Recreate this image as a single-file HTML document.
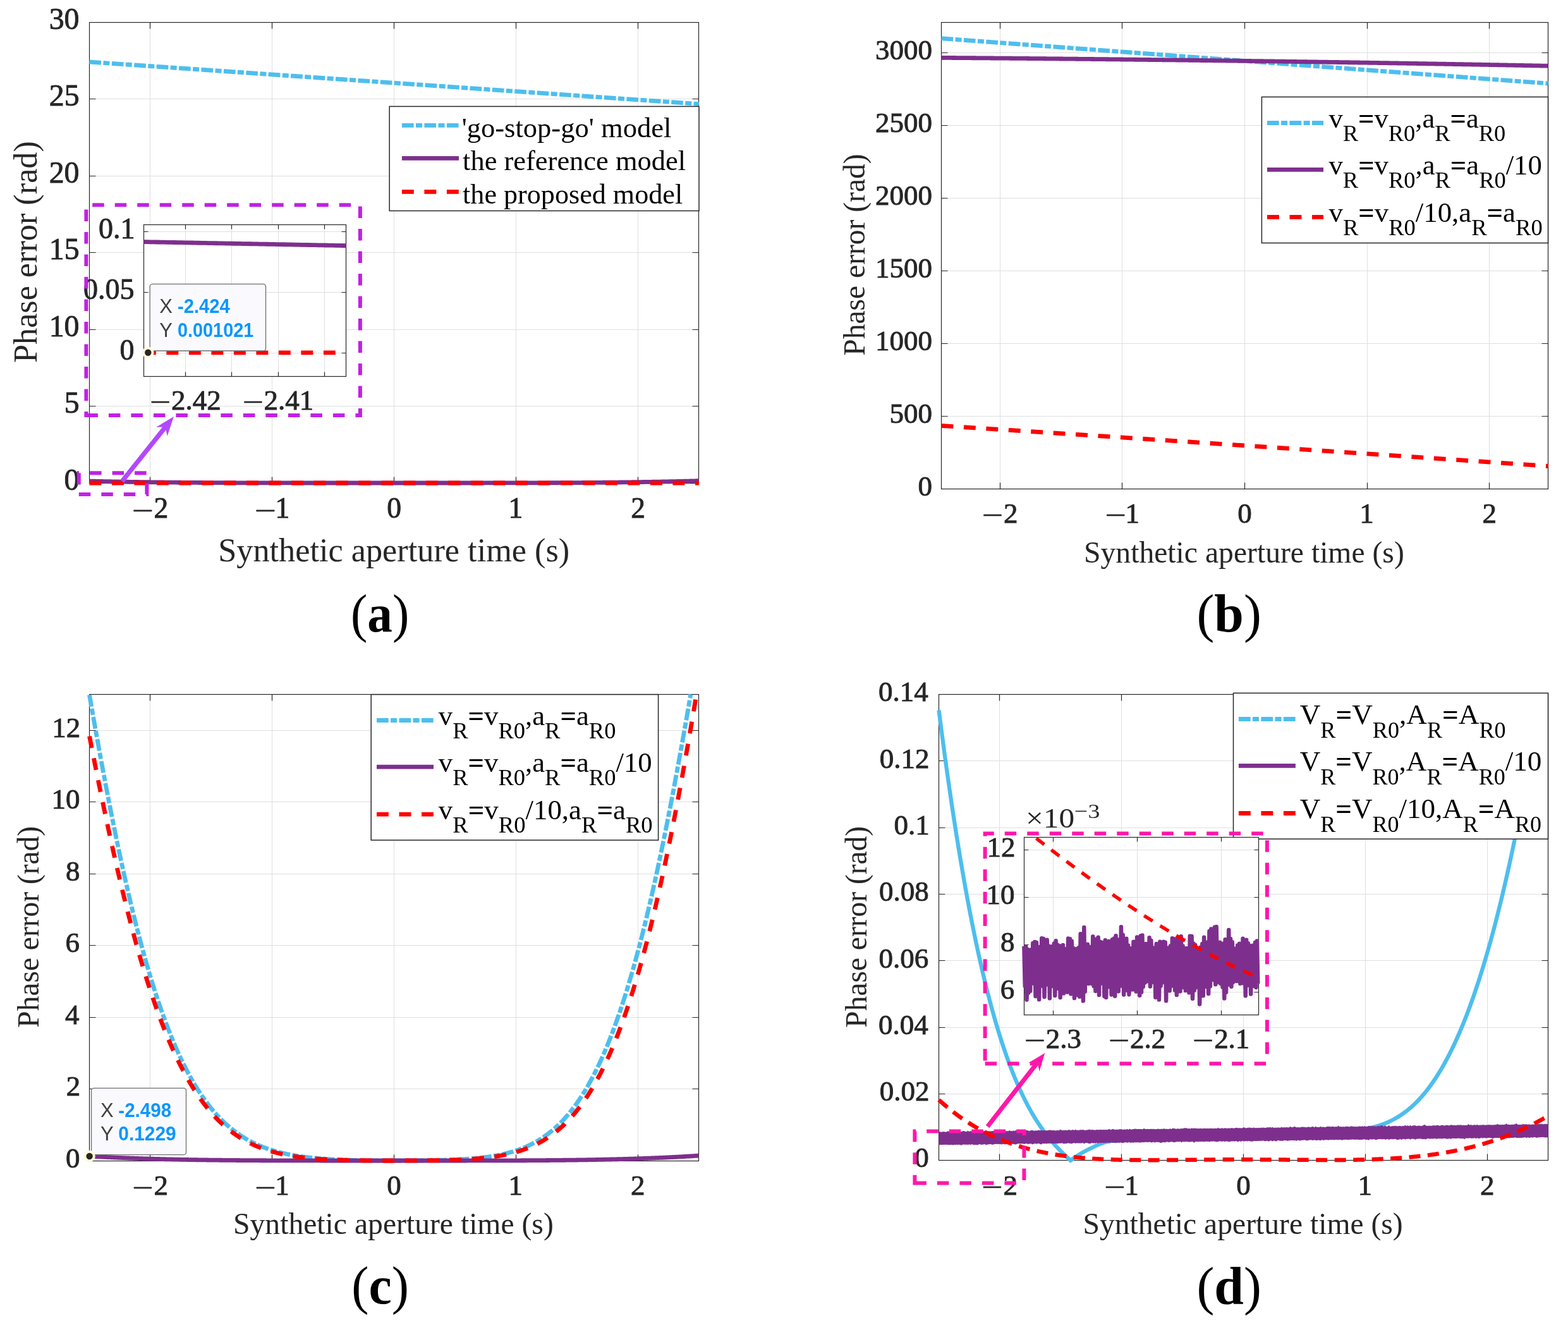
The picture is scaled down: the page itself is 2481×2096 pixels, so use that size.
<!DOCTYPE html>
<html><head><meta charset="utf-8"><style>html,body{margin:0;padding:0;background:#fff;}svg{display:block;}</style></head>
<body><svg xmlns="http://www.w3.org/2000/svg" width="2481" height="2096" viewBox="0 0 2481 2096">
<defs><clipPath id="cA"><rect x="141.4" y="35" width="964.5" height="729"/></clipPath><clipPath id="cIA"><rect x="227.4" y="355.5" width="320.2" height="240"/></clipPath><clipPath id="cB"><rect x="1489.5" y="35.5" width="960" height="738"/></clipPath><clipPath id="cC"><rect x="141.5" y="1098.3" width="964" height="737.7"/></clipPath><clipPath id="cD"><rect x="1485.5" y="1098.7" width="964" height="737"/></clipPath><clipPath id="cID"><rect x="1620.4" y="1324.9" width="371" height="280.5"/></clipPath></defs>
<rect width="2481" height="2096" fill="#fff"/>
<rect x="141.4" y="35" width="964.5" height="729" fill="#fff"/>
<path d="M237.5 35V764 M430.5 35V764 M623.5 35V764 M816.5 35V764 M1009.5 35V764 M141.4 764.5H1105.9 M141.4 642.5H1105.9 M141.4 521.5H1105.9 M141.4 399.5H1105.9 M141.4 278.5H1105.9 M141.4 156.5H1105.9 M141.4 35.5H1105.9" stroke="#dfdfdf" stroke-width="1.0" fill="none"/>
<path d="M237.5 764.5V754.5 M237.5 35.5V45.5 M430.5 764.5V754.5 M430.5 35.5V45.5 M623.5 764.5V754.5 M623.5 35.5V45.5 M816.5 764.5V754.5 M816.5 35.5V45.5 M1009.5 764.5V754.5 M1009.5 35.5V45.5 M141.5 764.5H151.5 M1105.5 764.5H1095.5 M141.5 642.5H151.5 M1105.5 642.5H1095.5 M141.5 521.5H151.5 M1105.5 521.5H1095.5 M141.5 399.5H151.5 M1105.5 399.5H1095.5 M141.5 278.5H151.5 M1105.5 278.5H1095.5 M141.5 156.5H151.5 M1105.5 156.5H1095.5 M141.5 35.5H151.5 M1105.5 35.5H1095.5" stroke="#262626" stroke-width="1.2" fill="none"/>
<rect x="141.5" y="35.5" width="964" height="729" fill="none" stroke="#262626" stroke-width="1.2"/>
<path d="M141.4 97.94 L142.61 98.02 L143.81 98.1 L145.02 98.19 L146.22 98.27 L147.43 98.35 L148.63 98.44 L149.84 98.52 L151.04 98.6 L152.25 98.69 L153.46 98.77 L154.66 98.85 L155.87 98.94 L157.07 99.02 L158.28 99.1 L159.48 99.19 L160.69 99.27 L161.9 99.35 L163.1 99.44 L164.31 99.52 L165.51 99.6 L166.72 99.68 L167.92 99.77 L169.13 99.85 L170.33 99.93 L171.54 100.02 L172.75 100.1 L173.95 100.18 L175.16 100.27 L176.36 100.35 L177.57 100.43 L178.77 100.52 L179.98 100.6 L181.19 100.68 L182.39 100.77 L183.6 100.85 L184.8 100.93 L186.01 101.02 L187.21 101.1 L188.42 101.18 L189.62 101.27 L190.83 101.35 L192.04 101.43 L193.24 101.52 L194.45 101.6 L195.65 101.68 L196.86 101.77 L198.06 101.85 L199.27 101.93 L200.48 102.02 L201.68 102.1 L202.89 102.18 L204.09 102.26 L205.3 102.35 L206.5 102.43 L207.71 102.51 L208.92 102.6 L210.12 102.68 L211.33 102.76 L212.53 102.85 L213.74 102.93 L214.94 103.01 L216.15 103.1 L217.35 103.18 L218.56 103.26 L219.77 103.35 L220.97 103.43 L222.18 103.51 L223.38 103.6 L224.59 103.68 L225.79 103.76 L227 103.85 L228.21 103.93 L229.41 104.01 L230.62 104.1 L231.82 104.18 L233.03 104.26 L234.23 104.35 L235.44 104.43 L236.64 104.51 L237.85 104.6 L239.06 104.68 L240.26 104.76 L241.47 104.84 L242.67 104.93 L243.88 105.01 L245.08 105.09 L246.29 105.18 L247.5 105.26 L248.7 105.34 L249.91 105.43 L251.11 105.51 L252.32 105.59 L253.52 105.68 L254.73 105.76 L255.93 105.84 L257.14 105.93 L258.35 106.01 L259.55 106.09 L260.76 106.18 L261.96 106.26 L263.17 106.34 L264.37 106.43 L265.58 106.51 L266.78 106.59 L267.99 106.68 L269.2 106.76 L270.4 106.84 L271.61 106.93 L272.81 107.01 L274.02 107.09 L275.22 107.18 L276.43 107.26 L277.64 107.34 L278.84 107.42 L280.05 107.51 L281.25 107.59 L282.46 107.67 L283.66 107.76 L284.87 107.84 L286.08 107.92 L287.28 108.01 L288.49 108.09 L289.69 108.17 L290.9 108.26 L292.1 108.34 L293.31 108.42 L294.51 108.51 L295.72 108.59 L296.93 108.67 L298.13 108.76 L299.34 108.84 L300.54 108.92 L301.75 109.01 L302.95 109.09 L304.16 109.17 L305.37 109.26 L306.57 109.34 L307.78 109.42 L308.98 109.51 L310.19 109.59 L311.39 109.67 L312.6 109.76 L313.8 109.84 L315.01 109.92 L316.22 110 L317.42 110.09 L318.63 110.17 L319.83 110.25 L321.04 110.34 L322.24 110.42 L323.45 110.5 L324.66 110.59 L325.86 110.67 L327.07 110.75 L328.27 110.84 L329.48 110.92 L330.68 111 L331.89 111.09 L333.09 111.17 L334.3 111.25 L335.51 111.34 L336.71 111.42 L337.92 111.5 L339.12 111.59 L340.33 111.67 L341.53 111.75 L342.74 111.84 L343.95 111.92 L345.15 112 L346.36 112.09 L347.56 112.17 L348.77 112.25 L349.97 112.34 L351.18 112.42 L352.38 112.5 L353.59 112.59 L354.8 112.67 L356 112.75 L357.21 112.83 L358.41 112.92 L359.62 113 L360.82 113.08 L362.03 113.17 L363.24 113.25 L364.44 113.33 L365.65 113.42 L366.85 113.5 L368.06 113.58 L369.26 113.67 L370.47 113.75 L371.67 113.83 L372.88 113.92 L374.09 114 L375.29 114.08 L376.5 114.17 L377.7 114.25 L378.91 114.33 L380.11 114.42 L381.32 114.5 L382.53 114.58 L383.73 114.67 L384.94 114.75 L386.14 114.83 L387.35 114.92 L388.55 115 L389.76 115.08 L390.96 115.17 L392.17 115.25 L393.38 115.33 L394.58 115.41 L395.79 115.5 L396.99 115.58 L398.2 115.66 L399.4 115.75 L400.61 115.83 L401.82 115.91 L403.02 116 L404.23 116.08 L405.43 116.16 L406.64 116.25 L407.84 116.33 L409.05 116.41 L410.25 116.5 L411.46 116.58 L412.67 116.66 L413.87 116.75 L415.08 116.83 L416.28 116.91 L417.49 117 L418.69 117.08 L419.9 117.16 L421.11 117.25 L422.31 117.33 L423.52 117.41 L424.72 117.5 L425.93 117.58 L427.13 117.66 L428.34 117.75 L429.54 117.83 L430.75 117.91 L431.96 117.99 L433.16 118.08 L434.37 118.16 L435.57 118.24 L436.78 118.33 L437.98 118.41 L439.19 118.49 L440.4 118.58 L441.6 118.66 L442.81 118.74 L444.01 118.83 L445.22 118.91 L446.42 118.99 L447.63 119.08 L448.83 119.16 L450.04 119.24 L451.25 119.33 L452.45 119.41 L453.66 119.49 L454.86 119.58 L456.07 119.66 L457.27 119.74 L458.48 119.83 L459.69 119.91 L460.89 119.99 L462.1 120.08 L463.3 120.16 L464.51 120.24 L465.71 120.33 L466.92 120.41 L468.12 120.49 L469.33 120.57 L470.54 120.66 L471.74 120.74 L472.95 120.82 L474.15 120.91 L475.36 120.99 L476.56 121.07 L477.77 121.16 L478.98 121.24 L480.18 121.32 L481.39 121.41 L482.59 121.49 L483.8 121.57 L485 121.66 L486.21 121.74 L487.41 121.82 L488.62 121.91 L489.83 121.99 L491.03 122.07 L492.24 122.16 L493.44 122.24 L494.65 122.32 L495.85 122.41 L497.06 122.49 L498.27 122.57 L499.47 122.66 L500.68 122.74 L501.88 122.82 L503.09 122.91 L504.29 122.99 L505.5 123.07 L506.7 123.15 L507.91 123.24 L509.12 123.32 L510.32 123.4 L511.53 123.49 L512.73 123.57 L513.94 123.65 L515.14 123.74 L516.35 123.82 L517.56 123.9 L518.76 123.99 L519.97 124.07 L521.17 124.15 L522.38 124.24 L523.58 124.32 L524.79 124.4 L525.99 124.49 L527.2 124.57 L528.41 124.65 L529.61 124.74 L530.82 124.82 L532.02 124.9 L533.23 124.99 L534.43 125.07 L535.64 125.15 L536.85 125.24 L538.05 125.32 L539.26 125.4 L540.46 125.49 L541.67 125.57 L542.87 125.65 L544.08 125.73 L545.28 125.82 L546.49 125.9 L547.7 125.98 L548.9 126.07 L550.11 126.15 L551.31 126.23 L552.52 126.32 L553.72 126.4 L554.93 126.48 L556.14 126.57 L557.34 126.65 L558.55 126.73 L559.75 126.82 L560.96 126.9 L562.16 126.98 L563.37 127.07 L564.57 127.15 L565.78 127.23 L566.99 127.32 L568.19 127.4 L569.4 127.48 L570.6 127.57 L571.81 127.65 L573.01 127.73 L574.22 127.82 L575.43 127.9 L576.63 127.98 L577.84 128.07 L579.04 128.15 L580.25 128.23 L581.45 128.32 L582.66 128.4 L583.86 128.48 L585.07 128.56 L586.28 128.65 L587.48 128.73 L588.69 128.81 L589.89 128.9 L591.1 128.98 L592.3 129.06 L593.51 129.15 L594.72 129.23 L595.92 129.31 L597.13 129.4 L598.33 129.48 L599.54 129.56 L600.74 129.65 L601.95 129.73 L603.15 129.81 L604.36 129.9 L605.57 129.98 L606.77 130.06 L607.98 130.15 L609.18 130.23 L610.39 130.31 L611.59 130.4 L612.8 130.48 L614.01 130.56 L615.21 130.65 L616.42 130.73 L617.62 130.81 L618.83 130.9 L620.03 130.98 L621.24 131.06 L622.44 131.14 L623.65 131.23 L624.86 131.31 L626.06 131.39 L627.27 131.48 L628.47 131.56 L629.68 131.64 L630.88 131.73 L632.09 131.81 L633.3 131.89 L634.5 131.98 L635.71 132.06 L636.91 132.14 L638.12 132.23 L639.32 132.31 L640.53 132.39 L641.73 132.48 L642.94 132.56 L644.15 132.64 L645.35 132.73 L646.56 132.81 L647.76 132.89 L648.97 132.98 L650.17 133.06 L651.38 133.14 L652.59 133.23 L653.79 133.31 L655 133.39 L656.2 133.48 L657.41 133.56 L658.61 133.64 L659.82 133.72 L661.02 133.81 L662.23 133.89 L663.44 133.97 L664.64 134.06 L665.85 134.14 L667.05 134.22 L668.26 134.31 L669.46 134.39 L670.67 134.47 L671.88 134.56 L673.08 134.64 L674.29 134.72 L675.49 134.81 L676.7 134.89 L677.9 134.97 L679.11 135.06 L680.31 135.14 L681.52 135.22 L682.73 135.31 L683.93 135.39 L685.14 135.47 L686.34 135.56 L687.55 135.64 L688.75 135.72 L689.96 135.81 L691.17 135.89 L692.37 135.97 L693.58 136.06 L694.78 136.14 L695.99 136.22 L697.19 136.3 L698.4 136.39 L699.6 136.47 L700.81 136.55 L702.02 136.64 L703.22 136.72 L704.43 136.8 L705.63 136.89 L706.84 136.97 L708.04 137.05 L709.25 137.14 L710.46 137.22 L711.66 137.3 L712.87 137.39 L714.07 137.47 L715.28 137.55 L716.48 137.64 L717.69 137.72 L718.89 137.8 L720.1 137.89 L721.31 137.97 L722.51 138.05 L723.72 138.14 L724.92 138.22 L726.13 138.3 L727.33 138.39 L728.54 138.47 L729.75 138.55 L730.95 138.64 L732.16 138.72 L733.36 138.8 L734.57 138.88 L735.77 138.97 L736.98 139.05 L738.18 139.13 L739.39 139.22 L740.6 139.3 L741.8 139.38 L743.01 139.47 L744.21 139.55 L745.42 139.63 L746.62 139.72 L747.83 139.8 L749.04 139.88 L750.24 139.97 L751.45 140.05 L752.65 140.13 L753.86 140.22 L755.06 140.3 L756.27 140.38 L757.47 140.47 L758.68 140.55 L759.89 140.63 L761.09 140.72 L762.3 140.8 L763.5 140.88 L764.71 140.97 L765.91 141.05 L767.12 141.13 L768.33 141.22 L769.53 141.3 L770.74 141.38 L771.94 141.46 L773.15 141.55 L774.35 141.63 L775.56 141.71 L776.76 141.8 L777.97 141.88 L779.18 141.96 L780.38 142.05 L781.59 142.13 L782.79 142.21 L784 142.3 L785.2 142.38 L786.41 142.46 L787.62 142.55 L788.82 142.63 L790.03 142.71 L791.23 142.8 L792.44 142.88 L793.64 142.96 L794.85 143.05 L796.05 143.13 L797.26 143.21 L798.47 143.3 L799.67 143.38 L800.88 143.46 L802.08 143.55 L803.29 143.63 L804.49 143.71 L805.7 143.8 L806.91 143.88 L808.11 143.96 L809.32 144.05 L810.52 144.13 L811.73 144.21 L812.93 144.29 L814.14 144.38 L815.34 144.46 L816.55 144.54 L817.76 144.63 L818.96 144.71 L820.17 144.79 L821.37 144.88 L822.58 144.96 L823.78 145.04 L824.99 145.13 L826.2 145.21 L827.4 145.29 L828.61 145.38 L829.81 145.46 L831.02 145.54 L832.22 145.63 L833.43 145.71 L834.63 145.79 L835.84 145.88 L837.05 145.96 L838.25 146.04 L839.46 146.13 L840.66 146.21 L841.87 146.29 L843.07 146.38 L844.28 146.46 L845.49 146.54 L846.69 146.63 L847.9 146.71 L849.1 146.79 L850.31 146.87 L851.51 146.96 L852.72 147.04 L853.92 147.12 L855.13 147.21 L856.34 147.29 L857.54 147.37 L858.75 147.46 L859.95 147.54 L861.16 147.62 L862.36 147.71 L863.57 147.79 L864.78 147.87 L865.98 147.96 L867.19 148.04 L868.39 148.12 L869.6 148.21 L870.8 148.29 L872.01 148.37 L873.21 148.46 L874.42 148.54 L875.63 148.62 L876.83 148.71 L878.04 148.79 L879.24 148.87 L880.45 148.96 L881.65 149.04 L882.86 149.12 L884.07 149.21 L885.27 149.29 L886.48 149.37 L887.68 149.45 L888.89 149.54 L890.09 149.62 L891.3 149.7 L892.5 149.79 L893.71 149.87 L894.92 149.95 L896.12 150.04 L897.33 150.12 L898.53 150.2 L899.74 150.29 L900.94 150.37 L902.15 150.45 L903.36 150.54 L904.56 150.62 L905.77 150.7 L906.97 150.79 L908.18 150.87 L909.38 150.95 L910.59 151.04 L911.79 151.12 L913 151.2 L914.21 151.29 L915.41 151.37 L916.62 151.45 L917.82 151.54 L919.03 151.62 L920.23 151.7 L921.44 151.79 L922.64 151.87 L923.85 151.95 L925.06 152.03 L926.26 152.12 L927.47 152.2 L928.67 152.28 L929.88 152.37 L931.08 152.45 L932.29 152.53 L933.5 152.62 L934.7 152.7 L935.91 152.78 L937.11 152.87 L938.32 152.95 L939.52 153.03 L940.73 153.12 L941.94 153.2 L943.14 153.28 L944.35 153.37 L945.55 153.45 L946.76 153.53 L947.96 153.62 L949.17 153.7 L950.37 153.78 L951.58 153.87 L952.79 153.95 L953.99 154.03 L955.2 154.12 L956.4 154.2 L957.61 154.28 L958.81 154.37 L960.02 154.45 L961.23 154.53 L962.43 154.61 L963.64 154.7 L964.84 154.78 L966.05 154.86 L967.25 154.95 L968.46 155.03 L969.66 155.11 L970.87 155.2 L972.08 155.28 L973.28 155.36 L974.49 155.45 L975.69 155.53 L976.9 155.61 L978.1 155.7 L979.31 155.78 L980.52 155.86 L981.72 155.95 L982.93 156.03 L984.13 156.11 L985.34 156.2 L986.54 156.28 L987.75 156.36 L988.95 156.45 L990.16 156.53 L991.37 156.61 L992.57 156.7 L993.78 156.78 L994.98 156.86 L996.19 156.95 L997.39 157.03 L998.6 157.11 L999.81 157.19 L1001.01 157.28 L1002.22 157.36 L1003.42 157.44 L1004.63 157.53 L1005.83 157.61 L1007.04 157.69 L1008.24 157.78 L1009.45 157.86 L1010.66 157.94 L1011.86 158.03 L1013.07 158.11 L1014.27 158.19 L1015.48 158.28 L1016.68 158.36 L1017.89 158.44 L1019.1 158.53 L1020.3 158.61 L1021.51 158.69 L1022.71 158.78 L1023.92 158.86 L1025.12 158.94 L1026.33 159.03 L1027.53 159.11 L1028.74 159.19 L1029.95 159.28 L1031.15 159.36 L1032.36 159.44 L1033.56 159.53 L1034.77 159.61 L1035.97 159.69 L1037.18 159.78 L1038.39 159.86 L1039.59 159.94 L1040.8 160.02 L1042 160.11 L1043.21 160.19 L1044.41 160.27 L1045.62 160.36 L1046.82 160.44 L1048.03 160.52 L1049.24 160.61 L1050.44 160.69 L1051.65 160.77 L1052.85 160.86 L1054.06 160.94 L1055.26 161.02 L1056.47 161.11 L1057.68 161.19 L1058.88 161.27 L1060.09 161.36 L1061.29 161.44 L1062.5 161.52 L1063.7 161.61 L1064.91 161.69 L1066.11 161.77 L1067.32 161.86 L1068.53 161.94 L1069.73 162.02 L1070.94 162.11 L1072.14 162.19 L1073.35 162.27 L1074.55 162.36 L1075.76 162.44 L1076.97 162.52 L1078.17 162.6 L1079.38 162.69 L1080.58 162.77 L1081.79 162.85 L1082.99 162.94 L1084.2 163.02 L1085.4 163.1 L1086.61 163.19 L1087.82 163.27 L1089.02 163.35 L1090.23 163.44 L1091.43 163.52 L1092.64 163.6 L1093.84 163.69 L1095.05 163.77 L1096.26 163.85 L1097.46 163.94 L1098.67 164.02 L1099.87 164.1 L1101.08 164.19 L1102.28 164.27 L1103.49 164.35 L1104.69 164.44 L1105.9 164.52" fill="none" stroke="#4dbeee" stroke-width="6.8" stroke-linecap="butt" stroke-linejoin="round" stroke-dasharray="18.7 3.4 10 3.4"/>
<path d="M141.4 761.02 L142.61 761.05 L143.81 761.08 L145.02 761.11 L146.22 761.14 L147.43 761.17 L148.63 761.19 L149.84 761.22 L151.04 761.25 L152.25 761.28 L153.46 761.31 L154.66 761.33 L155.87 761.36 L157.07 761.39 L158.28 761.41 L159.48 761.44 L160.69 761.46 L161.9 761.49 L163.1 761.52 L164.31 761.54 L165.51 761.57 L166.72 761.59 L167.92 761.62 L169.13 761.64 L170.33 761.67 L171.54 761.69 L172.75 761.71 L173.95 761.74 L175.16 761.76 L176.36 761.79 L177.57 761.81 L178.77 761.83 L179.98 761.86 L181.19 761.88 L182.39 761.9 L183.6 761.92 L184.8 761.95 L186.01 761.97 L187.21 761.99 L188.42 762.01 L189.62 762.03 L190.83 762.05 L192.04 762.08 L193.24 762.1 L194.45 762.12 L195.65 762.14 L196.86 762.16 L198.06 762.18 L199.27 762.2 L200.48 762.22 L201.68 762.24 L202.89 762.26 L204.09 762.28 L205.3 762.3 L206.5 762.32 L207.71 762.34 L208.92 762.36 L210.12 762.37 L211.33 762.39 L212.53 762.41 L213.74 762.43 L214.94 762.45 L216.15 762.47 L217.35 762.48 L218.56 762.5 L219.77 762.52 L220.97 762.54 L222.18 762.55 L223.38 762.57 L224.59 762.59 L225.79 762.6 L227 762.62 L228.21 762.64 L229.41 762.65 L230.62 762.67 L231.82 762.69 L233.03 762.7 L234.23 762.72 L235.44 762.73 L236.64 762.75 L237.85 762.76 L239.06 762.78 L240.26 762.79 L241.47 762.81 L242.67 762.82 L243.88 762.84 L245.08 762.85 L246.29 762.87 L247.5 762.88 L248.7 762.9 L249.91 762.91 L251.11 762.92 L252.32 762.94 L253.52 762.95 L254.73 762.96 L255.93 762.98 L257.14 762.99 L258.35 763 L259.55 763.02 L260.76 763.03 L261.96 763.04 L263.17 763.05 L264.37 763.07 L265.58 763.08 L266.78 763.09 L267.99 763.1 L269.2 763.12 L270.4 763.13 L271.61 763.14 L272.81 763.15 L274.02 763.16 L275.22 763.17 L276.43 763.18 L277.64 763.2 L278.84 763.21 L280.05 763.22 L281.25 763.23 L282.46 763.24 L283.66 763.25 L284.87 763.26 L286.08 763.27 L287.28 763.28 L288.49 763.29 L289.69 763.3 L290.9 763.31 L292.1 763.32 L293.31 763.33 L294.51 763.34 L295.72 763.35 L296.93 763.36 L298.13 763.37 L299.34 763.38 L300.54 763.39 L301.75 763.4 L302.95 763.4 L304.16 763.41 L305.37 763.42 L306.57 763.43 L307.78 763.44 L308.98 763.45 L310.19 763.46 L311.39 763.46 L312.6 763.47 L313.8 763.48 L315.01 763.49 L316.22 763.5 L317.42 763.5 L318.63 763.51 L319.83 763.52 L321.04 763.53 L322.24 763.53 L323.45 763.54 L324.66 763.55 L325.86 763.56 L327.07 763.56 L328.27 763.57 L329.48 763.58 L330.68 763.58 L331.89 763.59 L333.09 763.6 L334.3 763.6 L335.51 763.61 L336.71 763.62 L337.92 763.62 L339.12 763.63 L340.33 763.64 L341.53 763.64 L342.74 763.65 L343.95 763.65 L345.15 763.66 L346.36 763.67 L347.56 763.67 L348.77 763.68 L349.97 763.68 L351.18 763.69 L352.38 763.69 L353.59 763.7 L354.8 763.7 L356 763.71 L357.21 763.71 L358.41 763.72 L359.62 763.72 L360.82 763.73 L362.03 763.73 L363.24 763.74 L364.44 763.74 L365.65 763.75 L366.85 763.75 L368.06 763.76 L369.26 763.76 L370.47 763.77 L371.67 763.77 L372.88 763.78 L374.09 763.78 L375.29 763.78 L376.5 763.79 L377.7 763.79 L378.91 763.8 L380.11 763.8 L381.32 763.8 L382.53 763.81 L383.73 763.81 L384.94 763.82 L386.14 763.82 L387.35 763.82 L388.55 763.83 L389.76 763.83 L390.96 763.83 L392.17 763.84 L393.38 763.84 L394.58 763.84 L395.79 763.85 L396.99 763.85 L398.2 763.85 L399.4 763.86 L400.61 763.86 L401.82 763.86 L403.02 763.86 L404.23 763.87 L405.43 763.87 L406.64 763.87 L407.84 763.88 L409.05 763.88 L410.25 763.88 L411.46 763.88 L412.67 763.89 L413.87 763.89 L415.08 763.89 L416.28 763.89 L417.49 763.9 L418.69 763.9 L419.9 763.9 L421.11 763.9 L422.31 763.91 L423.52 763.91 L424.72 763.91 L425.93 763.91 L427.13 763.91 L428.34 763.92 L429.54 763.92 L430.75 763.92 L431.96 763.92 L433.16 763.92 L434.37 763.93 L435.57 763.93 L436.78 763.93 L437.98 763.93 L439.19 763.93 L440.4 763.94 L441.6 763.94 L442.81 763.94 L444.01 763.94 L445.22 763.94 L446.42 763.94 L447.63 763.94 L448.83 763.95 L450.04 763.95 L451.25 763.95 L452.45 763.95 L453.66 763.95 L454.86 763.95 L456.07 763.95 L457.27 763.96 L458.48 763.96 L459.69 763.96 L460.89 763.96 L462.1 763.96 L463.3 763.96 L464.51 763.96 L465.71 763.96 L466.92 763.97 L468.12 763.97 L469.33 763.97 L470.54 763.97 L471.74 763.97 L472.95 763.97 L474.15 763.97 L475.36 763.97 L476.56 763.97 L477.77 763.97 L478.98 763.97 L480.18 763.98 L481.39 763.98 L482.59 763.98 L483.8 763.98 L485 763.98 L486.21 763.98 L487.41 763.98 L488.62 763.98 L489.83 763.98 L491.03 763.98 L492.24 763.98 L493.44 763.98 L494.65 763.98 L495.85 763.98 L497.06 763.99 L498.27 763.99 L499.47 763.99 L500.68 763.99 L501.88 763.99 L503.09 763.99 L504.29 763.99 L505.5 763.99 L506.7 763.99 L507.91 763.99 L509.12 763.99 L510.32 763.99 L511.53 763.99 L512.73 763.99 L513.94 763.99 L515.14 763.99 L516.35 763.99 L517.56 763.99 L518.76 763.99 L519.97 763.99 L521.17 763.99 L522.38 763.99 L523.58 763.99 L524.79 763.99 L525.99 763.99 L527.2 763.99 L528.41 764 L529.61 764 L530.82 764 L532.02 764 L533.23 764 L534.43 764 L535.64 764 L536.85 764 L538.05 764 L539.26 764 L540.46 764 L541.67 764 L542.87 764 L544.08 764 L545.28 764 L546.49 764 L547.7 764 L548.9 764 L550.11 764 L551.31 764 L552.52 764 L553.72 764 L554.93 764 L556.14 764 L557.34 764 L558.55 764 L559.75 764 L560.96 764 L562.16 764 L563.37 764 L564.57 764 L565.78 764 L566.99 764 L568.19 764 L569.4 764 L570.6 764 L571.81 764 L573.01 764 L574.22 764 L575.43 764 L576.63 764 L577.84 764 L579.04 764 L580.25 764 L581.45 764 L582.66 764 L583.86 764 L585.07 764 L586.28 764 L587.48 764 L588.69 764 L589.89 764 L591.1 764 L592.3 764 L593.51 764 L594.72 764 L595.92 764 L597.13 764 L598.33 764 L599.54 764 L600.74 764 L601.95 764 L603.15 764 L604.36 764 L605.57 764 L606.77 764 L607.98 764 L609.18 764 L610.39 764 L611.59 764 L612.8 764 L614.01 764 L615.21 764 L616.42 764 L617.62 764 L618.83 764 L620.03 764 L621.24 764 L622.44 764 L623.65 764 L624.86 764 L626.06 764 L627.27 764 L628.47 764 L629.68 764 L630.88 764 L632.09 764 L633.3 764 L634.5 764 L635.71 764 L636.91 764 L638.12 764 L639.32 764 L640.53 764 L641.73 764 L642.94 764 L644.15 764 L645.35 764 L646.56 764 L647.76 764 L648.97 764 L650.17 764 L651.38 764 L652.59 764 L653.79 764 L655 764 L656.2 764 L657.41 764 L658.61 764 L659.82 764 L661.02 764 L662.23 764 L663.44 764 L664.64 764 L665.85 764 L667.05 764 L668.26 764 L669.46 764 L670.67 764 L671.88 764 L673.08 764 L674.29 764 L675.49 764 L676.7 764 L677.9 764 L679.11 764 L680.31 764 L681.52 764 L682.73 764 L683.93 764 L685.14 764 L686.34 764 L687.55 764 L688.75 764 L689.96 764 L691.17 764 L692.37 764 L693.58 764 L694.78 764 L695.99 764 L697.19 764 L698.4 764 L699.6 764 L700.81 764 L702.02 764 L703.22 764 L704.43 764 L705.63 764 L706.84 764 L708.04 764 L709.25 764 L710.46 764 L711.66 764 L712.87 764 L714.07 764 L715.28 764 L716.48 764 L717.69 764 L718.89 764 L720.1 763.99 L721.31 763.99 L722.51 763.99 L723.72 763.99 L724.92 763.99 L726.13 763.99 L727.33 763.99 L728.54 763.99 L729.75 763.99 L730.95 763.99 L732.16 763.99 L733.36 763.99 L734.57 763.99 L735.77 763.99 L736.98 763.99 L738.18 763.99 L739.39 763.99 L740.6 763.99 L741.8 763.99 L743.01 763.99 L744.21 763.99 L745.42 763.99 L746.62 763.99 L747.83 763.99 L749.04 763.99 L750.24 763.98 L751.45 763.98 L752.65 763.98 L753.86 763.98 L755.06 763.98 L756.27 763.98 L757.47 763.98 L758.68 763.98 L759.89 763.98 L761.09 763.98 L762.3 763.98 L763.5 763.98 L764.71 763.98 L765.91 763.98 L767.12 763.97 L768.33 763.97 L769.53 763.97 L770.74 763.97 L771.94 763.97 L773.15 763.97 L774.35 763.97 L775.56 763.97 L776.76 763.97 L777.97 763.97 L779.18 763.96 L780.38 763.96 L781.59 763.96 L782.79 763.96 L784 763.96 L785.2 763.96 L786.41 763.96 L787.62 763.96 L788.82 763.96 L790.03 763.95 L791.23 763.95 L792.44 763.95 L793.64 763.95 L794.85 763.95 L796.05 763.95 L797.26 763.95 L798.47 763.94 L799.67 763.94 L800.88 763.94 L802.08 763.94 L803.29 763.94 L804.49 763.94 L805.7 763.93 L806.91 763.93 L808.11 763.93 L809.32 763.93 L810.52 763.93 L811.73 763.92 L812.93 763.92 L814.14 763.92 L815.34 763.92 L816.55 763.92 L817.76 763.91 L818.96 763.91 L820.17 763.91 L821.37 763.91 L822.58 763.91 L823.78 763.9 L824.99 763.9 L826.2 763.9 L827.4 763.9 L828.61 763.89 L829.81 763.89 L831.02 763.89 L832.22 763.89 L833.43 763.88 L834.63 763.88 L835.84 763.88 L837.05 763.87 L838.25 763.87 L839.46 763.87 L840.66 763.87 L841.87 763.86 L843.07 763.86 L844.28 763.86 L845.49 763.85 L846.69 763.85 L847.9 763.85 L849.1 763.84 L850.31 763.84 L851.51 763.84 L852.72 763.83 L853.92 763.83 L855.13 763.83 L856.34 763.82 L857.54 763.82 L858.75 763.81 L859.95 763.81 L861.16 763.81 L862.36 763.8 L863.57 763.8 L864.78 763.79 L865.98 763.79 L867.19 763.79 L868.39 763.78 L869.6 763.78 L870.8 763.77 L872.01 763.77 L873.21 763.76 L874.42 763.76 L875.63 763.75 L876.83 763.75 L878.04 763.75 L879.24 763.74 L880.45 763.74 L881.65 763.73 L882.86 763.73 L884.07 763.72 L885.27 763.71 L886.48 763.71 L887.68 763.7 L888.89 763.7 L890.09 763.69 L891.3 763.69 L892.5 763.68 L893.71 763.68 L894.92 763.67 L896.12 763.66 L897.33 763.66 L898.53 763.65 L899.74 763.65 L900.94 763.64 L902.15 763.63 L903.36 763.63 L904.56 763.62 L905.77 763.61 L906.97 763.61 L908.18 763.6 L909.38 763.59 L910.59 763.59 L911.79 763.58 L913 763.57 L914.21 763.56 L915.41 763.56 L916.62 763.55 L917.82 763.54 L919.03 763.53 L920.23 763.53 L921.44 763.52 L922.64 763.51 L923.85 763.5 L925.06 763.49 L926.26 763.49 L927.47 763.48 L928.67 763.47 L929.88 763.46 L931.08 763.45 L932.29 763.44 L933.5 763.43 L934.7 763.43 L935.91 763.42 L937.11 763.41 L938.32 763.4 L939.52 763.39 L940.73 763.38 L941.94 763.37 L943.14 763.36 L944.35 763.35 L945.55 763.34 L946.76 763.33 L947.96 763.32 L949.17 763.31 L950.37 763.3 L951.58 763.29 L952.79 763.28 L953.99 763.27 L955.2 763.26 L956.4 763.25 L957.61 763.24 L958.81 763.22 L960.02 763.21 L961.23 763.2 L962.43 763.19 L963.64 763.18 L964.84 763.17 L966.05 763.15 L967.25 763.14 L968.46 763.13 L969.66 763.12 L970.87 763.1 L972.08 763.09 L973.28 763.08 L974.49 763.07 L975.69 763.05 L976.9 763.04 L978.1 763.03 L979.31 763.01 L980.52 763 L981.72 762.99 L982.93 762.97 L984.13 762.96 L985.34 762.94 L986.54 762.93 L987.75 762.91 L988.95 762.9 L990.16 762.89 L991.37 762.87 L992.57 762.86 L993.78 762.84 L994.98 762.83 L996.19 762.81 L997.39 762.79 L998.6 762.78 L999.81 762.76 L1001.01 762.75 L1002.22 762.73 L1003.42 762.71 L1004.63 762.7 L1005.83 762.68 L1007.04 762.66 L1008.24 762.65 L1009.45 762.63 L1010.66 762.61 L1011.86 762.59 L1013.07 762.58 L1014.27 762.56 L1015.48 762.54 L1016.68 762.52 L1017.89 762.5 L1019.1 762.48 L1020.3 762.47 L1021.51 762.45 L1022.71 762.43 L1023.92 762.41 L1025.12 762.39 L1026.33 762.37 L1027.53 762.35 L1028.74 762.33 L1029.95 762.31 L1031.15 762.29 L1032.36 762.27 L1033.56 762.25 L1034.77 762.23 L1035.97 762.2 L1037.18 762.18 L1038.39 762.16 L1039.59 762.14 L1040.8 762.12 L1042 762.1 L1043.21 762.07 L1044.41 762.05 L1045.62 762.03 L1046.82 762.01 L1048.03 761.98 L1049.24 761.96 L1050.44 761.94 L1051.65 761.91 L1052.85 761.89 L1054.06 761.86 L1055.26 761.84 L1056.47 761.81 L1057.68 761.79 L1058.88 761.76 L1060.09 761.74 L1061.29 761.71 L1062.5 761.69 L1063.7 761.66 L1064.91 761.64 L1066.11 761.61 L1067.32 761.58 L1068.53 761.56 L1069.73 761.53 L1070.94 761.5 L1072.14 761.48 L1073.35 761.45 L1074.55 761.42 L1075.76 761.39 L1076.97 761.36 L1078.17 761.33 L1079.38 761.31 L1080.58 761.28 L1081.79 761.25 L1082.99 761.22 L1084.2 761.19 L1085.4 761.16 L1086.61 761.13 L1087.82 761.1 L1089.02 761.07 L1090.23 761.04 L1091.43 761 L1092.64 760.97 L1093.84 760.94 L1095.05 760.91 L1096.26 760.88 L1097.46 760.84 L1098.67 760.81 L1099.87 760.78 L1101.08 760.75 L1102.28 760.71 L1103.49 760.68 L1104.69 760.64 L1105.9 760.61" fill="none" stroke="#7e2f8e" stroke-width="6.8" stroke-linecap="butt" stroke-linejoin="round"/>
<path d="M141.4 763.98 L142.61 763.98 L143.81 763.98 L145.02 763.98 L146.22 763.98 L147.43 763.98 L148.63 763.98 L149.84 763.98 L151.04 763.98 L152.25 763.98 L153.46 763.98 L154.66 763.98 L155.87 763.98 L157.07 763.98 L158.28 763.98 L159.48 763.98 L160.69 763.98 L161.9 763.98 L163.1 763.98 L164.31 763.98 L165.51 763.98 L166.72 763.98 L167.92 763.98 L169.13 763.98 L170.33 763.98 L171.54 763.98 L172.75 763.98 L173.95 763.98 L175.16 763.98 L176.36 763.98 L177.57 763.98 L178.77 763.98 L179.98 763.98 L181.19 763.98 L182.39 763.98 L183.6 763.98 L184.8 763.98 L186.01 763.98 L187.21 763.98 L188.42 763.98 L189.62 763.98 L190.83 763.98 L192.04 763.98 L193.24 763.98 L194.45 763.98 L195.65 763.98 L196.86 763.98 L198.06 763.98 L199.27 763.98 L200.48 763.98 L201.68 763.98 L202.89 763.98 L204.09 763.98 L205.3 763.98 L206.5 763.98 L207.71 763.98 L208.92 763.98 L210.12 763.98 L211.33 763.98 L212.53 763.98 L213.74 763.98 L214.94 763.98 L216.15 763.98 L217.35 763.98 L218.56 763.98 L219.77 763.98 L220.97 763.98 L222.18 763.98 L223.38 763.98 L224.59 763.98 L225.79 763.98 L227 763.98 L228.21 763.98 L229.41 763.98 L230.62 763.98 L231.82 763.98 L233.03 763.98 L234.23 763.98 L235.44 763.98 L236.64 763.98 L237.85 763.98 L239.06 763.98 L240.26 763.98 L241.47 763.98 L242.67 763.98 L243.88 763.98 L245.08 763.98 L246.29 763.98 L247.5 763.98 L248.7 763.98 L249.91 763.98 L251.11 763.98 L252.32 763.98 L253.52 763.98 L254.73 763.98 L255.93 763.98 L257.14 763.98 L258.35 763.98 L259.55 763.98 L260.76 763.98 L261.96 763.98 L263.17 763.98 L264.37 763.98 L265.58 763.98 L266.78 763.98 L267.99 763.98 L269.2 763.98 L270.4 763.98 L271.61 763.98 L272.81 763.98 L274.02 763.98 L275.22 763.98 L276.43 763.98 L277.64 763.98 L278.84 763.98 L280.05 763.98 L281.25 763.98 L282.46 763.98 L283.66 763.98 L284.87 763.98 L286.08 763.98 L287.28 763.98 L288.49 763.98 L289.69 763.98 L290.9 763.98 L292.1 763.98 L293.31 763.98 L294.51 763.98 L295.72 763.98 L296.93 763.98 L298.13 763.98 L299.34 763.98 L300.54 763.98 L301.75 763.98 L302.95 763.98 L304.16 763.98 L305.37 763.98 L306.57 763.98 L307.78 763.98 L308.98 763.98 L310.19 763.98 L311.39 763.98 L312.6 763.98 L313.8 763.98 L315.01 763.98 L316.22 763.98 L317.42 763.98 L318.63 763.98 L319.83 763.98 L321.04 763.98 L322.24 763.98 L323.45 763.98 L324.66 763.98 L325.86 763.98 L327.07 763.98 L328.27 763.98 L329.48 763.98 L330.68 763.98 L331.89 763.98 L333.09 763.98 L334.3 763.98 L335.51 763.98 L336.71 763.98 L337.92 763.98 L339.12 763.98 L340.33 763.98 L341.53 763.98 L342.74 763.98 L343.95 763.98 L345.15 763.98 L346.36 763.98 L347.56 763.98 L348.77 763.98 L349.97 763.98 L351.18 763.98 L352.38 763.98 L353.59 763.98 L354.8 763.98 L356 763.98 L357.21 763.98 L358.41 763.98 L359.62 763.98 L360.82 763.98 L362.03 763.98 L363.24 763.98 L364.44 763.98 L365.65 763.98 L366.85 763.98 L368.06 763.98 L369.26 763.98 L370.47 763.98 L371.67 763.98 L372.88 763.98 L374.09 763.98 L375.29 763.98 L376.5 763.98 L377.7 763.98 L378.91 763.98 L380.11 763.98 L381.32 763.98 L382.53 763.98 L383.73 763.98 L384.94 763.98 L386.14 763.98 L387.35 763.98 L388.55 763.98 L389.76 763.98 L390.96 763.98 L392.17 763.98 L393.38 763.98 L394.58 763.98 L395.79 763.98 L396.99 763.98 L398.2 763.98 L399.4 763.98 L400.61 763.98 L401.82 763.98 L403.02 763.98 L404.23 763.98 L405.43 763.98 L406.64 763.98 L407.84 763.98 L409.05 763.98 L410.25 763.98 L411.46 763.98 L412.67 763.98 L413.87 763.98 L415.08 763.98 L416.28 763.98 L417.49 763.98 L418.69 763.98 L419.9 763.98 L421.11 763.98 L422.31 763.98 L423.52 763.98 L424.72 763.98 L425.93 763.98 L427.13 763.98 L428.34 763.98 L429.54 763.98 L430.75 763.98 L431.96 763.98 L433.16 763.98 L434.37 763.98 L435.57 763.98 L436.78 763.98 L437.98 763.98 L439.19 763.98 L440.4 763.98 L441.6 763.98 L442.81 763.98 L444.01 763.98 L445.22 763.98 L446.42 763.98 L447.63 763.98 L448.83 763.98 L450.04 763.98 L451.25 763.98 L452.45 763.98 L453.66 763.98 L454.86 763.98 L456.07 763.98 L457.27 763.98 L458.48 763.98 L459.69 763.98 L460.89 763.98 L462.1 763.98 L463.3 763.98 L464.51 763.98 L465.71 763.98 L466.92 763.98 L468.12 763.98 L469.33 763.98 L470.54 763.98 L471.74 763.98 L472.95 763.98 L474.15 763.98 L475.36 763.98 L476.56 763.98 L477.77 763.98 L478.98 763.98 L480.18 763.98 L481.39 763.98 L482.59 763.98 L483.8 763.98 L485 763.98 L486.21 763.98 L487.41 763.98 L488.62 763.98 L489.83 763.98 L491.03 763.98 L492.24 763.98 L493.44 763.98 L494.65 763.98 L495.85 763.98 L497.06 763.98 L498.27 763.98 L499.47 763.98 L500.68 763.98 L501.88 763.98 L503.09 763.98 L504.29 763.98 L505.5 763.98 L506.7 763.98 L507.91 763.98 L509.12 763.98 L510.32 763.98 L511.53 763.98 L512.73 763.98 L513.94 763.98 L515.14 763.98 L516.35 763.98 L517.56 763.98 L518.76 763.98 L519.97 763.98 L521.17 763.98 L522.38 763.98 L523.58 763.98 L524.79 763.98 L525.99 763.98 L527.2 763.98 L528.41 763.98 L529.61 763.98 L530.82 763.98 L532.02 763.98 L533.23 763.98 L534.43 763.98 L535.64 763.98 L536.85 763.98 L538.05 763.98 L539.26 763.98 L540.46 763.98 L541.67 763.98 L542.87 763.98 L544.08 763.98 L545.28 763.98 L546.49 763.98 L547.7 763.98 L548.9 763.98 L550.11 763.98 L551.31 763.98 L552.52 763.98 L553.72 763.98 L554.93 763.98 L556.14 763.98 L557.34 763.98 L558.55 763.98 L559.75 763.98 L560.96 763.98 L562.16 763.98 L563.37 763.98 L564.57 763.98 L565.78 763.98 L566.99 763.98 L568.19 763.98 L569.4 763.98 L570.6 763.98 L571.81 763.98 L573.01 763.98 L574.22 763.98 L575.43 763.98 L576.63 763.98 L577.84 763.98 L579.04 763.98 L580.25 763.98 L581.45 763.98 L582.66 763.98 L583.86 763.98 L585.07 763.98 L586.28 763.98 L587.48 763.98 L588.69 763.98 L589.89 763.98 L591.1 763.98 L592.3 763.98 L593.51 763.98 L594.72 763.98 L595.92 763.98 L597.13 763.98 L598.33 763.98 L599.54 763.98 L600.74 763.98 L601.95 763.98 L603.15 763.98 L604.36 763.98 L605.57 763.98 L606.77 763.98 L607.98 763.98 L609.18 763.98 L610.39 763.98 L611.59 763.98 L612.8 763.98 L614.01 763.98 L615.21 763.98 L616.42 763.98 L617.62 763.98 L618.83 763.98 L620.03 763.98 L621.24 763.98 L622.44 763.98 L623.65 763.98 L624.86 763.98 L626.06 763.98 L627.27 763.98 L628.47 763.98 L629.68 763.98 L630.88 763.98 L632.09 763.98 L633.3 763.98 L634.5 763.98 L635.71 763.98 L636.91 763.98 L638.12 763.98 L639.32 763.98 L640.53 763.98 L641.73 763.98 L642.94 763.98 L644.15 763.98 L645.35 763.98 L646.56 763.98 L647.76 763.98 L648.97 763.98 L650.17 763.98 L651.38 763.98 L652.59 763.98 L653.79 763.98 L655 763.98 L656.2 763.98 L657.41 763.98 L658.61 763.98 L659.82 763.98 L661.02 763.98 L662.23 763.98 L663.44 763.98 L664.64 763.98 L665.85 763.98 L667.05 763.98 L668.26 763.98 L669.46 763.98 L670.67 763.98 L671.88 763.98 L673.08 763.98 L674.29 763.98 L675.49 763.98 L676.7 763.98 L677.9 763.98 L679.11 763.98 L680.31 763.98 L681.52 763.98 L682.73 763.98 L683.93 763.98 L685.14 763.98 L686.34 763.98 L687.55 763.98 L688.75 763.98 L689.96 763.98 L691.17 763.98 L692.37 763.98 L693.58 763.98 L694.78 763.98 L695.99 763.98 L697.19 763.98 L698.4 763.98 L699.6 763.98 L700.81 763.98 L702.02 763.98 L703.22 763.98 L704.43 763.98 L705.63 763.98 L706.84 763.98 L708.04 763.98 L709.25 763.98 L710.46 763.98 L711.66 763.98 L712.87 763.98 L714.07 763.98 L715.28 763.98 L716.48 763.98 L717.69 763.98 L718.89 763.98 L720.1 763.98 L721.31 763.98 L722.51 763.98 L723.72 763.98 L724.92 763.98 L726.13 763.98 L727.33 763.98 L728.54 763.98 L729.75 763.98 L730.95 763.98 L732.16 763.98 L733.36 763.98 L734.57 763.98 L735.77 763.98 L736.98 763.98 L738.18 763.98 L739.39 763.98 L740.6 763.98 L741.8 763.98 L743.01 763.98 L744.21 763.98 L745.42 763.98 L746.62 763.98 L747.83 763.98 L749.04 763.98 L750.24 763.98 L751.45 763.98 L752.65 763.98 L753.86 763.98 L755.06 763.98 L756.27 763.98 L757.47 763.98 L758.68 763.98 L759.89 763.98 L761.09 763.98 L762.3 763.98 L763.5 763.98 L764.71 763.98 L765.91 763.98 L767.12 763.98 L768.33 763.98 L769.53 763.98 L770.74 763.98 L771.94 763.98 L773.15 763.98 L774.35 763.98 L775.56 763.98 L776.76 763.98 L777.97 763.98 L779.18 763.98 L780.38 763.98 L781.59 763.98 L782.79 763.98 L784 763.98 L785.2 763.98 L786.41 763.98 L787.62 763.98 L788.82 763.98 L790.03 763.98 L791.23 763.98 L792.44 763.98 L793.64 763.98 L794.85 763.98 L796.05 763.98 L797.26 763.98 L798.47 763.98 L799.67 763.98 L800.88 763.98 L802.08 763.98 L803.29 763.98 L804.49 763.98 L805.7 763.98 L806.91 763.98 L808.11 763.98 L809.32 763.98 L810.52 763.98 L811.73 763.98 L812.93 763.98 L814.14 763.98 L815.34 763.98 L816.55 763.98 L817.76 763.98 L818.96 763.98 L820.17 763.98 L821.37 763.98 L822.58 763.98 L823.78 763.98 L824.99 763.98 L826.2 763.98 L827.4 763.98 L828.61 763.98 L829.81 763.98 L831.02 763.98 L832.22 763.98 L833.43 763.98 L834.63 763.98 L835.84 763.98 L837.05 763.98 L838.25 763.98 L839.46 763.98 L840.66 763.98 L841.87 763.98 L843.07 763.98 L844.28 763.98 L845.49 763.98 L846.69 763.98 L847.9 763.98 L849.1 763.98 L850.31 763.98 L851.51 763.98 L852.72 763.98 L853.92 763.98 L855.13 763.98 L856.34 763.98 L857.54 763.98 L858.75 763.98 L859.95 763.98 L861.16 763.98 L862.36 763.98 L863.57 763.98 L864.78 763.98 L865.98 763.98 L867.19 763.98 L868.39 763.98 L869.6 763.98 L870.8 763.98 L872.01 763.98 L873.21 763.98 L874.42 763.98 L875.63 763.98 L876.83 763.98 L878.04 763.98 L879.24 763.98 L880.45 763.98 L881.65 763.98 L882.86 763.98 L884.07 763.98 L885.27 763.98 L886.48 763.98 L887.68 763.98 L888.89 763.98 L890.09 763.98 L891.3 763.98 L892.5 763.98 L893.71 763.98 L894.92 763.98 L896.12 763.98 L897.33 763.98 L898.53 763.98 L899.74 763.98 L900.94 763.98 L902.15 763.98 L903.36 763.98 L904.56 763.98 L905.77 763.98 L906.97 763.98 L908.18 763.98 L909.38 763.98 L910.59 763.98 L911.79 763.98 L913 763.98 L914.21 763.98 L915.41 763.98 L916.62 763.98 L917.82 763.98 L919.03 763.98 L920.23 763.98 L921.44 763.98 L922.64 763.98 L923.85 763.98 L925.06 763.98 L926.26 763.98 L927.47 763.98 L928.67 763.98 L929.88 763.98 L931.08 763.98 L932.29 763.98 L933.5 763.98 L934.7 763.98 L935.91 763.98 L937.11 763.98 L938.32 763.98 L939.52 763.98 L940.73 763.98 L941.94 763.98 L943.14 763.98 L944.35 763.98 L945.55 763.98 L946.76 763.98 L947.96 763.98 L949.17 763.98 L950.37 763.98 L951.58 763.98 L952.79 763.98 L953.99 763.98 L955.2 763.98 L956.4 763.98 L957.61 763.98 L958.81 763.98 L960.02 763.98 L961.23 763.98 L962.43 763.98 L963.64 763.98 L964.84 763.98 L966.05 763.98 L967.25 763.98 L968.46 763.98 L969.66 763.98 L970.87 763.98 L972.08 763.98 L973.28 763.98 L974.49 763.98 L975.69 763.98 L976.9 763.98 L978.1 763.98 L979.31 763.98 L980.52 763.98 L981.72 763.98 L982.93 763.98 L984.13 763.98 L985.34 763.98 L986.54 763.98 L987.75 763.98 L988.95 763.98 L990.16 763.98 L991.37 763.98 L992.57 763.98 L993.78 763.98 L994.98 763.98 L996.19 763.98 L997.39 763.98 L998.6 763.98 L999.81 763.98 L1001.01 763.98 L1002.22 763.98 L1003.42 763.98 L1004.63 763.98 L1005.83 763.98 L1007.04 763.98 L1008.24 763.98 L1009.45 763.98 L1010.66 763.98 L1011.86 763.98 L1013.07 763.98 L1014.27 763.98 L1015.48 763.98 L1016.68 763.98 L1017.89 763.98 L1019.1 763.98 L1020.3 763.98 L1021.51 763.98 L1022.71 763.98 L1023.92 763.98 L1025.12 763.98 L1026.33 763.98 L1027.53 763.98 L1028.74 763.98 L1029.95 763.98 L1031.15 763.98 L1032.36 763.98 L1033.56 763.98 L1034.77 763.98 L1035.97 763.98 L1037.18 763.98 L1038.39 763.98 L1039.59 763.98 L1040.8 763.98 L1042 763.98 L1043.21 763.98 L1044.41 763.98 L1045.62 763.98 L1046.82 763.98 L1048.03 763.98 L1049.24 763.98 L1050.44 763.98 L1051.65 763.98 L1052.85 763.98 L1054.06 763.98 L1055.26 763.98 L1056.47 763.98 L1057.68 763.98 L1058.88 763.98 L1060.09 763.98 L1061.29 763.98 L1062.5 763.98 L1063.7 763.98 L1064.91 763.98 L1066.11 763.98 L1067.32 763.98 L1068.53 763.98 L1069.73 763.98 L1070.94 763.98 L1072.14 763.98 L1073.35 763.98 L1074.55 763.98 L1075.76 763.98 L1076.97 763.98 L1078.17 763.98 L1079.38 763.98 L1080.58 763.98 L1081.79 763.98 L1082.99 763.98 L1084.2 763.98 L1085.4 763.98 L1086.61 763.98 L1087.82 763.98 L1089.02 763.98 L1090.23 763.98 L1091.43 763.98 L1092.64 763.98 L1093.84 763.98 L1095.05 763.98 L1096.26 763.98 L1097.46 763.98 L1098.67 763.98 L1099.87 763.98 L1101.08 763.98 L1102.28 763.98 L1103.49 763.98 L1104.69 763.98 L1105.9 763.98" fill="none" stroke="#ff0000" stroke-width="6.8" stroke-linecap="butt" stroke-linejoin="round" stroke-dasharray="18.9 16.6"/>
<text x="101.62" y="774.7" font-family="&quot;Liberation Serif&quot;, serif" font-size="48.4" fill="#262626" stroke="#262626" stroke-width="0.9" textLength="23.9" lengthAdjust="spacingAndGlyphs">0</text>
<text x="101.67" y="653.2" font-family="&quot;Liberation Serif&quot;, serif" font-size="48.4" fill="#262626" stroke="#262626" stroke-width="0.9" textLength="23.9" lengthAdjust="spacingAndGlyphs">5</text>
<text x="77.72" y="531.7" font-family="&quot;Liberation Serif&quot;, serif" font-size="48.4" fill="#262626" stroke="#262626" stroke-width="0.9" textLength="47.8" lengthAdjust="spacingAndGlyphs">10</text>
<text x="77.77" y="410.2" font-family="&quot;Liberation Serif&quot;, serif" font-size="48.4" fill="#262626" stroke="#262626" stroke-width="0.9" textLength="47.8" lengthAdjust="spacingAndGlyphs">15</text>
<text x="77.72" y="288.7" font-family="&quot;Liberation Serif&quot;, serif" font-size="48.4" fill="#262626" stroke="#262626" stroke-width="0.9" textLength="47.8" lengthAdjust="spacingAndGlyphs">20</text>
<text x="77.77" y="167.2" font-family="&quot;Liberation Serif&quot;, serif" font-size="48.4" fill="#262626" stroke="#262626" stroke-width="0.9" textLength="47.8" lengthAdjust="spacingAndGlyphs">25</text>
<text x="77.72" y="45.7" font-family="&quot;Liberation Serif&quot;, serif" font-size="48.4" fill="#262626" stroke="#262626" stroke-width="0.9" textLength="47.8" lengthAdjust="spacingAndGlyphs">30</text>
<text x="208.91" y="822.68" font-family="&quot;Liberation Serif&quot;, serif" font-size="46" fill="#262626" stroke="#262626" stroke-width="0.4" textLength="34.34" lengthAdjust="spacingAndGlyphs">−</text>
<text x="243.47" y="819" font-family="&quot;Liberation Serif&quot;, serif" font-size="46" fill="#262626" stroke="#262626" stroke-width="0.9" textLength="22.8" lengthAdjust="spacingAndGlyphs">2</text>
<text x="402.92" y="822.68" font-family="&quot;Liberation Serif&quot;, serif" font-size="46" fill="#262626" stroke="#262626" stroke-width="0.4" textLength="34.34" lengthAdjust="spacingAndGlyphs">−</text>
<text x="435.48" y="819" font-family="&quot;Liberation Serif&quot;, serif" font-size="46" fill="#262626" stroke="#262626" stroke-width="0.9" textLength="22.8" lengthAdjust="spacingAndGlyphs">1</text>
<text x="612.25" y="819" font-family="&quot;Liberation Serif&quot;, serif" font-size="46" fill="#262626" stroke="#262626" stroke-width="0.9" textLength="22.8" lengthAdjust="spacingAndGlyphs">0</text>
<text x="804.52" y="819" font-family="&quot;Liberation Serif&quot;, serif" font-size="46" fill="#262626" stroke="#262626" stroke-width="0.9" textLength="22.8" lengthAdjust="spacingAndGlyphs">1</text>
<text x="998.31" y="819" font-family="&quot;Liberation Serif&quot;, serif" font-size="46" fill="#262626" stroke="#262626" stroke-width="0.9" textLength="22.8" lengthAdjust="spacingAndGlyphs">2</text>
<rect x="616.2" y="168.4" width="489.8" height="165.1" fill="#fff" stroke="#262626" stroke-width="1.5"/>
<path d="M635.9 198.4 L726 198.4" fill="none" stroke="#4dbeee" stroke-width="6.8" stroke-linecap="butt" stroke-linejoin="round" stroke-dasharray="18.7 3.4 10 3.4"/>
<text font-family="&quot;Liberation Serif&quot;, serif" fill="#000"><tspan x="730.63" y="216.6" font-size="44.5" textLength="331.76" lengthAdjust="spacingAndGlyphs">'go-stop-go' model</tspan></text>
<path d="M635.9 250.3 L726 250.3" fill="none" stroke="#7e2f8e" stroke-width="6.8" stroke-linecap="butt" stroke-linejoin="round"/>
<text font-family="&quot;Liberation Serif&quot;, serif" fill="#000"><tspan x="732.07" y="268.5" font-size="44.5" textLength="353.02" lengthAdjust="spacingAndGlyphs">the reference model</tspan></text>
<path d="M635.9 303.3 L726 303.3" fill="none" stroke="#ff0000" stroke-width="6.8" stroke-linecap="butt" stroke-linejoin="round" stroke-dasharray="18.9 16.6"/>
<text font-family="&quot;Liberation Serif&quot;, serif" fill="#000"><tspan x="732.07" y="321.5" font-size="44.5" textLength="348.11" lengthAdjust="spacingAndGlyphs">the proposed model</tspan></text>
<rect x="227.4" y="355.5" width="320.2" height="240" fill="#fff"/>
<path d="M293.5 355.5V595.5 M366.5 355.5V595.5 M440.5 355.5V595.5 M513.5 355.5V595.5 M227.4 558.5H547.6 M227.4 462.5H547.6 M227.4 366.5H547.6" stroke="#dfdfdf" stroke-width="1.0" fill="none"/>
<path d="M293.5 595.5V588.5 M293.5 355.5V362.5 M366.5 595.5V588.5 M366.5 355.5V362.5 M440.5 595.5V588.5 M440.5 355.5V362.5 M513.5 595.5V588.5 M513.5 355.5V362.5 M227.5 558.5H234.5 M547.5 558.5H540.5 M227.5 462.5H234.5 M547.5 462.5H540.5 M227.5 366.5H234.5 M547.5 366.5H540.5" stroke="#262626" stroke-width="1.2" fill="none"/>
<rect x="227.5" y="355.5" width="320" height="240" fill="none" stroke="#262626" stroke-width="1.2"/>
<path d="M227.4 382.6 L232.83 382.7 L238.25 382.8 L243.68 382.91 L249.11 383.01 L254.54 383.11 L259.96 383.21 L265.39 383.31 L270.82 383.41 L276.24 383.52 L281.67 383.62 L287.1 383.72 L292.53 383.82 L297.95 383.92 L303.38 384.02 L308.81 384.13 L314.23 384.23 L319.66 384.33 L325.09 384.43 L330.52 384.53 L335.94 384.63 L341.37 384.74 L346.8 384.84 L352.22 384.94 L357.65 385.04 L363.08 385.14 L368.51 385.24 L373.93 385.35 L379.36 385.45 L384.79 385.55 L390.21 385.65 L395.64 385.75 L401.07 385.85 L406.49 385.96 L411.92 386.06 L417.35 386.16 L422.78 386.26 L428.2 386.36 L433.63 386.46 L439.06 386.57 L444.48 386.67 L449.91 386.77 L455.34 386.87 L460.77 386.97 L466.19 387.07 L471.62 387.18 L477.05 387.28 L482.47 387.38 L487.9 387.48 L493.33 387.58 L498.76 387.68 L504.18 387.79 L509.61 387.89 L515.04 387.99 L520.46 388.09 L525.89 388.19 L531.32 388.29 L536.75 388.4 L542.17 388.5 L547.6 388.6" fill="none" stroke="#7e2f8e" stroke-width="6.8" stroke-linecap="butt" stroke-linejoin="round"/>
<path d="M227.4 557.8 L547.6 557.8" fill="none" stroke="#ff0000" stroke-width="6.8" stroke-linecap="butt" stroke-linejoin="round" stroke-dasharray="18.9 16.6" stroke-dashoffset="-0.5"/>
<text x="189.55" y="569.11" font-family="&quot;Liberation Serif&quot;, serif" font-size="47" fill="#262626" stroke="#262626" stroke-width="0.9" textLength="23" lengthAdjust="spacingAndGlyphs">0</text>
<text x="132.1" y="473.04" font-family="&quot;Liberation Serif&quot;, serif" font-size="47" fill="#262626" stroke="#262626" stroke-width="0.9" textLength="80.5" lengthAdjust="spacingAndGlyphs">0.05</text>
<text x="156.06" y="376.96" font-family="&quot;Liberation Serif&quot;, serif" font-size="47" fill="#262626" stroke="#262626" stroke-width="0.9" textLength="57.5" lengthAdjust="spacingAndGlyphs">0.1</text>
<text x="237.12" y="651.2" font-family="&quot;Liberation Serif&quot;, serif" font-size="45" fill="#262626" stroke="#262626" stroke-width="0.4" textLength="33.6" lengthAdjust="spacingAndGlyphs">−</text>
<text x="270.92" y="647.6" font-family="&quot;Liberation Serif&quot;, serif" font-size="45" fill="#262626" stroke="#262626" stroke-width="0.9" textLength="78.75" lengthAdjust="spacingAndGlyphs">2.42</text>
<text x="383.78" y="651.2" font-family="&quot;Liberation Serif&quot;, serif" font-size="45" fill="#262626" stroke="#262626" stroke-width="0.4" textLength="33.6" lengthAdjust="spacingAndGlyphs">−</text>
<text x="417.57" y="647.6" font-family="&quot;Liberation Serif&quot;, serif" font-size="45" fill="#262626" stroke="#262626" stroke-width="0.9" textLength="78.75" lengthAdjust="spacingAndGlyphs">2.41</text>
<rect x="237.2" y="449.3" width="183.3" height="105.7" rx="4" ry="4" fill="#fafafe" stroke="#6e6e6e" stroke-width="1.3"/>
<text x="252.2" y="494.6" font-family="&quot;Liberation Sans&quot;, sans-serif" font-size="31" fill="#404040">X</text>
<text x="280.96" y="494.6" font-family="&quot;Liberation Sans&quot;, sans-serif" font-size="31" font-weight="bold" fill="#0a96fc" textLength="82.9" lengthAdjust="spacingAndGlyphs">-2.424</text>
<text x="252.22" y="532.5" font-family="&quot;Liberation Sans&quot;, sans-serif" font-size="31" fill="#404040">Y</text>
<text x="280.96" y="532.5" font-family="&quot;Liberation Sans&quot;, sans-serif" font-size="31" font-weight="bold" fill="#0a96fc" textLength="120.34" lengthAdjust="spacingAndGlyphs">0.001021</text>
<circle cx="234.3" cy="557.8" r="7.2" fill="#262626" stroke="#fffbd8" stroke-width="4"/>
<path d="M136.4 657.1 H569.9 V324.3 H136.4 Z" fill="none" stroke="#c21fe6" stroke-width="6" stroke-dasharray="18.5 17" stroke-linejoin="miter"/>
<path d="M124.8 781.9 H232.4 V748.3 H124.8 Z" fill="none" stroke="#c21fe6" stroke-width="6" stroke-dasharray="18.5 17" stroke-linejoin="miter"/>
<path d="M193.2 761.2 L262.41 674.62" fill="none" stroke="#b348fc" stroke-width="7.3" stroke-linecap="butt" stroke-linejoin="round"/>
<path d="M274.9 659 L264.62 689.96 L261.79 675.4 L246.97 675.85 Z" fill="#b348fc"/>
<text x="345.2" y="887.8" font-family="&quot;Liberation Serif&quot;, serif" font-size="52.5" fill="#262626" textLength="556.1" lengthAdjust="spacingAndGlyphs">Synthetic aperture time (s)</text>
<text transform="translate(58.2,574) rotate(-90)" font-family="&quot;Liberation Serif&quot;, serif" font-size="53" fill="#262626" textLength="350.8" lengthAdjust="spacingAndGlyphs">Phase error (rad)</text>
<text x="554.92" y="998.6" font-family="&quot;Liberation Serif&quot;, serif" font-size="84" fill="#000" textLength="92.33" lengthAdjust="spacingAndGlyphs">(<tspan font-weight="bold">a</tspan>)</text>
<rect x="1489.5" y="35.5" width="960" height="738" fill="#fff"/>
<path d="M1582.5 35.5V773.5 M1775.5 35.5V773.5 M1969.5 35.5V773.5 M2163.5 35.5V773.5 M2356.5 35.5V773.5 M1489.5 773.5H2449.5 M1489.5 658.5H2449.5 M1489.5 543.5H2449.5 M1489.5 428.5H2449.5 M1489.5 313.5H2449.5 M1489.5 198.5H2449.5 M1489.5 83.5H2449.5" stroke="#dfdfdf" stroke-width="1.0" fill="none"/>
<path d="M1582.5 773.5V763.5 M1582.5 35.5V45.5 M1775.5 773.5V763.5 M1775.5 35.5V45.5 M1969.5 773.5V763.5 M1969.5 35.5V45.5 M2163.5 773.5V763.5 M2163.5 35.5V45.5 M2356.5 773.5V763.5 M2356.5 35.5V45.5 M1489.5 773.5H1499.5 M2449.5 773.5H2439.5 M1489.5 658.5H1499.5 M2449.5 658.5H2439.5 M1489.5 543.5H1499.5 M2449.5 543.5H2439.5 M1489.5 428.5H1499.5 M2449.5 428.5H2439.5 M1489.5 313.5H1499.5 M2449.5 313.5H2439.5 M1489.5 198.5H1499.5 M2449.5 198.5H2439.5 M1489.5 83.5H1499.5 M2449.5 83.5H2439.5" stroke="#262626" stroke-width="1.2" fill="none"/>
<rect x="1489.5" y="35.5" width="960" height="738" fill="none" stroke="#262626" stroke-width="1.2"/>
<path d="M1489.5 60.73 L1490.7 60.82 L1491.9 60.91 L1493.1 61 L1494.3 61.09 L1495.5 61.18 L1496.7 61.27 L1497.9 61.35 L1499.1 61.44 L1500.3 61.53 L1501.5 61.62 L1502.7 61.71 L1503.9 61.8 L1505.1 61.89 L1506.3 61.98 L1507.5 62.07 L1508.7 62.16 L1509.9 62.25 L1511.1 62.34 L1512.3 62.42 L1513.5 62.51 L1514.7 62.6 L1515.9 62.69 L1517.1 62.78 L1518.3 62.87 L1519.5 62.96 L1520.7 63.05 L1521.9 63.14 L1523.1 63.23 L1524.3 63.32 L1525.5 63.4 L1526.7 63.49 L1527.9 63.58 L1529.1 63.67 L1530.3 63.76 L1531.5 63.85 L1532.7 63.94 L1533.9 64.03 L1535.1 64.12 L1536.3 64.21 L1537.5 64.3 L1538.7 64.39 L1539.9 64.47 L1541.1 64.56 L1542.3 64.65 L1543.5 64.74 L1544.7 64.83 L1545.9 64.92 L1547.1 65.01 L1548.3 65.1 L1549.5 65.19 L1550.7 65.28 L1551.9 65.37 L1553.1 65.45 L1554.3 65.54 L1555.5 65.63 L1556.7 65.72 L1557.9 65.81 L1559.1 65.9 L1560.3 65.99 L1561.5 66.08 L1562.7 66.17 L1563.9 66.26 L1565.1 66.35 L1566.3 66.43 L1567.5 66.52 L1568.7 66.61 L1569.9 66.7 L1571.1 66.79 L1572.3 66.88 L1573.5 66.97 L1574.7 67.06 L1575.9 67.15 L1577.1 67.24 L1578.3 67.33 L1579.5 67.42 L1580.7 67.5 L1581.9 67.59 L1583.1 67.68 L1584.3 67.77 L1585.5 67.86 L1586.7 67.95 L1587.9 68.04 L1589.1 68.13 L1590.3 68.22 L1591.5 68.31 L1592.7 68.4 L1593.9 68.48 L1595.1 68.57 L1596.3 68.66 L1597.5 68.75 L1598.7 68.84 L1599.9 68.93 L1601.1 69.02 L1602.3 69.11 L1603.5 69.2 L1604.7 69.29 L1605.9 69.38 L1607.1 69.47 L1608.3 69.55 L1609.5 69.64 L1610.7 69.73 L1611.9 69.82 L1613.1 69.91 L1614.3 70 L1615.5 70.09 L1616.7 70.18 L1617.9 70.27 L1619.1 70.36 L1620.3 70.45 L1621.5 70.53 L1622.7 70.62 L1623.9 70.71 L1625.1 70.8 L1626.3 70.89 L1627.5 70.98 L1628.7 71.07 L1629.9 71.16 L1631.1 71.25 L1632.3 71.34 L1633.5 71.43 L1634.7 71.52 L1635.9 71.6 L1637.1 71.69 L1638.3 71.78 L1639.5 71.87 L1640.7 71.96 L1641.9 72.05 L1643.1 72.14 L1644.3 72.23 L1645.5 72.32 L1646.7 72.41 L1647.9 72.5 L1649.1 72.58 L1650.3 72.67 L1651.5 72.76 L1652.7 72.85 L1653.9 72.94 L1655.1 73.03 L1656.3 73.12 L1657.5 73.21 L1658.7 73.3 L1659.9 73.39 L1661.1 73.48 L1662.3 73.56 L1663.5 73.65 L1664.7 73.74 L1665.9 73.83 L1667.1 73.92 L1668.3 74.01 L1669.5 74.1 L1670.7 74.19 L1671.9 74.28 L1673.1 74.37 L1674.3 74.46 L1675.5 74.55 L1676.7 74.63 L1677.9 74.72 L1679.1 74.81 L1680.3 74.9 L1681.5 74.99 L1682.7 75.08 L1683.9 75.17 L1685.1 75.26 L1686.3 75.35 L1687.5 75.44 L1688.7 75.53 L1689.9 75.61 L1691.1 75.7 L1692.3 75.79 L1693.5 75.88 L1694.7 75.97 L1695.9 76.06 L1697.1 76.15 L1698.3 76.24 L1699.5 76.33 L1700.7 76.42 L1701.9 76.51 L1703.1 76.6 L1704.3 76.68 L1705.5 76.77 L1706.7 76.86 L1707.9 76.95 L1709.1 77.04 L1710.3 77.13 L1711.5 77.22 L1712.7 77.31 L1713.9 77.4 L1715.1 77.49 L1716.3 77.58 L1717.5 77.66 L1718.7 77.75 L1719.9 77.84 L1721.1 77.93 L1722.3 78.02 L1723.5 78.11 L1724.7 78.2 L1725.9 78.29 L1727.1 78.38 L1728.3 78.47 L1729.5 78.56 L1730.7 78.65 L1731.9 78.73 L1733.1 78.82 L1734.3 78.91 L1735.5 79 L1736.7 79.09 L1737.9 79.18 L1739.1 79.27 L1740.3 79.36 L1741.5 79.45 L1742.7 79.54 L1743.9 79.63 L1745.1 79.71 L1746.3 79.8 L1747.5 79.89 L1748.7 79.98 L1749.9 80.07 L1751.1 80.16 L1752.3 80.25 L1753.5 80.34 L1754.7 80.43 L1755.9 80.52 L1757.1 80.61 L1758.3 80.69 L1759.5 80.78 L1760.7 80.87 L1761.9 80.96 L1763.1 81.05 L1764.3 81.14 L1765.5 81.23 L1766.7 81.32 L1767.9 81.41 L1769.1 81.5 L1770.3 81.59 L1771.5 81.68 L1772.7 81.76 L1773.9 81.85 L1775.1 81.94 L1776.3 82.03 L1777.5 82.12 L1778.7 82.21 L1779.9 82.3 L1781.1 82.39 L1782.3 82.48 L1783.5 82.57 L1784.7 82.66 L1785.9 82.74 L1787.1 82.83 L1788.3 82.92 L1789.5 83.01 L1790.7 83.1 L1791.9 83.19 L1793.1 83.28 L1794.3 83.37 L1795.5 83.46 L1796.7 83.55 L1797.9 83.64 L1799.1 83.73 L1800.3 83.81 L1801.5 83.9 L1802.7 83.99 L1803.9 84.08 L1805.1 84.17 L1806.3 84.26 L1807.5 84.35 L1808.7 84.44 L1809.9 84.53 L1811.1 84.62 L1812.3 84.71 L1813.5 84.79 L1814.7 84.88 L1815.9 84.97 L1817.1 85.06 L1818.3 85.15 L1819.5 85.24 L1820.7 85.33 L1821.9 85.42 L1823.1 85.51 L1824.3 85.6 L1825.5 85.69 L1826.7 85.78 L1827.9 85.86 L1829.1 85.95 L1830.3 86.04 L1831.5 86.13 L1832.7 86.22 L1833.9 86.31 L1835.1 86.4 L1836.3 86.49 L1837.5 86.58 L1838.7 86.67 L1839.9 86.76 L1841.1 86.84 L1842.3 86.93 L1843.5 87.02 L1844.7 87.11 L1845.9 87.2 L1847.1 87.29 L1848.3 87.38 L1849.5 87.47 L1850.7 87.56 L1851.9 87.65 L1853.1 87.74 L1854.3 87.82 L1855.5 87.91 L1856.7 88 L1857.9 88.09 L1859.1 88.18 L1860.3 88.27 L1861.5 88.36 L1862.7 88.45 L1863.9 88.54 L1865.1 88.63 L1866.3 88.72 L1867.5 88.81 L1868.7 88.89 L1869.9 88.98 L1871.1 89.07 L1872.3 89.16 L1873.5 89.25 L1874.7 89.34 L1875.9 89.43 L1877.1 89.52 L1878.3 89.61 L1879.5 89.7 L1880.7 89.79 L1881.9 89.87 L1883.1 89.96 L1884.3 90.05 L1885.5 90.14 L1886.7 90.23 L1887.9 90.32 L1889.1 90.41 L1890.3 90.5 L1891.5 90.59 L1892.7 90.68 L1893.9 90.77 L1895.1 90.86 L1896.3 90.94 L1897.5 91.03 L1898.7 91.12 L1899.9 91.21 L1901.1 91.3 L1902.3 91.39 L1903.5 91.48 L1904.7 91.57 L1905.9 91.66 L1907.1 91.75 L1908.3 91.84 L1909.5 91.92 L1910.7 92.01 L1911.9 92.1 L1913.1 92.19 L1914.3 92.28 L1915.5 92.37 L1916.7 92.46 L1917.9 92.55 L1919.1 92.64 L1920.3 92.73 L1921.5 92.82 L1922.7 92.91 L1923.9 92.99 L1925.1 93.08 L1926.3 93.17 L1927.5 93.26 L1928.7 93.35 L1929.9 93.44 L1931.1 93.53 L1932.3 93.62 L1933.5 93.71 L1934.7 93.8 L1935.9 93.89 L1937.1 93.97 L1938.3 94.06 L1939.5 94.15 L1940.7 94.24 L1941.9 94.33 L1943.1 94.42 L1944.3 94.51 L1945.5 94.6 L1946.7 94.69 L1947.9 94.78 L1949.1 94.87 L1950.3 94.95 L1951.5 95.04 L1952.7 95.13 L1953.9 95.22 L1955.1 95.31 L1956.3 95.4 L1957.5 95.49 L1958.7 95.58 L1959.9 95.67 L1961.1 95.76 L1962.3 95.85 L1963.5 95.94 L1964.7 96.02 L1965.9 96.11 L1967.1 96.2 L1968.3 96.29 L1969.5 96.38 L1970.7 96.47 L1971.9 96.56 L1973.1 96.65 L1974.3 96.74 L1975.5 96.83 L1976.7 96.92 L1977.9 97 L1979.1 97.09 L1980.3 97.18 L1981.5 97.27 L1982.7 97.36 L1983.9 97.45 L1985.1 97.54 L1986.3 97.63 L1987.5 97.72 L1988.7 97.81 L1989.9 97.9 L1991.1 97.99 L1992.3 98.07 L1993.5 98.16 L1994.7 98.25 L1995.9 98.34 L1997.1 98.43 L1998.3 98.52 L1999.5 98.61 L2000.7 98.7 L2001.9 98.79 L2003.1 98.88 L2004.3 98.97 L2005.5 99.05 L2006.7 99.14 L2007.9 99.23 L2009.1 99.32 L2010.3 99.41 L2011.5 99.5 L2012.7 99.59 L2013.9 99.68 L2015.1 99.77 L2016.3 99.86 L2017.5 99.95 L2018.7 100.04 L2019.9 100.12 L2021.1 100.21 L2022.3 100.3 L2023.5 100.39 L2024.7 100.48 L2025.9 100.57 L2027.1 100.66 L2028.3 100.75 L2029.5 100.84 L2030.7 100.93 L2031.9 101.02 L2033.1 101.1 L2034.3 101.19 L2035.5 101.28 L2036.7 101.37 L2037.9 101.46 L2039.1 101.55 L2040.3 101.64 L2041.5 101.73 L2042.7 101.82 L2043.9 101.91 L2045.1 102 L2046.3 102.08 L2047.5 102.17 L2048.7 102.26 L2049.9 102.35 L2051.1 102.44 L2052.3 102.53 L2053.5 102.62 L2054.7 102.71 L2055.9 102.8 L2057.1 102.89 L2058.3 102.98 L2059.5 103.07 L2060.7 103.15 L2061.9 103.24 L2063.1 103.33 L2064.3 103.42 L2065.5 103.51 L2066.7 103.6 L2067.9 103.69 L2069.1 103.78 L2070.3 103.87 L2071.5 103.96 L2072.7 104.05 L2073.9 104.13 L2075.1 104.22 L2076.3 104.31 L2077.5 104.4 L2078.7 104.49 L2079.9 104.58 L2081.1 104.67 L2082.3 104.76 L2083.5 104.85 L2084.7 104.94 L2085.9 105.03 L2087.1 105.12 L2088.3 105.2 L2089.5 105.29 L2090.7 105.38 L2091.9 105.47 L2093.1 105.56 L2094.3 105.65 L2095.5 105.74 L2096.7 105.83 L2097.9 105.92 L2099.1 106.01 L2100.3 106.1 L2101.5 106.18 L2102.7 106.27 L2103.9 106.36 L2105.1 106.45 L2106.3 106.54 L2107.5 106.63 L2108.7 106.72 L2109.9 106.81 L2111.1 106.9 L2112.3 106.99 L2113.5 107.08 L2114.7 107.17 L2115.9 107.25 L2117.1 107.34 L2118.3 107.43 L2119.5 107.52 L2120.7 107.61 L2121.9 107.7 L2123.1 107.79 L2124.3 107.88 L2125.5 107.97 L2126.7 108.06 L2127.9 108.15 L2129.1 108.23 L2130.3 108.32 L2131.5 108.41 L2132.7 108.5 L2133.9 108.59 L2135.1 108.68 L2136.3 108.77 L2137.5 108.86 L2138.7 108.95 L2139.9 109.04 L2141.1 109.13 L2142.3 109.21 L2143.5 109.3 L2144.7 109.39 L2145.9 109.48 L2147.1 109.57 L2148.3 109.66 L2149.5 109.75 L2150.7 109.84 L2151.9 109.93 L2153.1 110.02 L2154.3 110.11 L2155.5 110.2 L2156.7 110.28 L2157.9 110.37 L2159.1 110.46 L2160.3 110.55 L2161.5 110.64 L2162.7 110.73 L2163.9 110.82 L2165.1 110.91 L2166.3 111 L2167.5 111.09 L2168.7 111.18 L2169.9 111.26 L2171.1 111.35 L2172.3 111.44 L2173.5 111.53 L2174.7 111.62 L2175.9 111.71 L2177.1 111.8 L2178.3 111.89 L2179.5 111.98 L2180.7 112.07 L2181.9 112.16 L2183.1 112.25 L2184.3 112.33 L2185.5 112.42 L2186.7 112.51 L2187.9 112.6 L2189.1 112.69 L2190.3 112.78 L2191.5 112.87 L2192.7 112.96 L2193.9 113.05 L2195.1 113.14 L2196.3 113.23 L2197.5 113.31 L2198.7 113.4 L2199.9 113.49 L2201.1 113.58 L2202.3 113.67 L2203.5 113.76 L2204.7 113.85 L2205.9 113.94 L2207.1 114.03 L2208.3 114.12 L2209.5 114.21 L2210.7 114.3 L2211.9 114.38 L2213.1 114.47 L2214.3 114.56 L2215.5 114.65 L2216.7 114.74 L2217.9 114.83 L2219.1 114.92 L2220.3 115.01 L2221.5 115.1 L2222.7 115.19 L2223.9 115.28 L2225.1 115.36 L2226.3 115.45 L2227.5 115.54 L2228.7 115.63 L2229.9 115.72 L2231.1 115.81 L2232.3 115.9 L2233.5 115.99 L2234.7 116.08 L2235.9 116.17 L2237.1 116.26 L2238.3 116.34 L2239.5 116.43 L2240.7 116.52 L2241.9 116.61 L2243.1 116.7 L2244.3 116.79 L2245.5 116.88 L2246.7 116.97 L2247.9 117.06 L2249.1 117.15 L2250.3 117.24 L2251.5 117.33 L2252.7 117.41 L2253.9 117.5 L2255.1 117.59 L2256.3 117.68 L2257.5 117.77 L2258.7 117.86 L2259.9 117.95 L2261.1 118.04 L2262.3 118.13 L2263.5 118.22 L2264.7 118.31 L2265.9 118.39 L2267.1 118.48 L2268.3 118.57 L2269.5 118.66 L2270.7 118.75 L2271.9 118.84 L2273.1 118.93 L2274.3 119.02 L2275.5 119.11 L2276.7 119.2 L2277.9 119.29 L2279.1 119.38 L2280.3 119.46 L2281.5 119.55 L2282.7 119.64 L2283.9 119.73 L2285.1 119.82 L2286.3 119.91 L2287.5 120 L2288.7 120.09 L2289.9 120.18 L2291.1 120.27 L2292.3 120.36 L2293.5 120.44 L2294.7 120.53 L2295.9 120.62 L2297.1 120.71 L2298.3 120.8 L2299.5 120.89 L2300.7 120.98 L2301.9 121.07 L2303.1 121.16 L2304.3 121.25 L2305.5 121.34 L2306.7 121.43 L2307.9 121.51 L2309.1 121.6 L2310.3 121.69 L2311.5 121.78 L2312.7 121.87 L2313.9 121.96 L2315.1 122.05 L2316.3 122.14 L2317.5 122.23 L2318.7 122.32 L2319.9 122.41 L2321.1 122.49 L2322.3 122.58 L2323.5 122.67 L2324.7 122.76 L2325.9 122.85 L2327.1 122.94 L2328.3 123.03 L2329.5 123.12 L2330.7 123.21 L2331.9 123.3 L2333.1 123.39 L2334.3 123.47 L2335.5 123.56 L2336.7 123.65 L2337.9 123.74 L2339.1 123.83 L2340.3 123.92 L2341.5 124.01 L2342.7 124.1 L2343.9 124.19 L2345.1 124.28 L2346.3 124.37 L2347.5 124.46 L2348.7 124.54 L2349.9 124.63 L2351.1 124.72 L2352.3 124.81 L2353.5 124.9 L2354.7 124.99 L2355.9 125.08 L2357.1 125.17 L2358.3 125.26 L2359.5 125.35 L2360.7 125.44 L2361.9 125.52 L2363.1 125.61 L2364.3 125.7 L2365.5 125.79 L2366.7 125.88 L2367.9 125.97 L2369.1 126.06 L2370.3 126.15 L2371.5 126.24 L2372.7 126.33 L2373.9 126.42 L2375.1 126.51 L2376.3 126.59 L2377.5 126.68 L2378.7 126.77 L2379.9 126.86 L2381.1 126.95 L2382.3 127.04 L2383.5 127.13 L2384.7 127.22 L2385.9 127.31 L2387.1 127.4 L2388.3 127.49 L2389.5 127.57 L2390.7 127.66 L2391.9 127.75 L2393.1 127.84 L2394.3 127.93 L2395.5 128.02 L2396.7 128.11 L2397.9 128.2 L2399.1 128.29 L2400.3 128.38 L2401.5 128.47 L2402.7 128.55 L2403.9 128.64 L2405.1 128.73 L2406.3 128.82 L2407.5 128.91 L2408.7 129 L2409.9 129.09 L2411.1 129.18 L2412.3 129.27 L2413.5 129.36 L2414.7 129.45 L2415.9 129.54 L2417.1 129.62 L2418.3 129.71 L2419.5 129.8 L2420.7 129.89 L2421.9 129.98 L2423.1 130.07 L2424.3 130.16 L2425.5 130.25 L2426.7 130.34 L2427.9 130.43 L2429.1 130.52 L2430.3 130.6 L2431.5 130.69 L2432.7 130.78 L2433.9 130.87 L2435.1 130.96 L2436.3 131.05 L2437.5 131.14 L2438.7 131.23 L2439.9 131.32 L2441.1 131.41 L2442.3 131.5 L2443.5 131.59 L2444.7 131.67 L2445.9 131.76 L2447.1 131.85 L2448.3 131.94 L2449.5 132.03" fill="none" stroke="#4dbeee" stroke-width="6.8" stroke-linecap="butt" stroke-linejoin="round" stroke-dasharray="18.7 3.4 10 3.4"/>
<path d="M1489.5 91.35 L1490.7 91.36 L1491.9 91.37 L1493.1 91.38 L1494.3 91.39 L1495.5 91.4 L1496.7 91.4 L1497.9 91.41 L1499.1 91.42 L1500.3 91.43 L1501.5 91.44 L1502.7 91.45 L1503.9 91.46 L1505.1 91.47 L1506.3 91.48 L1507.5 91.49 L1508.7 91.5 L1509.9 91.51 L1511.1 91.52 L1512.3 91.52 L1513.5 91.53 L1514.7 91.54 L1515.9 91.55 L1517.1 91.56 L1518.3 91.57 L1519.5 91.58 L1520.7 91.59 L1521.9 91.6 L1523.1 91.61 L1524.3 91.62 L1525.5 91.63 L1526.7 91.64 L1527.9 91.65 L1529.1 91.66 L1530.3 91.67 L1531.5 91.68 L1532.7 91.69 L1533.9 91.7 L1535.1 91.71 L1536.3 91.72 L1537.5 91.73 L1538.7 91.74 L1539.9 91.75 L1541.1 91.76 L1542.3 91.76 L1543.5 91.77 L1544.7 91.78 L1545.9 91.79 L1547.1 91.8 L1548.3 91.81 L1549.5 91.82 L1550.7 91.83 L1551.9 91.84 L1553.1 91.85 L1554.3 91.86 L1555.5 91.87 L1556.7 91.88 L1557.9 91.89 L1559.1 91.9 L1560.3 91.91 L1561.5 91.92 L1562.7 91.93 L1563.9 91.94 L1565.1 91.95 L1566.3 91.96 L1567.5 91.98 L1568.7 91.99 L1569.9 92 L1571.1 92.01 L1572.3 92.02 L1573.5 92.03 L1574.7 92.04 L1575.9 92.05 L1577.1 92.06 L1578.3 92.07 L1579.5 92.08 L1580.7 92.09 L1581.9 92.1 L1583.1 92.11 L1584.3 92.12 L1585.5 92.13 L1586.7 92.14 L1587.9 92.15 L1589.1 92.16 L1590.3 92.17 L1591.5 92.18 L1592.7 92.19 L1593.9 92.2 L1595.1 92.21 L1596.3 92.22 L1597.5 92.24 L1598.7 92.25 L1599.9 92.26 L1601.1 92.27 L1602.3 92.28 L1603.5 92.29 L1604.7 92.3 L1605.9 92.31 L1607.1 92.32 L1608.3 92.33 L1609.5 92.34 L1610.7 92.35 L1611.9 92.36 L1613.1 92.37 L1614.3 92.39 L1615.5 92.4 L1616.7 92.41 L1617.9 92.42 L1619.1 92.43 L1620.3 92.44 L1621.5 92.45 L1622.7 92.46 L1623.9 92.47 L1625.1 92.48 L1626.3 92.5 L1627.5 92.51 L1628.7 92.52 L1629.9 92.53 L1631.1 92.54 L1632.3 92.55 L1633.5 92.56 L1634.7 92.57 L1635.9 92.58 L1637.1 92.6 L1638.3 92.61 L1639.5 92.62 L1640.7 92.63 L1641.9 92.64 L1643.1 92.65 L1644.3 92.66 L1645.5 92.67 L1646.7 92.69 L1647.9 92.7 L1649.1 92.71 L1650.3 92.72 L1651.5 92.73 L1652.7 92.74 L1653.9 92.75 L1655.1 92.77 L1656.3 92.78 L1657.5 92.79 L1658.7 92.8 L1659.9 92.81 L1661.1 92.82 L1662.3 92.84 L1663.5 92.85 L1664.7 92.86 L1665.9 92.87 L1667.1 92.88 L1668.3 92.89 L1669.5 92.91 L1670.7 92.92 L1671.9 92.93 L1673.1 92.94 L1674.3 92.95 L1675.5 92.96 L1676.7 92.98 L1677.9 92.99 L1679.1 93 L1680.3 93.01 L1681.5 93.02 L1682.7 93.03 L1683.9 93.05 L1685.1 93.06 L1686.3 93.07 L1687.5 93.08 L1688.7 93.09 L1689.9 93.11 L1691.1 93.12 L1692.3 93.13 L1693.5 93.14 L1694.7 93.15 L1695.9 93.17 L1697.1 93.18 L1698.3 93.19 L1699.5 93.2 L1700.7 93.22 L1701.9 93.23 L1703.1 93.24 L1704.3 93.25 L1705.5 93.26 L1706.7 93.28 L1707.9 93.29 L1709.1 93.3 L1710.3 93.31 L1711.5 93.33 L1712.7 93.34 L1713.9 93.35 L1715.1 93.36 L1716.3 93.37 L1717.5 93.39 L1718.7 93.4 L1719.9 93.41 L1721.1 93.42 L1722.3 93.44 L1723.5 93.45 L1724.7 93.46 L1725.9 93.47 L1727.1 93.49 L1728.3 93.5 L1729.5 93.51 L1730.7 93.52 L1731.9 93.54 L1733.1 93.55 L1734.3 93.56 L1735.5 93.57 L1736.7 93.59 L1737.9 93.6 L1739.1 93.61 L1740.3 93.63 L1741.5 93.64 L1742.7 93.65 L1743.9 93.66 L1745.1 93.68 L1746.3 93.69 L1747.5 93.7 L1748.7 93.72 L1749.9 93.73 L1751.1 93.74 L1752.3 93.75 L1753.5 93.77 L1754.7 93.78 L1755.9 93.79 L1757.1 93.81 L1758.3 93.82 L1759.5 93.83 L1760.7 93.84 L1761.9 93.86 L1763.1 93.87 L1764.3 93.88 L1765.5 93.9 L1766.7 93.91 L1767.9 93.92 L1769.1 93.94 L1770.3 93.95 L1771.5 93.96 L1772.7 93.98 L1773.9 93.99 L1775.1 94 L1776.3 94.02 L1777.5 94.03 L1778.7 94.04 L1779.9 94.06 L1781.1 94.07 L1782.3 94.08 L1783.5 94.1 L1784.7 94.11 L1785.9 94.12 L1787.1 94.14 L1788.3 94.15 L1789.5 94.16 L1790.7 94.18 L1791.9 94.19 L1793.1 94.2 L1794.3 94.22 L1795.5 94.23 L1796.7 94.24 L1797.9 94.26 L1799.1 94.27 L1800.3 94.28 L1801.5 94.3 L1802.7 94.31 L1803.9 94.33 L1805.1 94.34 L1806.3 94.35 L1807.5 94.37 L1808.7 94.38 L1809.9 94.39 L1811.1 94.41 L1812.3 94.42 L1813.5 94.44 L1814.7 94.45 L1815.9 94.46 L1817.1 94.48 L1818.3 94.49 L1819.5 94.5 L1820.7 94.52 L1821.9 94.53 L1823.1 94.55 L1824.3 94.56 L1825.5 94.57 L1826.7 94.59 L1827.9 94.6 L1829.1 94.62 L1830.3 94.63 L1831.5 94.64 L1832.7 94.66 L1833.9 94.67 L1835.1 94.69 L1836.3 94.7 L1837.5 94.72 L1838.7 94.73 L1839.9 94.74 L1841.1 94.76 L1842.3 94.77 L1843.5 94.79 L1844.7 94.8 L1845.9 94.81 L1847.1 94.83 L1848.3 94.84 L1849.5 94.86 L1850.7 94.87 L1851.9 94.89 L1853.1 94.9 L1854.3 94.92 L1855.5 94.93 L1856.7 94.94 L1857.9 94.96 L1859.1 94.97 L1860.3 94.99 L1861.5 95 L1862.7 95.02 L1863.9 95.03 L1865.1 95.05 L1866.3 95.06 L1867.5 95.08 L1868.7 95.09 L1869.9 95.1 L1871.1 95.12 L1872.3 95.13 L1873.5 95.15 L1874.7 95.16 L1875.9 95.18 L1877.1 95.19 L1878.3 95.21 L1879.5 95.22 L1880.7 95.24 L1881.9 95.25 L1883.1 95.27 L1884.3 95.28 L1885.5 95.3 L1886.7 95.31 L1887.9 95.33 L1889.1 95.34 L1890.3 95.36 L1891.5 95.37 L1892.7 95.39 L1893.9 95.4 L1895.1 95.42 L1896.3 95.43 L1897.5 95.45 L1898.7 95.46 L1899.9 95.48 L1901.1 95.49 L1902.3 95.51 L1903.5 95.52 L1904.7 95.54 L1905.9 95.55 L1907.1 95.57 L1908.3 95.58 L1909.5 95.6 L1910.7 95.61 L1911.9 95.63 L1913.1 95.64 L1914.3 95.66 L1915.5 95.67 L1916.7 95.69 L1917.9 95.7 L1919.1 95.72 L1920.3 95.74 L1921.5 95.75 L1922.7 95.77 L1923.9 95.78 L1925.1 95.8 L1926.3 95.81 L1927.5 95.83 L1928.7 95.84 L1929.9 95.86 L1931.1 95.87 L1932.3 95.89 L1933.5 95.91 L1934.7 95.92 L1935.9 95.94 L1937.1 95.95 L1938.3 95.97 L1939.5 95.98 L1940.7 96 L1941.9 96.01 L1943.1 96.03 L1944.3 96.05 L1945.5 96.06 L1946.7 96.08 L1947.9 96.09 L1949.1 96.11 L1950.3 96.13 L1951.5 96.14 L1952.7 96.16 L1953.9 96.17 L1955.1 96.19 L1956.3 96.2 L1957.5 96.22 L1958.7 96.24 L1959.9 96.25 L1961.1 96.27 L1962.3 96.28 L1963.5 96.3 L1964.7 96.32 L1965.9 96.33 L1967.1 96.35 L1968.3 96.36 L1969.5 96.38 L1970.7 96.4 L1971.9 96.41 L1973.1 96.43 L1974.3 96.45 L1975.5 96.46 L1976.7 96.48 L1977.9 96.49 L1979.1 96.51 L1980.3 96.53 L1981.5 96.54 L1982.7 96.56 L1983.9 96.58 L1985.1 96.59 L1986.3 96.61 L1987.5 96.62 L1988.7 96.64 L1989.9 96.66 L1991.1 96.67 L1992.3 96.69 L1993.5 96.71 L1994.7 96.72 L1995.9 96.74 L1997.1 96.76 L1998.3 96.77 L1999.5 96.79 L2000.7 96.81 L2001.9 96.82 L2003.1 96.84 L2004.3 96.86 L2005.5 96.87 L2006.7 96.89 L2007.9 96.91 L2009.1 96.92 L2010.3 96.94 L2011.5 96.96 L2012.7 96.97 L2013.9 96.99 L2015.1 97.01 L2016.3 97.02 L2017.5 97.04 L2018.7 97.06 L2019.9 97.07 L2021.1 97.09 L2022.3 97.11 L2023.5 97.12 L2024.7 97.14 L2025.9 97.16 L2027.1 97.17 L2028.3 97.19 L2029.5 97.21 L2030.7 97.23 L2031.9 97.24 L2033.1 97.26 L2034.3 97.28 L2035.5 97.29 L2036.7 97.31 L2037.9 97.33 L2039.1 97.35 L2040.3 97.36 L2041.5 97.38 L2042.7 97.4 L2043.9 97.41 L2045.1 97.43 L2046.3 97.45 L2047.5 97.47 L2048.7 97.48 L2049.9 97.5 L2051.1 97.52 L2052.3 97.53 L2053.5 97.55 L2054.7 97.57 L2055.9 97.59 L2057.1 97.6 L2058.3 97.62 L2059.5 97.64 L2060.7 97.66 L2061.9 97.67 L2063.1 97.69 L2064.3 97.71 L2065.5 97.73 L2066.7 97.74 L2067.9 97.76 L2069.1 97.78 L2070.3 97.8 L2071.5 97.81 L2072.7 97.83 L2073.9 97.85 L2075.1 97.87 L2076.3 97.89 L2077.5 97.9 L2078.7 97.92 L2079.9 97.94 L2081.1 97.96 L2082.3 97.97 L2083.5 97.99 L2084.7 98.01 L2085.9 98.03 L2087.1 98.04 L2088.3 98.06 L2089.5 98.08 L2090.7 98.1 L2091.9 98.12 L2093.1 98.13 L2094.3 98.15 L2095.5 98.17 L2096.7 98.19 L2097.9 98.21 L2099.1 98.22 L2100.3 98.24 L2101.5 98.26 L2102.7 98.28 L2103.9 98.3 L2105.1 98.31 L2106.3 98.33 L2107.5 98.35 L2108.7 98.37 L2109.9 98.39 L2111.1 98.41 L2112.3 98.42 L2113.5 98.44 L2114.7 98.46 L2115.9 98.48 L2117.1 98.5 L2118.3 98.51 L2119.5 98.53 L2120.7 98.55 L2121.9 98.57 L2123.1 98.59 L2124.3 98.61 L2125.5 98.63 L2126.7 98.64 L2127.9 98.66 L2129.1 98.68 L2130.3 98.7 L2131.5 98.72 L2132.7 98.74 L2133.9 98.75 L2135.1 98.77 L2136.3 98.79 L2137.5 98.81 L2138.7 98.83 L2139.9 98.85 L2141.1 98.87 L2142.3 98.88 L2143.5 98.9 L2144.7 98.92 L2145.9 98.94 L2147.1 98.96 L2148.3 98.98 L2149.5 99 L2150.7 99.02 L2151.9 99.03 L2153.1 99.05 L2154.3 99.07 L2155.5 99.09 L2156.7 99.11 L2157.9 99.13 L2159.1 99.15 L2160.3 99.17 L2161.5 99.19 L2162.7 99.2 L2163.9 99.22 L2165.1 99.24 L2166.3 99.26 L2167.5 99.28 L2168.7 99.3 L2169.9 99.32 L2171.1 99.34 L2172.3 99.36 L2173.5 99.38 L2174.7 99.39 L2175.9 99.41 L2177.1 99.43 L2178.3 99.45 L2179.5 99.47 L2180.7 99.49 L2181.9 99.51 L2183.1 99.53 L2184.3 99.55 L2185.5 99.57 L2186.7 99.59 L2187.9 99.61 L2189.1 99.63 L2190.3 99.65 L2191.5 99.66 L2192.7 99.68 L2193.9 99.7 L2195.1 99.72 L2196.3 99.74 L2197.5 99.76 L2198.7 99.78 L2199.9 99.8 L2201.1 99.82 L2202.3 99.84 L2203.5 99.86 L2204.7 99.88 L2205.9 99.9 L2207.1 99.92 L2208.3 99.94 L2209.5 99.96 L2210.7 99.98 L2211.9 100 L2213.1 100.02 L2214.3 100.04 L2215.5 100.06 L2216.7 100.08 L2217.9 100.1 L2219.1 100.12 L2220.3 100.13 L2221.5 100.15 L2222.7 100.17 L2223.9 100.19 L2225.1 100.21 L2226.3 100.23 L2227.5 100.25 L2228.7 100.27 L2229.9 100.29 L2231.1 100.31 L2232.3 100.33 L2233.5 100.35 L2234.7 100.37 L2235.9 100.39 L2237.1 100.41 L2238.3 100.43 L2239.5 100.45 L2240.7 100.47 L2241.9 100.49 L2243.1 100.51 L2244.3 100.53 L2245.5 100.55 L2246.7 100.57 L2247.9 100.6 L2249.1 100.62 L2250.3 100.64 L2251.5 100.66 L2252.7 100.68 L2253.9 100.7 L2255.1 100.72 L2256.3 100.74 L2257.5 100.76 L2258.7 100.78 L2259.9 100.8 L2261.1 100.82 L2262.3 100.84 L2263.5 100.86 L2264.7 100.88 L2265.9 100.9 L2267.1 100.92 L2268.3 100.94 L2269.5 100.96 L2270.7 100.98 L2271.9 101 L2273.1 101.02 L2274.3 101.04 L2275.5 101.06 L2276.7 101.09 L2277.9 101.11 L2279.1 101.13 L2280.3 101.15 L2281.5 101.17 L2282.7 101.19 L2283.9 101.21 L2285.1 101.23 L2286.3 101.25 L2287.5 101.27 L2288.7 101.29 L2289.9 101.31 L2291.1 101.33 L2292.3 101.36 L2293.5 101.38 L2294.7 101.4 L2295.9 101.42 L2297.1 101.44 L2298.3 101.46 L2299.5 101.48 L2300.7 101.5 L2301.9 101.52 L2303.1 101.54 L2304.3 101.56 L2305.5 101.59 L2306.7 101.61 L2307.9 101.63 L2309.1 101.65 L2310.3 101.67 L2311.5 101.69 L2312.7 101.71 L2313.9 101.73 L2315.1 101.76 L2316.3 101.78 L2317.5 101.8 L2318.7 101.82 L2319.9 101.84 L2321.1 101.86 L2322.3 101.88 L2323.5 101.9 L2324.7 101.93 L2325.9 101.95 L2327.1 101.97 L2328.3 101.99 L2329.5 102.01 L2330.7 102.03 L2331.9 102.05 L2333.1 102.08 L2334.3 102.1 L2335.5 102.12 L2336.7 102.14 L2337.9 102.16 L2339.1 102.18 L2340.3 102.2 L2341.5 102.23 L2342.7 102.25 L2343.9 102.27 L2345.1 102.29 L2346.3 102.31 L2347.5 102.33 L2348.7 102.36 L2349.9 102.38 L2351.1 102.4 L2352.3 102.42 L2353.5 102.44 L2354.7 102.46 L2355.9 102.49 L2357.1 102.51 L2358.3 102.53 L2359.5 102.55 L2360.7 102.57 L2361.9 102.6 L2363.1 102.62 L2364.3 102.64 L2365.5 102.66 L2366.7 102.68 L2367.9 102.71 L2369.1 102.73 L2370.3 102.75 L2371.5 102.77 L2372.7 102.79 L2373.9 102.82 L2375.1 102.84 L2376.3 102.86 L2377.5 102.88 L2378.7 102.9 L2379.9 102.93 L2381.1 102.95 L2382.3 102.97 L2383.5 102.99 L2384.7 103.01 L2385.9 103.04 L2387.1 103.06 L2388.3 103.08 L2389.5 103.1 L2390.7 103.13 L2391.9 103.15 L2393.1 103.17 L2394.3 103.19 L2395.5 103.22 L2396.7 103.24 L2397.9 103.26 L2399.1 103.28 L2400.3 103.31 L2401.5 103.33 L2402.7 103.35 L2403.9 103.37 L2405.1 103.4 L2406.3 103.42 L2407.5 103.44 L2408.7 103.46 L2409.9 103.49 L2411.1 103.51 L2412.3 103.53 L2413.5 103.55 L2414.7 103.58 L2415.9 103.6 L2417.1 103.62 L2418.3 103.64 L2419.5 103.67 L2420.7 103.69 L2421.9 103.71 L2423.1 103.74 L2424.3 103.76 L2425.5 103.78 L2426.7 103.8 L2427.9 103.83 L2429.1 103.85 L2430.3 103.87 L2431.5 103.9 L2432.7 103.92 L2433.9 103.94 L2435.1 103.96 L2436.3 103.99 L2437.5 104.01 L2438.7 104.03 L2439.9 104.06 L2441.1 104.08 L2442.3 104.1 L2443.5 104.13 L2444.7 104.15 L2445.9 104.17 L2447.1 104.19 L2448.3 104.22 L2449.5 104.24" fill="none" stroke="#7e2f8e" stroke-width="6.8" stroke-linecap="butt" stroke-linejoin="round"/>
<path d="M1489.5 673.45 L1490.7 673.52 L1491.9 673.6 L1493.1 673.68 L1494.3 673.75 L1495.5 673.83 L1496.7 673.91 L1497.9 673.98 L1499.1 674.06 L1500.3 674.14 L1501.5 674.22 L1502.7 674.29 L1503.9 674.37 L1505.1 674.45 L1506.3 674.52 L1507.5 674.6 L1508.7 674.68 L1509.9 674.76 L1511.1 674.83 L1512.3 674.91 L1513.5 674.99 L1514.7 675.06 L1515.9 675.14 L1517.1 675.22 L1518.3 675.3 L1519.5 675.37 L1520.7 675.45 L1521.9 675.53 L1523.1 675.61 L1524.3 675.68 L1525.5 675.76 L1526.7 675.84 L1527.9 675.91 L1529.1 675.99 L1530.3 676.07 L1531.5 676.15 L1532.7 676.22 L1533.9 676.3 L1535.1 676.38 L1536.3 676.45 L1537.5 676.53 L1538.7 676.61 L1539.9 676.69 L1541.1 676.76 L1542.3 676.84 L1543.5 676.92 L1544.7 677 L1545.9 677.07 L1547.1 677.15 L1548.3 677.23 L1549.5 677.31 L1550.7 677.38 L1551.9 677.46 L1553.1 677.54 L1554.3 677.62 L1555.5 677.69 L1556.7 677.77 L1557.9 677.85 L1559.1 677.93 L1560.3 678 L1561.5 678.08 L1562.7 678.16 L1563.9 678.23 L1565.1 678.31 L1566.3 678.39 L1567.5 678.47 L1568.7 678.54 L1569.9 678.62 L1571.1 678.7 L1572.3 678.78 L1573.5 678.85 L1574.7 678.93 L1575.9 679.01 L1577.1 679.09 L1578.3 679.16 L1579.5 679.24 L1580.7 679.32 L1581.9 679.4 L1583.1 679.48 L1584.3 679.55 L1585.5 679.63 L1586.7 679.71 L1587.9 679.79 L1589.1 679.86 L1590.3 679.94 L1591.5 680.02 L1592.7 680.1 L1593.9 680.17 L1595.1 680.25 L1596.3 680.33 L1597.5 680.41 L1598.7 680.48 L1599.9 680.56 L1601.1 680.64 L1602.3 680.72 L1603.5 680.8 L1604.7 680.87 L1605.9 680.95 L1607.1 681.03 L1608.3 681.11 L1609.5 681.18 L1610.7 681.26 L1611.9 681.34 L1613.1 681.42 L1614.3 681.49 L1615.5 681.57 L1616.7 681.65 L1617.9 681.73 L1619.1 681.81 L1620.3 681.88 L1621.5 681.96 L1622.7 682.04 L1623.9 682.12 L1625.1 682.19 L1626.3 682.27 L1627.5 682.35 L1628.7 682.43 L1629.9 682.51 L1631.1 682.58 L1632.3 682.66 L1633.5 682.74 L1634.7 682.82 L1635.9 682.9 L1637.1 682.97 L1638.3 683.05 L1639.5 683.13 L1640.7 683.21 L1641.9 683.29 L1643.1 683.36 L1644.3 683.44 L1645.5 683.52 L1646.7 683.6 L1647.9 683.67 L1649.1 683.75 L1650.3 683.83 L1651.5 683.91 L1652.7 683.99 L1653.9 684.06 L1655.1 684.14 L1656.3 684.22 L1657.5 684.3 L1658.7 684.38 L1659.9 684.45 L1661.1 684.53 L1662.3 684.61 L1663.5 684.69 L1664.7 684.77 L1665.9 684.84 L1667.1 684.92 L1668.3 685 L1669.5 685.08 L1670.7 685.16 L1671.9 685.24 L1673.1 685.31 L1674.3 685.39 L1675.5 685.47 L1676.7 685.55 L1677.9 685.63 L1679.1 685.7 L1680.3 685.78 L1681.5 685.86 L1682.7 685.94 L1683.9 686.02 L1685.1 686.09 L1686.3 686.17 L1687.5 686.25 L1688.7 686.33 L1689.9 686.41 L1691.1 686.49 L1692.3 686.56 L1693.5 686.64 L1694.7 686.72 L1695.9 686.8 L1697.1 686.88 L1698.3 686.96 L1699.5 687.03 L1700.7 687.11 L1701.9 687.19 L1703.1 687.27 L1704.3 687.35 L1705.5 687.42 L1706.7 687.5 L1707.9 687.58 L1709.1 687.66 L1710.3 687.74 L1711.5 687.82 L1712.7 687.89 L1713.9 687.97 L1715.1 688.05 L1716.3 688.13 L1717.5 688.21 L1718.7 688.29 L1719.9 688.37 L1721.1 688.44 L1722.3 688.52 L1723.5 688.6 L1724.7 688.68 L1725.9 688.76 L1727.1 688.84 L1728.3 688.91 L1729.5 688.99 L1730.7 689.07 L1731.9 689.15 L1733.1 689.23 L1734.3 689.31 L1735.5 689.38 L1736.7 689.46 L1737.9 689.54 L1739.1 689.62 L1740.3 689.7 L1741.5 689.78 L1742.7 689.86 L1743.9 689.93 L1745.1 690.01 L1746.3 690.09 L1747.5 690.17 L1748.7 690.25 L1749.9 690.33 L1751.1 690.41 L1752.3 690.48 L1753.5 690.56 L1754.7 690.64 L1755.9 690.72 L1757.1 690.8 L1758.3 690.88 L1759.5 690.96 L1760.7 691.03 L1761.9 691.11 L1763.1 691.19 L1764.3 691.27 L1765.5 691.35 L1766.7 691.43 L1767.9 691.51 L1769.1 691.58 L1770.3 691.66 L1771.5 691.74 L1772.7 691.82 L1773.9 691.9 L1775.1 691.98 L1776.3 692.06 L1777.5 692.14 L1778.7 692.21 L1779.9 692.29 L1781.1 692.37 L1782.3 692.45 L1783.5 692.53 L1784.7 692.61 L1785.9 692.69 L1787.1 692.77 L1788.3 692.84 L1789.5 692.92 L1790.7 693 L1791.9 693.08 L1793.1 693.16 L1794.3 693.24 L1795.5 693.32 L1796.7 693.4 L1797.9 693.48 L1799.1 693.55 L1800.3 693.63 L1801.5 693.71 L1802.7 693.79 L1803.9 693.87 L1805.1 693.95 L1806.3 694.03 L1807.5 694.11 L1808.7 694.18 L1809.9 694.26 L1811.1 694.34 L1812.3 694.42 L1813.5 694.5 L1814.7 694.58 L1815.9 694.66 L1817.1 694.74 L1818.3 694.82 L1819.5 694.9 L1820.7 694.97 L1821.9 695.05 L1823.1 695.13 L1824.3 695.21 L1825.5 695.29 L1826.7 695.37 L1827.9 695.45 L1829.1 695.53 L1830.3 695.61 L1831.5 695.69 L1832.7 695.76 L1833.9 695.84 L1835.1 695.92 L1836.3 696 L1837.5 696.08 L1838.7 696.16 L1839.9 696.24 L1841.1 696.32 L1842.3 696.4 L1843.5 696.48 L1844.7 696.56 L1845.9 696.63 L1847.1 696.71 L1848.3 696.79 L1849.5 696.87 L1850.7 696.95 L1851.9 697.03 L1853.1 697.11 L1854.3 697.19 L1855.5 697.27 L1856.7 697.35 L1857.9 697.43 L1859.1 697.51 L1860.3 697.58 L1861.5 697.66 L1862.7 697.74 L1863.9 697.82 L1865.1 697.9 L1866.3 697.98 L1867.5 698.06 L1868.7 698.14 L1869.9 698.22 L1871.1 698.3 L1872.3 698.38 L1873.5 698.46 L1874.7 698.54 L1875.9 698.61 L1877.1 698.69 L1878.3 698.77 L1879.5 698.85 L1880.7 698.93 L1881.9 699.01 L1883.1 699.09 L1884.3 699.17 L1885.5 699.25 L1886.7 699.33 L1887.9 699.41 L1889.1 699.49 L1890.3 699.57 L1891.5 699.65 L1892.7 699.73 L1893.9 699.81 L1895.1 699.88 L1896.3 699.96 L1897.5 700.04 L1898.7 700.12 L1899.9 700.2 L1901.1 700.28 L1902.3 700.36 L1903.5 700.44 L1904.7 700.52 L1905.9 700.6 L1907.1 700.68 L1908.3 700.76 L1909.5 700.84 L1910.7 700.92 L1911.9 701 L1913.1 701.08 L1914.3 701.16 L1915.5 701.24 L1916.7 701.32 L1917.9 701.39 L1919.1 701.47 L1920.3 701.55 L1921.5 701.63 L1922.7 701.71 L1923.9 701.79 L1925.1 701.87 L1926.3 701.95 L1927.5 702.03 L1928.7 702.11 L1929.9 702.19 L1931.1 702.27 L1932.3 702.35 L1933.5 702.43 L1934.7 702.51 L1935.9 702.59 L1937.1 702.67 L1938.3 702.75 L1939.5 702.83 L1940.7 702.91 L1941.9 702.99 L1943.1 703.07 L1944.3 703.15 L1945.5 703.23 L1946.7 703.31 L1947.9 703.39 L1949.1 703.47 L1950.3 703.55 L1951.5 703.63 L1952.7 703.7 L1953.9 703.78 L1955.1 703.86 L1956.3 703.94 L1957.5 704.02 L1958.7 704.1 L1959.9 704.18 L1961.1 704.26 L1962.3 704.34 L1963.5 704.42 L1964.7 704.5 L1965.9 704.58 L1967.1 704.66 L1968.3 704.74 L1969.5 704.82 L1970.7 704.9 L1971.9 704.98 L1973.1 705.06 L1974.3 705.14 L1975.5 705.22 L1976.7 705.3 L1977.9 705.38 L1979.1 705.46 L1980.3 705.54 L1981.5 705.62 L1982.7 705.7 L1983.9 705.78 L1985.1 705.86 L1986.3 705.94 L1987.5 706.02 L1988.7 706.1 L1989.9 706.18 L1991.1 706.26 L1992.3 706.34 L1993.5 706.42 L1994.7 706.5 L1995.9 706.58 L1997.1 706.66 L1998.3 706.74 L1999.5 706.82 L2000.7 706.9 L2001.9 706.98 L2003.1 707.06 L2004.3 707.14 L2005.5 707.22 L2006.7 707.3 L2007.9 707.38 L2009.1 707.46 L2010.3 707.54 L2011.5 707.62 L2012.7 707.7 L2013.9 707.78 L2015.1 707.86 L2016.3 707.94 L2017.5 708.02 L2018.7 708.1 L2019.9 708.18 L2021.1 708.26 L2022.3 708.34 L2023.5 708.42 L2024.7 708.5 L2025.9 708.58 L2027.1 708.66 L2028.3 708.74 L2029.5 708.82 L2030.7 708.9 L2031.9 708.98 L2033.1 709.06 L2034.3 709.14 L2035.5 709.22 L2036.7 709.31 L2037.9 709.39 L2039.1 709.47 L2040.3 709.55 L2041.5 709.63 L2042.7 709.71 L2043.9 709.79 L2045.1 709.87 L2046.3 709.95 L2047.5 710.03 L2048.7 710.11 L2049.9 710.19 L2051.1 710.27 L2052.3 710.35 L2053.5 710.43 L2054.7 710.51 L2055.9 710.59 L2057.1 710.67 L2058.3 710.75 L2059.5 710.83 L2060.7 710.91 L2061.9 710.99 L2063.1 711.07 L2064.3 711.15 L2065.5 711.23 L2066.7 711.31 L2067.9 711.39 L2069.1 711.47 L2070.3 711.55 L2071.5 711.64 L2072.7 711.72 L2073.9 711.8 L2075.1 711.88 L2076.3 711.96 L2077.5 712.04 L2078.7 712.12 L2079.9 712.2 L2081.1 712.28 L2082.3 712.36 L2083.5 712.44 L2084.7 712.52 L2085.9 712.6 L2087.1 712.68 L2088.3 712.76 L2089.5 712.84 L2090.7 712.92 L2091.9 713 L2093.1 713.08 L2094.3 713.17 L2095.5 713.25 L2096.7 713.33 L2097.9 713.41 L2099.1 713.49 L2100.3 713.57 L2101.5 713.65 L2102.7 713.73 L2103.9 713.81 L2105.1 713.89 L2106.3 713.97 L2107.5 714.05 L2108.7 714.13 L2109.9 714.21 L2111.1 714.29 L2112.3 714.38 L2113.5 714.46 L2114.7 714.54 L2115.9 714.62 L2117.1 714.7 L2118.3 714.78 L2119.5 714.86 L2120.7 714.94 L2121.9 715.02 L2123.1 715.1 L2124.3 715.18 L2125.5 715.26 L2126.7 715.34 L2127.9 715.42 L2129.1 715.51 L2130.3 715.59 L2131.5 715.67 L2132.7 715.75 L2133.9 715.83 L2135.1 715.91 L2136.3 715.99 L2137.5 716.07 L2138.7 716.15 L2139.9 716.23 L2141.1 716.31 L2142.3 716.39 L2143.5 716.48 L2144.7 716.56 L2145.9 716.64 L2147.1 716.72 L2148.3 716.8 L2149.5 716.88 L2150.7 716.96 L2151.9 717.04 L2153.1 717.12 L2154.3 717.2 L2155.5 717.28 L2156.7 717.37 L2157.9 717.45 L2159.1 717.53 L2160.3 717.61 L2161.5 717.69 L2162.7 717.77 L2163.9 717.85 L2165.1 717.93 L2166.3 718.01 L2167.5 718.09 L2168.7 718.18 L2169.9 718.26 L2171.1 718.34 L2172.3 718.42 L2173.5 718.5 L2174.7 718.58 L2175.9 718.66 L2177.1 718.74 L2178.3 718.82 L2179.5 718.91 L2180.7 718.99 L2181.9 719.07 L2183.1 719.15 L2184.3 719.23 L2185.5 719.31 L2186.7 719.39 L2187.9 719.47 L2189.1 719.55 L2190.3 719.64 L2191.5 719.72 L2192.7 719.8 L2193.9 719.88 L2195.1 719.96 L2196.3 720.04 L2197.5 720.12 L2198.7 720.2 L2199.9 720.28 L2201.1 720.37 L2202.3 720.45 L2203.5 720.53 L2204.7 720.61 L2205.9 720.69 L2207.1 720.77 L2208.3 720.85 L2209.5 720.93 L2210.7 721.02 L2211.9 721.1 L2213.1 721.18 L2214.3 721.26 L2215.5 721.34 L2216.7 721.42 L2217.9 721.5 L2219.1 721.59 L2220.3 721.67 L2221.5 721.75 L2222.7 721.83 L2223.9 721.91 L2225.1 721.99 L2226.3 722.07 L2227.5 722.15 L2228.7 722.24 L2229.9 722.32 L2231.1 722.4 L2232.3 722.48 L2233.5 722.56 L2234.7 722.64 L2235.9 722.72 L2237.1 722.81 L2238.3 722.89 L2239.5 722.97 L2240.7 723.05 L2241.9 723.13 L2243.1 723.21 L2244.3 723.29 L2245.5 723.38 L2246.7 723.46 L2247.9 723.54 L2249.1 723.62 L2250.3 723.7 L2251.5 723.78 L2252.7 723.87 L2253.9 723.95 L2255.1 724.03 L2256.3 724.11 L2257.5 724.19 L2258.7 724.27 L2259.9 724.35 L2261.1 724.44 L2262.3 724.52 L2263.5 724.6 L2264.7 724.68 L2265.9 724.76 L2267.1 724.84 L2268.3 724.93 L2269.5 725.01 L2270.7 725.09 L2271.9 725.17 L2273.1 725.25 L2274.3 725.33 L2275.5 725.42 L2276.7 725.5 L2277.9 725.58 L2279.1 725.66 L2280.3 725.74 L2281.5 725.82 L2282.7 725.91 L2283.9 725.99 L2285.1 726.07 L2286.3 726.15 L2287.5 726.23 L2288.7 726.31 L2289.9 726.4 L2291.1 726.48 L2292.3 726.56 L2293.5 726.64 L2294.7 726.72 L2295.9 726.8 L2297.1 726.89 L2298.3 726.97 L2299.5 727.05 L2300.7 727.13 L2301.9 727.21 L2303.1 727.3 L2304.3 727.38 L2305.5 727.46 L2306.7 727.54 L2307.9 727.62 L2309.1 727.7 L2310.3 727.79 L2311.5 727.87 L2312.7 727.95 L2313.9 728.03 L2315.1 728.11 L2316.3 728.2 L2317.5 728.28 L2318.7 728.36 L2319.9 728.44 L2321.1 728.52 L2322.3 728.61 L2323.5 728.69 L2324.7 728.77 L2325.9 728.85 L2327.1 728.93 L2328.3 729.02 L2329.5 729.1 L2330.7 729.18 L2331.9 729.26 L2333.1 729.34 L2334.3 729.43 L2335.5 729.51 L2336.7 729.59 L2337.9 729.67 L2339.1 729.75 L2340.3 729.84 L2341.5 729.92 L2342.7 730 L2343.9 730.08 L2345.1 730.16 L2346.3 730.25 L2347.5 730.33 L2348.7 730.41 L2349.9 730.49 L2351.1 730.57 L2352.3 730.66 L2353.5 730.74 L2354.7 730.82 L2355.9 730.9 L2357.1 730.98 L2358.3 731.07 L2359.5 731.15 L2360.7 731.23 L2361.9 731.31 L2363.1 731.4 L2364.3 731.48 L2365.5 731.56 L2366.7 731.64 L2367.9 731.72 L2369.1 731.81 L2370.3 731.89 L2371.5 731.97 L2372.7 732.05 L2373.9 732.14 L2375.1 732.22 L2376.3 732.3 L2377.5 732.38 L2378.7 732.46 L2379.9 732.55 L2381.1 732.63 L2382.3 732.71 L2383.5 732.79 L2384.7 732.88 L2385.9 732.96 L2387.1 733.04 L2388.3 733.12 L2389.5 733.2 L2390.7 733.29 L2391.9 733.37 L2393.1 733.45 L2394.3 733.53 L2395.5 733.62 L2396.7 733.7 L2397.9 733.78 L2399.1 733.86 L2400.3 733.95 L2401.5 734.03 L2402.7 734.11 L2403.9 734.19 L2405.1 734.28 L2406.3 734.36 L2407.5 734.44 L2408.7 734.52 L2409.9 734.61 L2411.1 734.69 L2412.3 734.77 L2413.5 734.85 L2414.7 734.94 L2415.9 735.02 L2417.1 735.1 L2418.3 735.18 L2419.5 735.27 L2420.7 735.35 L2421.9 735.43 L2423.1 735.51 L2424.3 735.6 L2425.5 735.68 L2426.7 735.76 L2427.9 735.84 L2429.1 735.93 L2430.3 736.01 L2431.5 736.09 L2432.7 736.17 L2433.9 736.26 L2435.1 736.34 L2436.3 736.42 L2437.5 736.5 L2438.7 736.59 L2439.9 736.67 L2441.1 736.75 L2442.3 736.83 L2443.5 736.92 L2444.7 737 L2445.9 737.08 L2447.1 737.16 L2448.3 737.25 L2449.5 737.33" fill="none" stroke="#ff0000" stroke-width="6.8" stroke-linecap="butt" stroke-linejoin="round" stroke-dasharray="18.9 16.6"/>
<text x="1452.61" y="784.2" font-family="&quot;Liberation Serif&quot;, serif" font-size="45.3" fill="#262626" stroke="#262626" stroke-width="0.9" textLength="22.5" lengthAdjust="spacingAndGlyphs">0</text>
<text x="1407.61" y="669.2" font-family="&quot;Liberation Serif&quot;, serif" font-size="45.3" fill="#262626" stroke="#262626" stroke-width="0.9" textLength="67.5" lengthAdjust="spacingAndGlyphs">500</text>
<text x="1385.11" y="554.2" font-family="&quot;Liberation Serif&quot;, serif" font-size="45.3" fill="#262626" stroke="#262626" stroke-width="0.9" textLength="90" lengthAdjust="spacingAndGlyphs">1000</text>
<text x="1385.11" y="439.2" font-family="&quot;Liberation Serif&quot;, serif" font-size="45.3" fill="#262626" stroke="#262626" stroke-width="0.9" textLength="90" lengthAdjust="spacingAndGlyphs">1500</text>
<text x="1385.11" y="324.2" font-family="&quot;Liberation Serif&quot;, serif" font-size="45.3" fill="#262626" stroke="#262626" stroke-width="0.9" textLength="90" lengthAdjust="spacingAndGlyphs">2000</text>
<text x="1385.11" y="209.2" font-family="&quot;Liberation Serif&quot;, serif" font-size="45.3" fill="#262626" stroke="#262626" stroke-width="0.9" textLength="90" lengthAdjust="spacingAndGlyphs">2500</text>
<text x="1385.11" y="94.2" font-family="&quot;Liberation Serif&quot;, serif" font-size="45.3" fill="#262626" stroke="#262626" stroke-width="0.9" textLength="90" lengthAdjust="spacingAndGlyphs">3000</text>
<text x="1553.88" y="830.12" font-family="&quot;Liberation Serif&quot;, serif" font-size="45.3" fill="#262626" stroke="#262626" stroke-width="0.4" textLength="33.82" lengthAdjust="spacingAndGlyphs">−</text>
<text x="1587.92" y="826.5" font-family="&quot;Liberation Serif&quot;, serif" font-size="45.3" fill="#262626" stroke="#262626" stroke-width="0.9" textLength="22.5" lengthAdjust="spacingAndGlyphs">2</text>
<text x="1748.53" y="830.12" font-family="&quot;Liberation Serif&quot;, serif" font-size="45.3" fill="#262626" stroke="#262626" stroke-width="0.4" textLength="33.82" lengthAdjust="spacingAndGlyphs">−</text>
<text x="1780.59" y="826.5" font-family="&quot;Liberation Serif&quot;, serif" font-size="45.3" fill="#262626" stroke="#262626" stroke-width="0.9" textLength="22.5" lengthAdjust="spacingAndGlyphs">1</text>
<text x="1958.25" y="826.5" font-family="&quot;Liberation Serif&quot;, serif" font-size="45.3" fill="#262626" stroke="#262626" stroke-width="0.9" textLength="22.5" lengthAdjust="spacingAndGlyphs">0</text>
<text x="2151.17" y="826.5" font-family="&quot;Liberation Serif&quot;, serif" font-size="45.3" fill="#262626" stroke="#262626" stroke-width="0.9" textLength="22.5" lengthAdjust="spacingAndGlyphs">1</text>
<text x="2345.6" y="826.5" font-family="&quot;Liberation Serif&quot;, serif" font-size="45.3" fill="#262626" stroke="#262626" stroke-width="0.9" textLength="22.5" lengthAdjust="spacingAndGlyphs">2</text>
<rect x="1996.4" y="153.4" width="453.1" height="231" fill="#fff" stroke="#262626" stroke-width="1.5"/>
<path d="M2005 194.5 L2094 194.5" fill="none" stroke="#4dbeee" stroke-width="6.8" stroke-linecap="butt" stroke-linejoin="round" stroke-dasharray="18.7 3.4 10 3.4"/>
<text font-family="&quot;Liberation Serif&quot;, serif" fill="#000"><tspan x="2102.5" y="202" font-size="43.5" textLength="22.3" lengthAdjust="spacingAndGlyphs">v</tspan><tspan x="2124.8" y="223.4" font-size="35.5" textLength="24.28" lengthAdjust="spacingAndGlyphs">R</tspan><tspan x="2149.08" y="202" font-size="43.5" font-weight="bold" textLength="25.42" lengthAdjust="spacingAndGlyphs">=</tspan><tspan x="2174.49" y="202" font-size="43.5" textLength="22.3" lengthAdjust="spacingAndGlyphs">v</tspan><tspan x="2196.79" y="223.4" font-size="35.5" textLength="42.48" lengthAdjust="spacingAndGlyphs">R0</tspan><tspan x="2239.27" y="202" font-size="43.5" textLength="30.95" lengthAdjust="spacingAndGlyphs">,a</tspan><tspan x="2270.22" y="223.4" font-size="35.5" textLength="24.28" lengthAdjust="spacingAndGlyphs">R</tspan><tspan x="2294.5" y="202" font-size="43.5" font-weight="bold" textLength="25.42" lengthAdjust="spacingAndGlyphs">=</tspan><tspan x="2319.91" y="202" font-size="43.5" textLength="19.8" lengthAdjust="spacingAndGlyphs">a</tspan><tspan x="2339.71" y="223.4" font-size="35.5" textLength="42.48" lengthAdjust="spacingAndGlyphs">R0</tspan></text>
<path d="M2005 268.4 L2094 268.4" fill="none" stroke="#7e2f8e" stroke-width="6.8" stroke-linecap="butt" stroke-linejoin="round"/>
<text font-family="&quot;Liberation Serif&quot;, serif" fill="#000"><tspan x="2102.5" y="275.9" font-size="43.5" textLength="22.34" lengthAdjust="spacingAndGlyphs">v</tspan><tspan x="2124.84" y="297.3" font-size="35.5" textLength="24.32" lengthAdjust="spacingAndGlyphs">R</tspan><tspan x="2149.16" y="275.9" font-size="43.5" font-weight="bold" textLength="25.46" lengthAdjust="spacingAndGlyphs">=</tspan><tspan x="2174.63" y="275.9" font-size="43.5" textLength="22.34" lengthAdjust="spacingAndGlyphs">v</tspan><tspan x="2196.97" y="297.3" font-size="35.5" textLength="42.56" lengthAdjust="spacingAndGlyphs">R0</tspan><tspan x="2239.53" y="275.9" font-size="43.5" textLength="31" lengthAdjust="spacingAndGlyphs">,a</tspan><tspan x="2270.53" y="297.3" font-size="35.5" textLength="24.32" lengthAdjust="spacingAndGlyphs">R</tspan><tspan x="2294.85" y="275.9" font-size="43.5" font-weight="bold" textLength="25.46" lengthAdjust="spacingAndGlyphs">=</tspan><tspan x="2320.31" y="275.9" font-size="43.5" textLength="19.83" lengthAdjust="spacingAndGlyphs">a</tspan><tspan x="2340.15" y="297.3" font-size="35.5" textLength="42.56" lengthAdjust="spacingAndGlyphs">R0</tspan><tspan x="2382.7" y="275.9" font-size="43.5" textLength="57.1" lengthAdjust="spacingAndGlyphs">/10</tspan></text>
<path d="M2005 343.4 L2094 343.4" fill="none" stroke="#ff0000" stroke-width="6.8" stroke-linecap="butt" stroke-linejoin="round" stroke-dasharray="18.9 16.6"/>
<text font-family="&quot;Liberation Serif&quot;, serif" fill="#000"><tspan x="2102.5" y="350.9" font-size="43.5" textLength="22.4" lengthAdjust="spacingAndGlyphs">v</tspan><tspan x="2124.9" y="372.3" font-size="35.5" textLength="24.39" lengthAdjust="spacingAndGlyphs">R</tspan><tspan x="2149.29" y="350.9" font-size="43.5" font-weight="bold" textLength="25.53" lengthAdjust="spacingAndGlyphs">=</tspan><tspan x="2174.82" y="350.9" font-size="43.5" textLength="22.4" lengthAdjust="spacingAndGlyphs">v</tspan><tspan x="2197.22" y="372.3" font-size="35.5" textLength="42.67" lengthAdjust="spacingAndGlyphs">R0</tspan><tspan x="2239.89" y="350.9" font-size="43.5" textLength="88.34" lengthAdjust="spacingAndGlyphs">/10,a</tspan><tspan x="2328.22" y="372.3" font-size="35.5" textLength="24.39" lengthAdjust="spacingAndGlyphs">R</tspan><tspan x="2352.61" y="350.9" font-size="43.5" font-weight="bold" textLength="25.53" lengthAdjust="spacingAndGlyphs">=</tspan><tspan x="2378.14" y="350.9" font-size="43.5" textLength="19.89" lengthAdjust="spacingAndGlyphs">a</tspan><tspan x="2398.02" y="372.3" font-size="35.5" textLength="42.67" lengthAdjust="spacingAndGlyphs">R0</tspan></text>
<text x="1715.01" y="889.5" font-family="&quot;Liberation Serif&quot;, serif" font-size="48.5" fill="#262626" textLength="506.78" lengthAdjust="spacingAndGlyphs">Synthetic aperture time (s)</text>
<text transform="translate(1367.8,562.7) rotate(-90)" font-family="&quot;Liberation Serif&quot;, serif" font-size="48" fill="#262626" textLength="319.26" lengthAdjust="spacingAndGlyphs">Phase error (rad)</text>
<text x="1893.42" y="998.5" font-family="&quot;Liberation Serif&quot;, serif" font-size="84" fill="#000" textLength="102.38" lengthAdjust="spacingAndGlyphs">(<tspan font-weight="bold">b</tspan>)</text>
<rect x="141.5" y="1098.3" width="964" height="737.7" fill="#fff"/>
<path d="M237.5 1098.3V1836 M430.5 1098.3V1836 M623.5 1098.3V1836 M816.5 1098.3V1836 M1009.5 1098.3V1836 M141.5 1836.5H1105.5 M141.5 1722.5H1105.5 M141.5 1609.5H1105.5 M141.5 1495.5H1105.5 M141.5 1382.5H1105.5 M141.5 1268.5H1105.5 M141.5 1155.5H1105.5" stroke="#dfdfdf" stroke-width="1.0" fill="none"/>
<path d="M237.5 1836.5V1826.5 M237.5 1098.5V1108.5 M430.5 1836.5V1826.5 M430.5 1098.5V1108.5 M623.5 1836.5V1826.5 M623.5 1098.5V1108.5 M816.5 1836.5V1826.5 M816.5 1098.5V1108.5 M1009.5 1836.5V1826.5 M1009.5 1098.5V1108.5 M141.5 1836.5H151.5 M1105.5 1836.5H1095.5 M141.5 1722.5H151.5 M1105.5 1722.5H1095.5 M141.5 1609.5H151.5 M1105.5 1609.5H1095.5 M141.5 1495.5H151.5 M1105.5 1495.5H1095.5 M141.5 1382.5H151.5 M1105.5 1382.5H1095.5 M141.5 1268.5H151.5 M1105.5 1268.5H1095.5 M141.5 1155.5H151.5 M1105.5 1155.5H1095.5" stroke="#262626" stroke-width="1.2" fill="none"/>
<rect x="141.5" y="1098.5" width="964" height="738" fill="none" stroke="#262626" stroke-width="1.2"/>
<path d="M141.5 1099.25 L142.46 1104.8 L143.43 1110.34 L144.39 1115.86 L145.36 1121.36 L146.32 1126.85 L147.28 1132.32 L148.25 1137.77 L149.21 1143.21 L150.18 1148.63 L151.14 1154.03 L152.1 1159.42 L153.07 1164.79 L154.03 1170.13 L155 1175.46 L155.96 1180.77 L156.92 1186.06 L157.89 1191.33 L158.85 1196.58 L159.82 1201.81 L160.78 1207.02 L161.74 1212.21 L162.71 1217.38 L163.67 1222.53 L164.64 1227.65 L165.6 1232.75 L166.56 1237.84 L167.53 1242.89 L168.49 1247.93 L169.46 1252.95 L170.42 1257.94 L171.38 1262.91 L172.35 1267.85 L173.31 1272.77 L174.28 1277.67 L175.24 1282.55 L176.2 1287.4 L177.17 1292.23 L178.13 1297.03 L179.1 1301.81 L180.06 1306.57 L181.02 1311.3 L181.99 1316 L182.95 1320.68 L183.92 1325.34 L184.88 1329.97 L185.84 1334.58 L186.81 1339.16 L187.77 1343.72 L188.74 1348.25 L189.7 1352.75 L190.66 1357.23 L191.63 1361.69 L192.59 1366.11 L193.56 1370.52 L194.52 1374.89 L195.48 1379.25 L196.45 1383.57 L197.41 1387.87 L198.38 1392.14 L199.34 1396.39 L200.3 1400.61 L201.27 1404.81 L202.23 1408.97 L203.2 1413.12 L204.16 1417.23 L205.12 1421.32 L206.09 1425.38 L207.05 1429.42 L208.02 1433.43 L208.98 1437.42 L209.94 1441.37 L210.91 1445.3 L211.87 1449.21 L212.84 1453.09 L213.8 1456.94 L214.76 1460.77 L215.73 1464.57 L216.69 1468.34 L217.66 1472.08 L218.62 1475.81 L219.58 1479.5 L220.55 1483.17 L221.51 1486.81 L222.48 1490.42 L223.44 1494.01 L224.4 1497.58 L225.37 1501.11 L226.33 1504.62 L227.3 1508.11 L228.26 1511.57 L229.22 1515 L230.19 1518.41 L231.15 1521.79 L232.12 1525.14 L233.08 1528.47 L234.04 1531.78 L235.01 1535.05 L235.97 1538.31 L236.94 1541.53 L237.9 1544.74 L238.86 1547.91 L239.83 1551.06 L240.79 1554.19 L241.76 1557.29 L242.72 1560.36 L243.68 1563.42 L244.65 1566.44 L245.61 1569.44 L246.58 1572.42 L247.54 1575.37 L248.5 1578.3 L249.47 1581.2 L250.43 1584.08 L251.4 1586.93 L252.36 1589.76 L253.32 1592.56 L254.29 1595.35 L255.25 1598.1 L256.22 1600.84 L257.18 1603.55 L258.14 1606.23 L259.11 1608.89 L260.07 1611.53 L261.04 1614.15 L262 1616.74 L262.96 1619.31 L263.93 1621.86 L264.89 1624.38 L265.86 1626.88 L266.82 1629.36 L267.78 1631.81 L268.75 1634.25 L269.71 1636.66 L270.68 1639.04 L271.64 1641.41 L272.6 1643.75 L273.57 1646.07 L274.53 1648.37 L275.5 1650.65 L276.46 1652.91 L277.42 1655.14 L278.39 1657.36 L279.35 1659.55 L280.32 1661.72 L281.28 1663.87 L282.24 1666 L283.21 1668.11 L284.17 1670.2 L285.14 1672.27 L286.1 1674.32 L287.06 1676.34 L288.03 1678.35 L288.99 1680.34 L289.96 1682.3 L290.92 1684.25 L291.88 1686.18 L292.85 1688.09 L293.81 1689.98 L294.78 1691.84 L295.74 1693.69 L296.7 1695.53 L297.67 1697.34 L298.63 1699.13 L299.6 1700.91 L300.56 1702.66 L301.52 1704.4 L302.49 1706.12 L303.45 1707.82 L304.42 1709.51 L305.38 1711.17 L306.34 1712.82 L307.31 1714.45 L308.27 1716.06 L309.24 1717.66 L310.2 1719.24 L311.16 1720.8 L312.13 1722.34 L313.09 1723.87 L314.06 1725.38 L315.02 1726.87 L315.98 1728.35 L316.95 1729.81 L317.91 1731.26 L318.88 1732.69 L319.84 1734.1 L320.8 1735.49 L321.77 1736.88 L322.73 1738.24 L323.7 1739.59 L324.66 1740.93 L325.62 1742.24 L326.59 1743.55 L327.55 1744.84 L328.52 1746.11 L329.48 1747.37 L330.44 1748.62 L331.41 1749.85 L332.37 1751.06 L333.34 1752.27 L334.3 1753.45 L335.26 1754.63 L336.23 1755.79 L337.19 1756.93 L338.16 1758.07 L339.12 1759.18 L340.08 1760.29 L341.05 1761.38 L342.01 1762.46 L342.98 1763.53 L343.94 1764.58 L344.9 1765.62 L345.87 1766.65 L346.83 1767.66 L347.8 1768.66 L348.76 1769.65 L349.72 1770.63 L350.69 1771.6 L351.65 1772.55 L352.62 1773.49 L353.58 1774.42 L354.54 1775.34 L355.51 1776.25 L356.47 1777.14 L357.44 1778.03 L358.4 1778.9 L359.36 1779.76 L360.33 1780.61 L361.29 1781.45 L362.26 1782.28 L363.22 1783.1 L364.18 1783.91 L365.15 1784.71 L366.11 1785.49 L367.08 1786.27 L368.04 1787.04 L369 1787.79 L369.97 1788.54 L370.93 1789.27 L371.9 1790 L372.86 1790.72 L373.82 1791.43 L374.79 1792.12 L375.75 1792.81 L376.72 1793.49 L377.68 1794.16 L378.64 1794.82 L379.61 1795.48 L380.57 1796.12 L381.54 1796.76 L382.5 1797.38 L383.46 1798 L384.43 1798.61 L385.39 1799.21 L386.36 1799.8 L387.32 1800.39 L388.28 1800.96 L389.25 1801.53 L390.21 1802.09 L391.18 1802.64 L392.14 1803.19 L393.1 1803.73 L394.07 1804.25 L395.03 1804.78 L396 1805.29 L396.96 1805.8 L397.92 1806.3 L398.89 1806.79 L399.85 1807.28 L400.82 1807.76 L401.78 1808.23 L402.74 1808.69 L403.71 1809.15 L404.67 1809.6 L405.64 1810.05 L406.6 1810.49 L407.56 1810.92 L408.53 1811.35 L409.49 1811.77 L410.46 1812.18 L411.42 1812.59 L412.38 1812.99 L413.35 1813.39 L414.31 1813.77 L415.28 1814.16 L416.24 1814.54 L417.2 1814.91 L418.17 1815.28 L419.13 1815.64 L420.1 1815.99 L421.06 1816.34 L422.02 1816.69 L422.99 1817.03 L423.95 1817.36 L424.92 1817.69 L425.88 1818.02 L426.84 1818.34 L427.81 1818.65 L428.77 1818.96 L429.74 1819.27 L430.7 1819.57 L431.66 1819.86 L432.63 1820.15 L433.59 1820.44 L434.56 1820.72 L435.52 1821 L436.48 1821.27 L437.45 1821.54 L438.41 1821.81 L439.38 1822.07 L440.34 1822.33 L441.3 1822.58 L442.27 1822.83 L443.23 1823.07 L444.2 1823.31 L445.16 1823.55 L446.12 1823.78 L447.09 1824.01 L448.05 1824.23 L449.02 1824.46 L449.98 1824.67 L450.94 1824.89 L451.91 1825.1 L452.87 1825.31 L453.84 1825.51 L454.8 1825.71 L455.76 1825.91 L456.73 1826.11 L457.69 1826.3 L458.66 1826.48 L459.62 1826.67 L460.58 1826.85 L461.55 1827.03 L462.51 1827.21 L463.48 1827.38 L464.44 1827.55 L465.4 1827.72 L466.37 1827.88 L467.33 1828.04 L468.3 1828.2 L469.26 1828.36 L470.22 1828.51 L471.19 1828.66 L472.15 1828.81 L473.12 1828.96 L474.08 1829.1 L475.04 1829.24 L476.01 1829.38 L476.97 1829.51 L477.94 1829.65 L478.9 1829.78 L479.86 1829.91 L480.83 1830.04 L481.79 1830.16 L482.76 1830.28 L483.72 1830.4 L484.68 1830.52 L485.65 1830.64 L486.61 1830.75 L487.58 1830.86 L488.54 1830.97 L489.5 1831.08 L490.47 1831.19 L491.43 1831.29 L492.4 1831.39 L493.36 1831.5 L494.32 1831.59 L495.29 1831.69 L496.25 1831.79 L497.22 1831.88 L498.18 1831.97 L499.14 1832.06 L500.11 1832.15 L501.07 1832.24 L502.04 1832.32 L503 1832.41 L503.96 1832.49 L504.93 1832.57 L505.89 1832.65 L506.86 1832.73 L507.82 1832.8 L508.78 1832.88 L509.75 1832.95 L510.71 1833.02 L511.68 1833.1 L512.64 1833.16 L513.6 1833.23 L514.57 1833.3 L515.53 1833.37 L516.5 1833.43 L517.46 1833.49 L518.42 1833.55 L519.39 1833.62 L520.35 1833.67 L521.32 1833.73 L522.28 1833.79 L523.24 1833.85 L524.21 1833.9 L525.17 1833.96 L526.14 1834.01 L527.1 1834.06 L528.06 1834.11 L529.03 1834.16 L529.99 1834.21 L530.96 1834.26 L531.92 1834.3 L532.88 1834.35 L533.85 1834.4 L534.81 1834.44 L535.78 1834.48 L536.74 1834.53 L537.7 1834.57 L538.67 1834.61 L539.63 1834.65 L540.6 1834.69 L541.56 1834.72 L542.52 1834.76 L543.49 1834.8 L544.45 1834.83 L545.42 1834.87 L546.38 1834.9 L547.34 1834.94 L548.31 1834.97 L549.27 1835 L550.24 1835.03 L551.2 1835.06 L552.16 1835.09 L553.13 1835.12 L554.09 1835.15 L555.06 1835.18 L556.02 1835.21 L556.98 1835.23 L557.95 1835.26 L558.91 1835.29 L559.88 1835.31 L560.84 1835.33 L561.8 1835.36 L562.77 1835.38 L563.73 1835.4 L564.7 1835.43 L565.66 1835.45 L566.62 1835.47 L567.59 1835.49 L568.55 1835.51 L569.52 1835.53 L570.48 1835.55 L571.44 1835.57 L572.41 1835.58 L573.37 1835.6 L574.34 1835.62 L575.3 1835.63 L576.26 1835.65 L577.23 1835.67 L578.19 1835.68 L579.16 1835.7 L580.12 1835.71 L581.08 1835.73 L582.05 1835.74 L583.01 1835.75 L583.98 1835.76 L584.94 1835.78 L585.9 1835.79 L586.87 1835.8 L587.83 1835.81 L588.8 1835.82 L589.76 1835.83 L590.72 1835.84 L591.69 1835.85 L592.65 1835.86 L593.62 1835.87 L594.58 1835.88 L595.54 1835.89 L596.51 1835.9 L597.47 1835.9 L598.44 1835.91 L599.4 1835.92 L600.36 1835.92 L601.33 1835.93 L602.29 1835.94 L603.26 1835.94 L604.22 1835.95 L605.18 1835.95 L606.15 1835.96 L607.11 1835.96 L608.08 1835.97 L609.04 1835.97 L610 1835.98 L610.97 1835.98 L611.93 1835.98 L612.9 1835.98 L613.86 1835.99 L614.82 1835.99 L615.79 1835.99 L616.75 1835.99 L617.72 1836 L618.68 1836 L619.64 1836 L620.61 1836 L621.57 1836 L622.54 1836 L623.5 1836 L624.46 1836 L625.43 1836 L626.39 1836 L627.36 1836 L628.32 1836 L629.28 1836 L630.25 1835.99 L631.21 1835.99 L632.18 1835.99 L633.14 1835.99 L634.1 1835.99 L635.07 1835.98 L636.03 1835.98 L637 1835.98 L637.96 1835.97 L638.92 1835.97 L639.89 1835.97 L640.85 1835.96 L641.82 1835.96 L642.78 1835.95 L643.74 1835.95 L644.71 1835.94 L645.67 1835.94 L646.64 1835.93 L647.6 1835.93 L648.56 1835.92 L649.53 1835.91 L650.49 1835.91 L651.46 1835.9 L652.42 1835.89 L653.38 1835.88 L654.35 1835.88 L655.31 1835.87 L656.28 1835.86 L657.24 1835.85 L658.2 1835.84 L659.17 1835.83 L660.13 1835.83 L661.1 1835.82 L662.06 1835.81 L663.02 1835.8 L663.99 1835.79 L664.95 1835.77 L665.92 1835.76 L666.88 1835.75 L667.84 1835.74 L668.81 1835.73 L669.77 1835.72 L670.74 1835.7 L671.7 1835.69 L672.66 1835.68 L673.63 1835.66 L674.59 1835.65 L675.56 1835.64 L676.52 1835.62 L677.48 1835.61 L678.45 1835.59 L679.41 1835.57 L680.38 1835.56 L681.34 1835.54 L682.3 1835.52 L683.27 1835.51 L684.23 1835.49 L685.2 1835.47 L686.16 1835.45 L687.12 1835.43 L688.09 1835.41 L689.05 1835.39 L690.02 1835.37 L690.98 1835.35 L691.94 1835.33 L692.91 1835.31 L693.87 1835.29 L694.84 1835.26 L695.8 1835.24 L696.76 1835.21 L697.73 1835.19 L698.69 1835.16 L699.66 1835.14 L700.62 1835.11 L701.58 1835.08 L702.55 1835.06 L703.51 1835.03 L704.48 1835 L705.44 1834.97 L706.4 1834.94 L707.37 1834.91 L708.33 1834.87 L709.3 1834.84 L710.26 1834.81 L711.22 1834.77 L712.19 1834.74 L713.15 1834.7 L714.12 1834.67 L715.08 1834.63 L716.04 1834.59 L717.01 1834.55 L717.97 1834.51 L718.94 1834.47 L719.9 1834.43 L720.86 1834.38 L721.83 1834.34 L722.79 1834.3 L723.76 1834.25 L724.72 1834.2 L725.68 1834.16 L726.65 1834.11 L727.61 1834.06 L728.58 1834 L729.54 1833.95 L730.5 1833.9 L731.47 1833.84 L732.43 1833.79 L733.4 1833.73 L734.36 1833.67 L735.32 1833.61 L736.29 1833.55 L737.25 1833.49 L738.22 1833.42 L739.18 1833.36 L740.14 1833.29 L741.11 1833.22 L742.07 1833.15 L743.04 1833.08 L744 1833.01 L744.96 1832.94 L745.93 1832.86 L746.89 1832.78 L747.86 1832.7 L748.82 1832.62 L749.78 1832.54 L750.75 1832.45 L751.71 1832.37 L752.68 1832.28 L753.64 1832.19 L754.6 1832.1 L755.57 1832 L756.53 1831.91 L757.5 1831.81 L758.46 1831.71 L759.42 1831.61 L760.39 1831.5 L761.35 1831.4 L762.32 1831.29 L763.28 1831.18 L764.24 1831.06 L765.21 1830.95 L766.17 1830.83 L767.14 1830.71 L768.1 1830.59 L769.06 1830.46 L770.03 1830.33 L770.99 1830.2 L771.96 1830.07 L772.92 1829.93 L773.88 1829.79 L774.85 1829.65 L775.81 1829.51 L776.78 1829.36 L777.74 1829.21 L778.7 1829.06 L779.67 1828.9 L780.63 1828.74 L781.6 1828.58 L782.56 1828.41 L783.52 1828.25 L784.49 1828.07 L785.45 1827.9 L786.42 1827.72 L787.38 1827.54 L788.34 1827.35 L789.31 1827.16 L790.27 1826.97 L791.24 1826.77 L792.2 1826.57 L793.16 1826.37 L794.13 1826.16 L795.09 1825.95 L796.06 1825.73 L797.02 1825.51 L797.98 1825.29 L798.95 1825.06 L799.91 1824.82 L800.88 1824.59 L801.84 1824.35 L802.8 1824.1 L803.77 1823.85 L804.73 1823.6 L805.7 1823.34 L806.66 1823.07 L807.62 1822.8 L808.59 1822.53 L809.55 1822.25 L810.52 1821.97 L811.48 1821.68 L812.44 1821.38 L813.41 1821.08 L814.37 1820.78 L815.34 1820.47 L816.3 1820.16 L817.26 1819.83 L818.23 1819.51 L819.19 1819.18 L820.16 1818.84 L821.12 1818.5 L822.08 1818.15 L823.05 1817.79 L824.01 1817.43 L824.98 1817.06 L825.94 1816.69 L826.9 1816.31 L827.87 1815.92 L828.83 1815.53 L829.8 1815.13 L830.76 1814.72 L831.72 1814.31 L832.69 1813.89 L833.65 1813.46 L834.62 1813.03 L835.58 1812.59 L836.54 1812.14 L837.51 1811.69 L838.47 1811.22 L839.44 1810.75 L840.4 1810.28 L841.36 1809.79 L842.33 1809.3 L843.29 1808.8 L844.26 1808.29 L845.22 1807.77 L846.18 1807.25 L847.15 1806.71 L848.11 1806.17 L849.08 1805.62 L850.04 1805.06 L851 1804.5 L851.97 1803.92 L852.93 1803.34 L853.9 1802.74 L854.86 1802.14 L855.82 1801.53 L856.79 1800.91 L857.75 1800.28 L858.72 1799.64 L859.68 1798.99 L860.64 1798.33 L861.61 1797.66 L862.57 1796.98 L863.54 1796.29 L864.5 1795.59 L865.46 1794.89 L866.43 1794.17 L867.39 1793.44 L868.36 1792.7 L869.32 1791.95 L870.28 1791.18 L871.25 1790.41 L872.21 1789.63 L873.18 1788.83 L874.14 1788.03 L875.1 1787.21 L876.07 1786.38 L877.03 1785.54 L878 1784.69 L878.96 1783.83 L879.92 1782.95 L880.89 1782.06 L881.85 1781.16 L882.82 1780.25 L883.78 1779.33 L884.74 1778.39 L885.71 1777.44 L886.67 1776.48 L887.64 1775.5 L888.6 1774.51 L889.56 1773.51 L890.53 1772.49 L891.49 1771.47 L892.46 1770.42 L893.42 1769.37 L894.38 1768.3 L895.35 1767.21 L896.31 1766.12 L897.28 1765.01 L898.24 1763.88 L899.2 1762.74 L900.17 1761.58 L901.13 1760.41 L902.1 1759.23 L903.06 1758.03 L904.02 1756.82 L904.99 1755.59 L905.95 1754.34 L906.92 1753.08 L907.88 1751.81 L908.84 1750.51 L909.81 1749.21 L910.77 1747.88 L911.74 1746.54 L912.7 1745.19 L913.66 1743.81 L914.63 1742.43 L915.59 1741.02 L916.56 1739.6 L917.52 1738.16 L918.48 1736.7 L919.45 1735.23 L920.41 1733.74 L921.38 1732.23 L922.34 1730.71 L923.3 1729.16 L924.27 1727.6 L925.23 1726.02 L926.2 1724.42 L927.16 1722.81 L928.12 1721.17 L929.09 1719.52 L930.05 1717.85 L931.02 1716.16 L931.98 1714.45 L932.94 1712.73 L933.91 1710.98 L934.87 1709.21 L935.84 1707.43 L936.8 1705.62 L937.76 1703.8 L938.73 1701.95 L939.69 1700.09 L940.66 1698.2 L941.62 1696.3 L942.58 1694.37 L943.55 1692.43 L944.51 1690.46 L945.48 1688.48 L946.44 1686.47 L947.4 1684.44 L948.37 1682.39 L949.33 1680.32 L950.3 1678.23 L951.26 1676.11 L952.22 1673.98 L953.19 1671.82 L954.15 1669.64 L955.12 1667.44 L956.08 1665.22 L957.04 1662.97 L958.01 1660.71 L958.97 1658.42 L959.94 1656.11 L960.9 1653.77 L961.86 1651.41 L962.83 1649.03 L963.79 1646.63 L964.76 1644.2 L965.72 1641.75 L966.68 1639.28 L967.65 1636.78 L968.61 1634.26 L969.58 1631.72 L970.54 1629.15 L971.5 1626.56 L972.47 1623.94 L973.43 1621.3 L974.4 1618.64 L975.36 1615.95 L976.32 1613.24 L977.29 1610.5 L978.25 1607.74 L979.22 1604.95 L980.18 1602.14 L981.14 1599.31 L982.11 1596.45 L983.07 1593.56 L984.04 1590.65 L985 1587.71 L985.96 1584.75 L986.93 1581.77 L987.89 1578.75 L988.86 1575.72 L989.82 1572.65 L990.78 1569.56 L991.75 1566.45 L992.71 1563.31 L993.68 1560.14 L994.64 1556.95 L995.6 1553.73 L996.57 1550.49 L997.53 1547.21 L998.5 1543.92 L999.46 1540.59 L1000.42 1537.25 L1001.39 1533.87 L1002.35 1530.47 L1003.32 1527.04 L1004.28 1523.58 L1005.24 1520.1 L1006.21 1516.59 L1007.17 1513.06 L1008.14 1509.5 L1009.1 1505.91 L1010.06 1502.29 L1011.03 1498.65 L1011.99 1494.99 L1012.96 1491.29 L1013.92 1487.57 L1014.88 1483.82 L1015.85 1480.04 L1016.81 1476.24 L1017.78 1472.41 L1018.74 1468.56 L1019.7 1464.68 L1020.67 1460.77 L1021.63 1456.83 L1022.6 1452.87 L1023.56 1448.88 L1024.52 1444.86 L1025.49 1440.82 L1026.45 1436.75 L1027.42 1432.65 L1028.38 1428.53 L1029.34 1424.38 L1030.31 1420.21 L1031.27 1416 L1032.24 1411.77 L1033.2 1407.52 L1034.16 1403.24 L1035.13 1398.93 L1036.09 1394.6 L1037.06 1390.24 L1038.02 1385.85 L1038.98 1381.44 L1039.95 1377 L1040.91 1372.54 L1041.88 1368.05 L1042.84 1363.53 L1043.8 1358.99 L1044.77 1354.43 L1045.73 1349.84 L1046.7 1345.22 L1047.66 1340.58 L1048.62 1335.91 L1049.59 1331.22 L1050.55 1326.51 L1051.52 1321.77 L1052.48 1317 L1053.44 1312.22 L1054.41 1307.4 L1055.37 1302.57 L1056.34 1297.71 L1057.3 1292.83 L1058.26 1287.92 L1059.23 1282.99 L1060.19 1278.04 L1061.16 1273.06 L1062.12 1268.07 L1063.08 1263.05 L1064.05 1258.01 L1065.01 1252.94 L1065.98 1247.86 L1066.94 1242.75 L1067.9 1237.62 L1068.87 1232.47 L1069.83 1227.31 L1070.8 1222.12 L1071.76 1216.91 L1072.72 1211.68 L1073.69 1206.43 L1074.65 1201.16 L1075.62 1195.87 L1076.58 1190.57 L1077.54 1185.25 L1078.51 1179.9 L1079.47 1174.55 L1080.44 1169.17 L1081.4 1163.78 L1082.36 1158.37 L1083.33 1152.94 L1084.29 1147.5 L1085.26 1142.04 L1086.22 1136.57 L1087.18 1131.08 L1088.15 1125.58 L1089.11 1120.06 L1090.08 1114.53 L1091.04 1108.99 L1092 1103.44 L1092.89 1098.3" fill="none" stroke="#4dbeee" stroke-width="6.8" stroke-linecap="butt" stroke-linejoin="round" stroke-dasharray="18.7 3.4 10 3.4"/>
<path d="M141.5 1829.05 L142.71 1829.12 L143.91 1829.18 L145.11 1829.25 L146.32 1829.32 L147.53 1829.38 L148.73 1829.45 L149.94 1829.51 L151.14 1829.58 L152.34 1829.64 L153.55 1829.71 L154.76 1829.77 L155.96 1829.83 L157.16 1829.9 L158.37 1829.96 L159.57 1830.02 L160.78 1830.08 L161.99 1830.14 L163.19 1830.2 L164.39 1830.26 L165.6 1830.32 L166.81 1830.38 L168.01 1830.44 L169.21 1830.49 L170.42 1830.55 L171.62 1830.61 L172.83 1830.66 L174.04 1830.72 L175.24 1830.77 L176.44 1830.83 L177.65 1830.88 L178.86 1830.94 L180.06 1830.99 L181.26 1831.05 L182.47 1831.1 L183.68 1831.15 L184.88 1831.2 L186.09 1831.25 L187.29 1831.31 L188.49 1831.36 L189.7 1831.41 L190.91 1831.46 L192.11 1831.51 L193.31 1831.56 L194.52 1831.61 L195.72 1831.65 L196.93 1831.7 L198.14 1831.75 L199.34 1831.8 L200.54 1831.84 L201.75 1831.89 L202.96 1831.94 L204.16 1831.98 L205.36 1832.03 L206.57 1832.07 L207.78 1832.12 L208.98 1832.16 L210.19 1832.2 L211.39 1832.25 L212.59 1832.29 L213.8 1832.33 L215 1832.38 L216.21 1832.42 L217.41 1832.46 L218.62 1832.5 L219.82 1832.54 L221.03 1832.58 L222.24 1832.62 L223.44 1832.66 L224.64 1832.7 L225.85 1832.74 L227.06 1832.78 L228.26 1832.82 L229.46 1832.86 L230.67 1832.89 L231.88 1832.93 L233.08 1832.97 L234.29 1833 L235.49 1833.04 L236.69 1833.08 L237.9 1833.11 L239.11 1833.15 L240.31 1833.18 L241.52 1833.22 L242.72 1833.25 L243.93 1833.29 L245.13 1833.32 L246.34 1833.35 L247.54 1833.39 L248.75 1833.42 L249.95 1833.45 L251.16 1833.49 L252.36 1833.52 L253.56 1833.55 L254.77 1833.58 L255.97 1833.61 L257.18 1833.64 L258.39 1833.67 L259.59 1833.7 L260.79 1833.73 L262 1833.76 L263.21 1833.79 L264.41 1833.82 L265.62 1833.85 L266.82 1833.88 L268.02 1833.91 L269.23 1833.93 L270.44 1833.96 L271.64 1833.99 L272.84 1834.02 L274.05 1834.04 L275.25 1834.07 L276.46 1834.1 L277.67 1834.12 L278.87 1834.15 L280.07 1834.17 L281.28 1834.2 L282.49 1834.22 L283.69 1834.25 L284.89 1834.27 L286.1 1834.3 L287.31 1834.32 L288.51 1834.34 L289.72 1834.37 L290.92 1834.39 L292.12 1834.41 L293.33 1834.44 L294.54 1834.46 L295.74 1834.48 L296.94 1834.5 L298.15 1834.52 L299.36 1834.55 L300.56 1834.57 L301.76 1834.59 L302.97 1834.61 L304.18 1834.63 L305.38 1834.65 L306.59 1834.67 L307.79 1834.69 L309 1834.71 L310.2 1834.73 L311.41 1834.75 L312.61 1834.77 L313.82 1834.79 L315.02 1834.8 L316.23 1834.82 L317.43 1834.84 L318.63 1834.86 L319.84 1834.88 L321.04 1834.89 L322.25 1834.91 L323.46 1834.93 L324.66 1834.95 L325.87 1834.96 L327.07 1834.98 L328.27 1835 L329.48 1835.01 L330.69 1835.03 L331.89 1835.04 L333.09 1835.06 L334.3 1835.07 L335.5 1835.09 L336.71 1835.1 L337.92 1835.12 L339.12 1835.13 L340.32 1835.15 L341.53 1835.16 L342.74 1835.18 L343.94 1835.19 L345.14 1835.2 L346.35 1835.22 L347.56 1835.23 L348.76 1835.24 L349.97 1835.26 L351.17 1835.27 L352.38 1835.28 L353.58 1835.3 L354.78 1835.31 L355.99 1835.32 L357.2 1835.33 L358.4 1835.34 L359.61 1835.36 L360.81 1835.37 L362.01 1835.38 L363.22 1835.39 L364.43 1835.4 L365.63 1835.41 L366.83 1835.42 L368.04 1835.43 L369.25 1835.44 L370.45 1835.45 L371.66 1835.46 L372.86 1835.47 L374.07 1835.48 L375.27 1835.49 L376.48 1835.5 L377.68 1835.51 L378.88 1835.52 L380.09 1835.53 L381.3 1835.54 L382.5 1835.55 L383.71 1835.56 L384.91 1835.57 L386.12 1835.58 L387.32 1835.59 L388.52 1835.59 L389.73 1835.6 L390.94 1835.61 L392.14 1835.62 L393.35 1835.63 L394.55 1835.63 L395.76 1835.64 L396.96 1835.65 L398.16 1835.66 L399.37 1835.66 L400.57 1835.67 L401.78 1835.68 L402.99 1835.68 L404.19 1835.69 L405.4 1835.7 L406.6 1835.7 L407.81 1835.71 L409.01 1835.72 L410.21 1835.72 L411.42 1835.73 L412.62 1835.74 L413.83 1835.74 L415.04 1835.75 L416.24 1835.75 L417.44 1835.76 L418.65 1835.76 L419.86 1835.77 L421.06 1835.77 L422.26 1835.78 L423.47 1835.79 L424.68 1835.79 L425.88 1835.8 L427.09 1835.8 L428.29 1835.81 L429.5 1835.81 L430.7 1835.81 L431.91 1835.82 L433.11 1835.82 L434.31 1835.83 L435.52 1835.83 L436.73 1835.84 L437.93 1835.84 L439.14 1835.84 L440.34 1835.85 L441.55 1835.85 L442.75 1835.86 L443.96 1835.86 L445.16 1835.86 L446.37 1835.87 L447.57 1835.87 L448.77 1835.87 L449.98 1835.88 L451.19 1835.88 L452.39 1835.88 L453.6 1835.89 L454.8 1835.89 L456.01 1835.89 L457.21 1835.9 L458.41 1835.9 L459.62 1835.9 L460.82 1835.91 L462.03 1835.91 L463.24 1835.91 L464.44 1835.91 L465.65 1835.92 L466.85 1835.92 L468.06 1835.92 L469.26 1835.92 L470.46 1835.93 L471.67 1835.93 L472.88 1835.93 L474.08 1835.93 L475.29 1835.93 L476.49 1835.94 L477.69 1835.94 L478.9 1835.94 L480.11 1835.94 L481.31 1835.94 L482.51 1835.95 L483.72 1835.95 L484.93 1835.95 L486.13 1835.95 L487.34 1835.95 L488.54 1835.96 L489.75 1835.96 L490.95 1835.96 L492.16 1835.96 L493.36 1835.96 L494.56 1835.96 L495.77 1835.96 L496.98 1835.97 L498.18 1835.97 L499.39 1835.97 L500.59 1835.97 L501.8 1835.97 L503 1835.97 L504.21 1835.97 L505.41 1835.97 L506.62 1835.97 L507.82 1835.98 L509.02 1835.98 L510.23 1835.98 L511.44 1835.98 L512.64 1835.98 L513.85 1835.98 L515.05 1835.98 L516.26 1835.98 L517.46 1835.98 L518.66 1835.98 L519.87 1835.98 L521.08 1835.99 L522.28 1835.99 L523.49 1835.99 L524.69 1835.99 L525.89 1835.99 L527.1 1835.99 L528.31 1835.99 L529.51 1835.99 L530.72 1835.99 L531.92 1835.99 L533.12 1835.99 L534.33 1835.99 L535.54 1835.99 L536.74 1835.99 L537.94 1835.99 L539.15 1835.99 L540.36 1835.99 L541.56 1835.99 L542.77 1835.99 L543.97 1835.99 L545.17 1835.99 L546.38 1836 L547.59 1836 L548.79 1836 L549.99 1836 L551.2 1836 L552.4 1836 L553.61 1836 L554.82 1836 L556.02 1836 L557.23 1836 L558.43 1836 L559.63 1836 L560.84 1836 L562.04 1836 L563.25 1836 L564.46 1836 L565.66 1836 L566.87 1836 L568.07 1836 L569.27 1836 L570.48 1836 L571.69 1836 L572.89 1836 L574.1 1836 L575.3 1836 L576.51 1836 L577.71 1836 L578.91 1836 L580.12 1836 L581.33 1836 L582.53 1836 L583.74 1836 L584.94 1836 L586.14 1836 L587.35 1836 L588.56 1836 L589.76 1836 L590.97 1836 L592.17 1836 L593.38 1836 L594.58 1836 L595.79 1836 L596.99 1836 L598.19 1836 L599.4 1836 L600.61 1836 L601.81 1836 L603.02 1836 L604.22 1836 L605.42 1836 L606.63 1836 L607.84 1836 L609.04 1836 L610.25 1836 L611.45 1836 L612.65 1836 L613.86 1836 L615.07 1836 L616.27 1836 L617.48 1836 L618.68 1836 L619.88 1836 L621.09 1836 L622.3 1836 L623.5 1836 L624.7 1836 L625.91 1836 L627.12 1836 L628.32 1836 L629.52 1836 L630.73 1836 L631.94 1836 L633.14 1836 L634.35 1836 L635.55 1836 L636.76 1836 L637.96 1836 L639.17 1836 L640.37 1836 L641.58 1836 L642.78 1836 L643.99 1836 L645.19 1836 L646.39 1836 L647.6 1836 L648.81 1836 L650.01 1836 L651.22 1836 L652.42 1836 L653.62 1836 L654.83 1836 L656.04 1836 L657.24 1836 L658.45 1836 L659.65 1836 L660.86 1836 L662.06 1836 L663.26 1836 L664.47 1836 L665.67 1836 L666.88 1836 L668.09 1836 L669.29 1836 L670.5 1836 L671.7 1836 L672.9 1836 L674.11 1836 L675.32 1836 L676.52 1836 L677.73 1836 L678.93 1836 L680.14 1836 L681.34 1836 L682.55 1836 L683.75 1836 L684.95 1836 L686.16 1836 L687.37 1836 L688.57 1836 L689.77 1836 L690.98 1836 L692.19 1836 L693.39 1836 L694.6 1836 L695.8 1836 L697 1836 L698.21 1836 L699.42 1836 L700.62 1836 L701.83 1835.99 L703.03 1835.99 L704.24 1835.99 L705.44 1835.99 L706.65 1835.99 L707.85 1835.99 L709.05 1835.99 L710.26 1835.99 L711.47 1835.99 L712.67 1835.99 L713.88 1835.99 L715.08 1835.99 L716.29 1835.99 L717.49 1835.99 L718.7 1835.99 L719.9 1835.99 L721.11 1835.99 L722.31 1835.99 L723.51 1835.99 L724.72 1835.99 L725.92 1835.98 L727.13 1835.98 L728.34 1835.98 L729.54 1835.98 L730.75 1835.98 L731.95 1835.98 L733.15 1835.98 L734.36 1835.98 L735.57 1835.98 L736.77 1835.98 L737.98 1835.98 L739.18 1835.97 L740.39 1835.97 L741.59 1835.97 L742.8 1835.97 L744 1835.97 L745.2 1835.97 L746.41 1835.97 L747.62 1835.97 L748.82 1835.97 L750.02 1835.96 L751.23 1835.96 L752.44 1835.96 L753.64 1835.96 L754.85 1835.96 L756.05 1835.96 L757.25 1835.96 L758.46 1835.95 L759.67 1835.95 L760.87 1835.95 L762.08 1835.95 L763.28 1835.95 L764.49 1835.94 L765.69 1835.94 L766.9 1835.94 L768.1 1835.94 L769.3 1835.94 L770.51 1835.93 L771.72 1835.93 L772.92 1835.93 L774.12 1835.93 L775.33 1835.93 L776.54 1835.92 L777.74 1835.92 L778.95 1835.92 L780.15 1835.92 L781.36 1835.91 L782.56 1835.91 L783.76 1835.91 L784.97 1835.9 L786.17 1835.9 L787.38 1835.9 L788.59 1835.9 L789.79 1835.89 L791 1835.89 L792.2 1835.89 L793.4 1835.88 L794.61 1835.88 L795.82 1835.88 L797.02 1835.87 L798.23 1835.87 L799.43 1835.86 L800.64 1835.86 L801.84 1835.86 L803.05 1835.85 L804.25 1835.85 L805.45 1835.85 L806.66 1835.84 L807.87 1835.84 L809.07 1835.83 L810.27 1835.83 L811.48 1835.82 L812.69 1835.82 L813.89 1835.81 L815.1 1835.81 L816.3 1835.8 L817.5 1835.8 L818.71 1835.79 L819.92 1835.79 L821.12 1835.78 L822.33 1835.78 L823.53 1835.77 L824.74 1835.77 L825.94 1835.76 L827.15 1835.76 L828.35 1835.75 L829.55 1835.74 L830.76 1835.74 L831.97 1835.73 L833.17 1835.73 L834.38 1835.72 L835.58 1835.71 L836.79 1835.71 L837.99 1835.7 L839.2 1835.69 L840.4 1835.69 L841.61 1835.68 L842.81 1835.67 L844.01 1835.66 L845.22 1835.66 L846.42 1835.65 L847.63 1835.64 L848.84 1835.63 L850.04 1835.63 L851.25 1835.62 L852.45 1835.61 L853.65 1835.6 L854.86 1835.59 L856.07 1835.58 L857.27 1835.58 L858.48 1835.57 L859.68 1835.56 L860.89 1835.55 L862.09 1835.54 L863.3 1835.53 L864.5 1835.52 L865.7 1835.51 L866.91 1835.5 L868.12 1835.49 L869.32 1835.48 L870.52 1835.47 L871.73 1835.46 L872.94 1835.45 L874.14 1835.44 L875.35 1835.43 L876.55 1835.42 L877.75 1835.4 L878.96 1835.39 L880.17 1835.38 L881.37 1835.37 L882.58 1835.36 L883.78 1835.35 L884.99 1835.33 L886.19 1835.32 L887.4 1835.31 L888.6 1835.3 L889.8 1835.28 L891.01 1835.27 L892.22 1835.26 L893.42 1835.24 L894.62 1835.23 L895.83 1835.21 L897.04 1835.2 L898.24 1835.19 L899.45 1835.17 L900.65 1835.16 L901.86 1835.14 L903.06 1835.13 L904.26 1835.11 L905.47 1835.1 L906.67 1835.08 L907.88 1835.06 L909.09 1835.05 L910.29 1835.03 L911.5 1835.02 L912.7 1835 L913.91 1834.98 L915.11 1834.96 L916.31 1834.95 L917.52 1834.93 L918.73 1834.91 L919.93 1834.89 L921.14 1834.88 L922.34 1834.86 L923.55 1834.84 L924.75 1834.82 L925.96 1834.8 L927.16 1834.78 L928.36 1834.76 L929.57 1834.74 L930.77 1834.72 L931.98 1834.7 L933.19 1834.68 L934.39 1834.66 L935.6 1834.64 L936.8 1834.62 L938.01 1834.6 L939.21 1834.57 L940.41 1834.55 L941.62 1834.53 L942.83 1834.51 L944.03 1834.48 L945.24 1834.46 L946.44 1834.44 L947.65 1834.41 L948.85 1834.39 L950.06 1834.36 L951.26 1834.34 L952.46 1834.32 L953.67 1834.29 L954.88 1834.27 L956.08 1834.24 L957.29 1834.21 L958.49 1834.19 L959.7 1834.16 L960.9 1834.13 L962.11 1834.11 L963.31 1834.08 L964.51 1834.05 L965.72 1834.02 L966.92 1834 L968.13 1833.97 L969.34 1833.94 L970.54 1833.91 L971.75 1833.88 L972.95 1833.85 L974.16 1833.82 L975.36 1833.79 L976.56 1833.76 L977.77 1833.73 L978.98 1833.7 L980.18 1833.66 L981.39 1833.63 L982.59 1833.6 L983.8 1833.57 L985 1833.53 L986.21 1833.5 L987.41 1833.47 L988.61 1833.43 L989.82 1833.4 L991.02 1833.36 L992.23 1833.33 L993.44 1833.29 L994.64 1833.26 L995.85 1833.22 L997.05 1833.18 L998.26 1833.15 L999.46 1833.11 L1000.66 1833.07 L1001.87 1833.03 L1003.08 1832.99 L1004.28 1832.96 L1005.49 1832.92 L1006.69 1832.88 L1007.9 1832.84 L1009.1 1832.8 L1010.31 1832.76 L1011.51 1832.72 L1012.71 1832.67 L1013.92 1832.63 L1015.12 1832.59 L1016.33 1832.55 L1017.54 1832.5 L1018.74 1832.46 L1019.95 1832.42 L1021.15 1832.37 L1022.36 1832.33 L1023.56 1832.28 L1024.76 1832.24 L1025.97 1832.19 L1027.17 1832.14 L1028.38 1832.1 L1029.59 1832.05 L1030.79 1832 L1032 1831.95 L1033.2 1831.91 L1034.41 1831.86 L1035.61 1831.81 L1036.82 1831.76 L1038.02 1831.71 L1039.22 1831.66 L1040.43 1831.6 L1041.64 1831.55 L1042.84 1831.5 L1044.05 1831.45 L1045.25 1831.4 L1046.45 1831.34 L1047.66 1831.29 L1048.86 1831.23 L1050.07 1831.18 L1051.28 1831.12 L1052.48 1831.07 L1053.68 1831.01 L1054.89 1830.95 L1056.1 1830.9 L1057.3 1830.84 L1058.51 1830.78 L1059.71 1830.72 L1060.91 1830.66 L1062.12 1830.6 L1063.33 1830.54 L1064.53 1830.48 L1065.74 1830.42 L1066.94 1830.36 L1068.14 1830.29 L1069.35 1830.23 L1070.56 1830.17 L1071.76 1830.1 L1072.97 1830.04 L1074.17 1829.97 L1075.38 1829.91 L1076.58 1829.84 L1077.79 1829.78 L1078.99 1829.71 L1080.2 1829.64 L1081.4 1829.57 L1082.61 1829.5 L1083.81 1829.43 L1085.02 1829.36 L1086.22 1829.29 L1087.42 1829.22 L1088.63 1829.15 L1089.84 1829.08 L1091.04 1829 L1092.25 1828.93 L1093.45 1828.86 L1094.66 1828.78 L1095.86 1828.71 L1097.07 1828.63 L1098.27 1828.56 L1099.47 1828.48 L1100.68 1828.4 L1101.89 1828.32 L1103.09 1828.24 L1104.3 1828.16 L1105.5 1828.08" fill="none" stroke="#7e2f8e" stroke-width="6.8" stroke-linecap="butt" stroke-linejoin="round"/>
<path d="M141.5 1164.53 L142.46 1169.47 L143.43 1174.39 L144.39 1179.3 L145.36 1184.2 L146.32 1189.09 L147.28 1193.96 L148.25 1198.83 L149.21 1203.67 L150.18 1208.51 L151.14 1213.33 L152.1 1218.14 L153.07 1222.93 L154.03 1227.71 L155 1232.47 L155.96 1237.22 L156.92 1241.95 L157.89 1246.67 L158.85 1251.37 L159.82 1256.05 L160.78 1260.72 L161.74 1265.37 L162.71 1270 L163.67 1274.62 L164.64 1279.22 L165.6 1283.8 L166.56 1288.36 L167.53 1292.9 L168.49 1297.43 L169.46 1301.94 L170.42 1306.42 L171.38 1310.89 L172.35 1315.34 L173.31 1319.77 L174.28 1324.18 L175.24 1328.58 L176.2 1332.95 L177.17 1337.3 L178.13 1341.63 L179.1 1345.94 L180.06 1350.23 L181.02 1354.5 L181.99 1358.75 L182.95 1362.97 L183.92 1367.18 L184.88 1371.36 L185.84 1375.53 L186.81 1379.67 L187.77 1383.79 L188.74 1387.89 L189.7 1391.97 L190.66 1396.02 L191.63 1400.06 L192.59 1404.07 L193.56 1408.06 L194.52 1412.03 L195.48 1415.97 L196.45 1419.89 L197.41 1423.79 L198.38 1427.67 L199.34 1431.53 L200.3 1435.36 L201.27 1439.17 L202.23 1442.96 L203.2 1446.72 L204.16 1450.46 L205.12 1454.18 L206.09 1457.88 L207.05 1461.55 L208.02 1465.2 L208.98 1468.83 L209.94 1472.43 L210.91 1476.01 L211.87 1479.57 L212.84 1483.1 L213.8 1486.62 L214.76 1490.1 L215.73 1493.57 L216.69 1497.01 L217.66 1500.43 L218.62 1503.83 L219.58 1507.2 L220.55 1510.55 L221.51 1513.88 L222.48 1517.18 L223.44 1520.46 L224.4 1523.72 L225.37 1526.95 L226.33 1530.17 L227.3 1533.35 L228.26 1536.52 L229.22 1539.66 L230.19 1542.78 L231.15 1545.88 L232.12 1548.95 L233.08 1552 L234.04 1555.03 L235.01 1558.04 L235.97 1561.02 L236.94 1563.98 L237.9 1566.92 L238.86 1569.83 L239.83 1572.73 L240.79 1575.6 L241.76 1578.44 L242.72 1581.27 L243.68 1584.07 L244.65 1586.85 L245.61 1589.61 L246.58 1592.35 L247.54 1595.06 L248.5 1597.76 L249.47 1600.43 L250.43 1603.08 L251.4 1605.7 L252.36 1608.31 L253.32 1610.89 L254.29 1613.46 L255.25 1616 L256.22 1618.52 L257.18 1621.01 L258.14 1623.49 L259.11 1625.95 L260.07 1628.38 L261.04 1630.79 L262 1633.19 L262.96 1635.56 L263.93 1637.91 L264.89 1640.24 L265.86 1642.55 L266.82 1644.84 L267.78 1647.11 L268.75 1649.35 L269.71 1651.58 L270.68 1653.79 L271.64 1655.98 L272.6 1658.15 L273.57 1660.29 L274.53 1662.42 L275.5 1664.53 L276.46 1666.62 L277.42 1668.69 L278.39 1670.74 L279.35 1672.77 L280.32 1674.78 L281.28 1676.78 L282.24 1678.75 L283.21 1680.71 L284.17 1682.64 L285.14 1684.56 L286.1 1686.46 L287.06 1688.34 L288.03 1690.2 L288.99 1692.05 L289.96 1693.87 L290.92 1695.68 L291.88 1697.47 L292.85 1699.24 L293.81 1701 L294.78 1702.73 L295.74 1704.45 L296.7 1706.16 L297.67 1707.84 L298.63 1709.51 L299.6 1711.16 L300.56 1712.79 L301.52 1714.41 L302.49 1716.01 L303.45 1717.59 L304.42 1719.16 L305.38 1720.71 L306.34 1722.24 L307.31 1723.76 L308.27 1725.26 L309.24 1726.75 L310.2 1728.22 L311.16 1729.67 L312.13 1731.11 L313.09 1732.53 L314.06 1733.94 L315.02 1735.33 L315.98 1736.71 L316.95 1738.07 L317.91 1739.42 L318.88 1740.75 L319.84 1742.07 L320.8 1743.37 L321.77 1744.66 L322.73 1745.93 L323.7 1747.19 L324.66 1748.44 L325.62 1749.67 L326.59 1750.89 L327.55 1752.09 L328.52 1753.28 L329.48 1754.46 L330.44 1755.62 L331.41 1756.77 L332.37 1757.9 L333.34 1759.03 L334.3 1760.14 L335.26 1761.23 L336.23 1762.31 L337.19 1763.39 L338.16 1764.44 L339.12 1765.49 L340.08 1766.52 L341.05 1767.54 L342.01 1768.55 L342.98 1769.55 L343.94 1770.53 L344.9 1771.5 L345.87 1772.46 L346.83 1773.41 L347.8 1774.35 L348.76 1775.27 L349.72 1776.19 L350.69 1777.09 L351.65 1777.98 L352.62 1778.86 L353.58 1779.73 L354.54 1780.59 L355.51 1781.44 L356.47 1782.28 L357.44 1783.1 L358.4 1783.92 L359.36 1784.72 L360.33 1785.52 L361.29 1786.3 L362.26 1787.08 L363.22 1787.84 L364.18 1788.6 L365.15 1789.34 L366.11 1790.08 L367.08 1790.8 L368.04 1791.52 L369 1792.23 L369.97 1792.92 L370.93 1793.61 L371.9 1794.29 L372.86 1794.96 L373.82 1795.62 L374.79 1796.27 L375.75 1796.92 L376.72 1797.55 L377.68 1798.18 L378.64 1798.8 L379.61 1799.4 L380.57 1800 L381.54 1800.6 L382.5 1801.18 L383.46 1801.76 L384.43 1802.33 L385.39 1802.89 L386.36 1803.44 L387.32 1803.98 L388.28 1804.52 L389.25 1805.05 L390.21 1805.57 L391.18 1806.09 L392.14 1806.59 L393.1 1807.09 L394.07 1807.59 L395.03 1808.07 L396 1808.55 L396.96 1809.02 L397.92 1809.49 L398.89 1809.95 L399.85 1810.4 L400.82 1810.84 L401.78 1811.28 L402.74 1811.71 L403.71 1812.14 L404.67 1812.56 L405.64 1812.97 L406.6 1813.38 L407.56 1813.78 L408.53 1814.17 L409.49 1814.56 L410.46 1814.95 L411.42 1815.32 L412.38 1815.69 L413.35 1816.06 L414.31 1816.42 L415.28 1816.78 L416.24 1817.13 L417.2 1817.47 L418.17 1817.81 L419.13 1818.14 L420.1 1818.47 L421.06 1818.79 L422.02 1819.11 L422.99 1819.42 L423.95 1819.73 L424.92 1820.03 L425.88 1820.33 L426.84 1820.63 L427.81 1820.92 L428.77 1821.2 L429.74 1821.48 L430.7 1821.76 L431.66 1822.03 L432.63 1822.29 L433.59 1822.55 L434.56 1822.81 L435.52 1823.07 L436.48 1823.32 L437.45 1823.56 L438.41 1823.8 L439.38 1824.04 L440.34 1824.27 L441.3 1824.5 L442.27 1824.73 L443.23 1824.95 L444.2 1825.17 L445.16 1825.38 L446.12 1825.6 L447.09 1825.8 L448.05 1826.01 L449.02 1826.21 L449.98 1826.4 L450.94 1826.6 L451.91 1826.79 L452.87 1826.98 L453.84 1827.16 L454.8 1827.34 L455.76 1827.52 L456.73 1827.69 L457.69 1827.86 L458.66 1828.03 L459.62 1828.2 L460.58 1828.36 L461.55 1828.52 L462.51 1828.68 L463.48 1828.83 L464.44 1828.98 L465.4 1829.13 L466.37 1829.28 L467.33 1829.42 L468.3 1829.56 L469.26 1829.7 L470.22 1829.83 L471.19 1829.97 L472.15 1830.1 L473.12 1830.23 L474.08 1830.35 L475.04 1830.48 L476.01 1830.6 L476.97 1830.72 L477.94 1830.83 L478.9 1830.95 L479.86 1831.06 L480.83 1831.17 L481.79 1831.28 L482.76 1831.39 L483.72 1831.49 L484.68 1831.59 L485.65 1831.69 L486.61 1831.79 L487.58 1831.89 L488.54 1831.98 L489.5 1832.08 L490.47 1832.17 L491.43 1832.26 L492.4 1832.34 L493.36 1832.43 L494.32 1832.51 L495.29 1832.6 L496.25 1832.68 L497.22 1832.76 L498.18 1832.84 L499.14 1832.91 L500.11 1832.99 L501.07 1833.06 L502.04 1833.13 L503 1833.2 L503.96 1833.27 L504.93 1833.34 L505.89 1833.4 L506.86 1833.47 L507.82 1833.53 L508.78 1833.59 L509.75 1833.66 L510.71 1833.71 L511.68 1833.77 L512.64 1833.83 L513.6 1833.89 L514.57 1833.94 L515.53 1833.99 L516.5 1834.05 L517.46 1834.1 L518.42 1834.15 L519.39 1834.2 L520.35 1834.25 L521.32 1834.29 L522.28 1834.34 L523.24 1834.38 L524.21 1834.43 L525.17 1834.47 L526.14 1834.51 L527.1 1834.56 L528.06 1834.6 L529.03 1834.64 L529.99 1834.67 L530.96 1834.71 L531.92 1834.75 L532.88 1834.79 L533.85 1834.82 L534.81 1834.85 L535.78 1834.89 L536.74 1834.92 L537.7 1834.95 L538.67 1834.99 L539.63 1835.02 L540.6 1835.05 L541.56 1835.08 L542.52 1835.1 L543.49 1835.13 L544.45 1835.16 L545.42 1835.19 L546.38 1835.21 L547.34 1835.24 L548.31 1835.26 L549.27 1835.29 L550.24 1835.31 L551.2 1835.33 L552.16 1835.36 L553.13 1835.38 L554.09 1835.4 L555.06 1835.42 L556.02 1835.44 L556.98 1835.46 L557.95 1835.48 L558.91 1835.5 L559.88 1835.52 L560.84 1835.53 L561.8 1835.55 L562.77 1835.57 L563.73 1835.58 L564.7 1835.6 L565.66 1835.62 L566.62 1835.63 L567.59 1835.65 L568.55 1835.66 L569.52 1835.67 L570.48 1835.69 L571.44 1835.7 L572.41 1835.71 L573.37 1835.73 L574.34 1835.74 L575.3 1835.75 L576.26 1835.76 L577.23 1835.77 L578.19 1835.78 L579.16 1835.79 L580.12 1835.8 L581.08 1835.81 L582.05 1835.82 L583.01 1835.83 L583.98 1835.84 L584.94 1835.85 L585.9 1835.86 L586.87 1835.86 L587.83 1835.87 L588.8 1835.88 L589.76 1835.89 L590.72 1835.89 L591.69 1835.9 L592.65 1835.91 L593.62 1835.91 L594.58 1835.92 L595.54 1835.92 L596.51 1835.93 L597.47 1835.94 L598.44 1835.94 L599.4 1835.94 L600.36 1835.95 L601.33 1835.95 L602.29 1835.96 L603.26 1835.96 L604.22 1835.97 L605.18 1835.97 L606.15 1835.97 L607.11 1835.98 L608.08 1835.98 L609.04 1835.98 L610 1835.98 L610.97 1835.99 L611.93 1835.99 L612.9 1835.99 L613.86 1835.99 L614.82 1835.99 L615.79 1835.99 L616.75 1836 L617.72 1836 L618.68 1836 L619.64 1836 L620.61 1836 L621.57 1836 L622.54 1836 L623.5 1836 L624.46 1836 L625.43 1836 L626.39 1836 L627.36 1836 L628.32 1836 L629.28 1836 L630.25 1836 L631.21 1835.99 L632.18 1835.99 L633.14 1835.99 L634.1 1835.99 L635.07 1835.99 L636.03 1835.99 L637 1835.98 L637.96 1835.98 L638.92 1835.98 L639.89 1835.98 L640.85 1835.97 L641.82 1835.97 L642.78 1835.97 L643.74 1835.96 L644.71 1835.96 L645.67 1835.96 L646.64 1835.95 L647.6 1835.95 L648.56 1835.94 L649.53 1835.94 L650.49 1835.94 L651.46 1835.93 L652.42 1835.93 L653.38 1835.92 L654.35 1835.92 L655.31 1835.91 L656.28 1835.9 L657.24 1835.9 L658.2 1835.89 L659.17 1835.89 L660.13 1835.88 L661.1 1835.87 L662.06 1835.87 L663.02 1835.86 L663.99 1835.85 L664.95 1835.84 L665.92 1835.83 L666.88 1835.83 L667.84 1835.82 L668.81 1835.81 L669.77 1835.8 L670.74 1835.79 L671.7 1835.78 L672.66 1835.77 L673.63 1835.76 L674.59 1835.75 L675.56 1835.74 L676.52 1835.73 L677.48 1835.72 L678.45 1835.71 L679.41 1835.7 L680.38 1835.68 L681.34 1835.67 L682.3 1835.66 L683.27 1835.64 L684.23 1835.63 L685.2 1835.62 L686.16 1835.6 L687.12 1835.59 L688.09 1835.57 L689.05 1835.56 L690.02 1835.54 L690.98 1835.52 L691.94 1835.51 L692.91 1835.49 L693.87 1835.47 L694.84 1835.45 L695.8 1835.44 L696.76 1835.42 L697.73 1835.4 L698.69 1835.38 L699.66 1835.36 L700.62 1835.34 L701.58 1835.31 L702.55 1835.29 L703.51 1835.27 L704.48 1835.25 L705.44 1835.22 L706.4 1835.2 L707.37 1835.17 L708.33 1835.15 L709.3 1835.12 L710.26 1835.09 L711.22 1835.06 L712.19 1835.04 L713.15 1835.01 L714.12 1834.98 L715.08 1834.95 L716.04 1834.91 L717.01 1834.88 L717.97 1834.85 L718.94 1834.82 L719.9 1834.78 L720.86 1834.75 L721.83 1834.71 L722.79 1834.67 L723.76 1834.63 L724.72 1834.6 L725.68 1834.56 L726.65 1834.51 L727.61 1834.47 L728.58 1834.43 L729.54 1834.39 L730.5 1834.34 L731.47 1834.3 L732.43 1834.25 L733.4 1834.2 L734.36 1834.15 L735.32 1834.1 L736.29 1834.05 L737.25 1834 L738.22 1833.94 L739.18 1833.89 L740.14 1833.83 L741.11 1833.77 L742.07 1833.71 L743.04 1833.65 L744 1833.59 L744.96 1833.53 L745.93 1833.46 L746.89 1833.4 L747.86 1833.33 L748.82 1833.26 L749.78 1833.19 L750.75 1833.12 L751.71 1833.05 L752.68 1832.97 L753.64 1832.89 L754.6 1832.82 L755.57 1832.74 L756.53 1832.65 L757.5 1832.57 L758.46 1832.48 L759.42 1832.4 L760.39 1832.31 L761.35 1832.22 L762.32 1832.12 L763.28 1832.03 L764.24 1831.93 L765.21 1831.83 L766.17 1831.73 L767.14 1831.63 L768.1 1831.52 L769.06 1831.41 L770.03 1831.3 L770.99 1831.19 L771.96 1831.08 L772.92 1830.96 L773.88 1830.84 L774.85 1830.72 L775.81 1830.59 L776.78 1830.47 L777.74 1830.34 L778.7 1830.2 L779.67 1830.07 L780.63 1829.93 L781.6 1829.79 L782.56 1829.65 L783.52 1829.5 L784.49 1829.35 L785.45 1829.2 L786.42 1829.05 L787.38 1828.89 L788.34 1828.73 L789.31 1828.57 L790.27 1828.4 L791.24 1828.23 L792.2 1828.05 L793.16 1827.88 L794.13 1827.7 L795.09 1827.51 L796.06 1827.33 L797.02 1827.14 L797.98 1826.94 L798.95 1826.74 L799.91 1826.54 L800.88 1826.34 L801.84 1826.13 L802.8 1825.92 L803.77 1825.7 L804.73 1825.48 L805.7 1825.25 L806.66 1825.02 L807.62 1824.79 L808.59 1824.55 L809.55 1824.31 L810.52 1824.06 L811.48 1823.81 L812.44 1823.56 L813.41 1823.3 L814.37 1823.04 L815.34 1822.77 L816.3 1822.49 L817.26 1822.21 L818.23 1821.93 L819.19 1821.64 L820.16 1821.35 L821.12 1821.05 L822.08 1820.75 L823.05 1820.44 L824.01 1820.13 L824.98 1819.81 L825.94 1819.48 L826.9 1819.15 L827.87 1818.81 L828.83 1818.47 L829.8 1818.13 L830.76 1817.77 L831.72 1817.41 L832.69 1817.05 L833.65 1816.68 L834.62 1816.3 L835.58 1815.92 L836.54 1815.53 L837.51 1815.13 L838.47 1814.73 L839.44 1814.32 L840.4 1813.9 L841.36 1813.48 L842.33 1813.05 L843.29 1812.62 L844.26 1812.17 L845.22 1811.72 L846.18 1811.27 L847.15 1810.8 L848.11 1810.33 L849.08 1809.85 L850.04 1809.37 L851 1808.87 L851.97 1808.37 L852.93 1807.86 L853.9 1807.34 L854.86 1806.82 L855.82 1806.29 L856.79 1805.75 L857.75 1805.2 L858.72 1804.64 L859.68 1804.07 L860.64 1803.5 L861.61 1802.91 L862.57 1802.32 L863.54 1801.72 L864.5 1801.11 L865.46 1800.49 L866.43 1799.87 L867.39 1799.23 L868.36 1798.58 L869.32 1797.93 L870.28 1797.26 L871.25 1796.59 L872.21 1795.9 L873.18 1795.21 L874.14 1794.5 L875.1 1793.79 L876.07 1793.07 L877.03 1792.33 L878 1791.59 L878.96 1790.83 L879.92 1790.07 L880.89 1789.29 L881.85 1788.5 L882.82 1787.7 L883.78 1786.89 L884.74 1786.07 L885.71 1785.24 L886.67 1784.4 L887.64 1783.54 L888.6 1782.68 L889.56 1781.8 L890.53 1780.91 L891.49 1780.01 L892.46 1779.1 L893.42 1778.17 L894.38 1777.23 L895.35 1776.28 L896.31 1775.32 L897.28 1774.35 L898.24 1773.36 L899.2 1772.36 L900.17 1771.34 L901.13 1770.32 L902.1 1769.28 L903.06 1768.22 L904.02 1767.16 L904.99 1766.08 L905.95 1764.98 L906.92 1763.87 L907.88 1762.75 L908.84 1761.62 L909.81 1760.47 L910.77 1759.3 L911.74 1758.12 L912.7 1756.93 L913.66 1755.72 L914.63 1754.5 L915.59 1753.26 L916.56 1752.01 L917.52 1750.74 L918.48 1749.45 L919.45 1748.15 L920.41 1746.84 L921.38 1745.51 L922.34 1744.16 L923.3 1742.8 L924.27 1741.42 L925.23 1740.03 L926.2 1738.62 L927.16 1737.19 L928.12 1735.74 L929.09 1734.28 L930.05 1732.81 L931.02 1731.31 L931.98 1729.8 L932.94 1728.27 L933.91 1726.72 L934.87 1725.16 L935.84 1723.58 L936.8 1721.98 L937.76 1720.36 L938.73 1718.72 L939.69 1717.07 L940.66 1715.4 L941.62 1713.71 L942.58 1712 L943.55 1710.27 L944.51 1708.52 L945.48 1706.76 L946.44 1704.97 L947.4 1703.17 L948.37 1701.34 L949.33 1699.5 L950.3 1697.64 L951.26 1695.76 L952.22 1693.85 L953.19 1691.93 L954.15 1689.99 L955.12 1688.03 L956.08 1686.04 L957.04 1684.04 L958.01 1682.01 L958.97 1679.97 L959.94 1677.9 L960.9 1675.82 L961.86 1673.71 L962.83 1671.58 L963.79 1669.43 L964.76 1667.25 L965.72 1665.06 L966.68 1662.84 L967.65 1660.6 L968.61 1658.34 L969.58 1656.06 L970.54 1653.76 L971.5 1651.43 L972.47 1649.08 L973.43 1646.71 L974.4 1644.31 L975.36 1641.89 L976.32 1639.45 L977.29 1636.99 L978.25 1634.5 L979.22 1631.99 L980.18 1629.45 L981.14 1626.9 L982.11 1624.31 L983.07 1621.71 L984.04 1619.08 L985 1616.42 L985.96 1613.75 L986.93 1611.04 L987.89 1608.32 L988.86 1605.57 L989.82 1602.79 L990.78 1599.99 L991.75 1597.16 L992.71 1594.31 L993.68 1591.44 L994.64 1588.54 L995.6 1585.61 L996.57 1582.66 L997.53 1579.68 L998.5 1576.68 L999.46 1573.65 L1000.42 1570.6 L1001.39 1567.52 L1002.35 1564.42 L1003.32 1561.28 L1004.28 1558.13 L1005.24 1554.94 L1006.21 1551.73 L1007.17 1548.5 L1008.14 1545.24 L1009.1 1541.95 L1010.06 1538.63 L1011.03 1535.29 L1011.99 1531.92 L1012.96 1528.53 L1013.92 1525.1 L1014.88 1521.65 L1015.85 1518.18 L1016.81 1514.68 L1017.78 1511.15 L1018.74 1507.59 L1019.7 1504 L1020.67 1500.39 L1021.63 1496.75 L1022.6 1493.09 L1023.56 1489.39 L1024.52 1485.67 L1025.49 1481.92 L1026.45 1478.14 L1027.42 1474.34 L1028.38 1470.51 L1029.34 1466.65 L1030.31 1462.76 L1031.27 1458.85 L1032.24 1454.9 L1033.2 1450.93 L1034.16 1446.94 L1035.13 1442.91 L1036.09 1438.86 L1037.06 1434.77 L1038.02 1430.66 L1038.98 1426.53 L1039.95 1422.36 L1040.91 1418.17 L1041.88 1413.95 L1042.84 1409.7 L1043.8 1405.42 L1044.77 1401.12 L1045.73 1396.78 L1046.7 1392.42 L1047.66 1388.04 L1048.62 1383.62 L1049.59 1379.18 L1050.55 1374.71 L1051.52 1370.21 L1052.48 1365.68 L1053.44 1361.13 L1054.41 1356.55 L1055.37 1351.94 L1056.34 1347.3 L1057.3 1342.64 L1058.26 1337.95 L1059.23 1333.23 L1060.19 1328.49 L1061.16 1323.71 L1062.12 1318.91 L1063.08 1314.09 L1064.05 1309.24 L1065.01 1304.36 L1065.98 1299.45 L1066.94 1294.52 L1067.9 1289.56 L1068.87 1284.57 L1069.83 1279.56 L1070.8 1274.52 L1071.76 1269.46 L1072.72 1264.37 L1073.69 1259.26 L1074.65 1254.12 L1075.62 1248.95 L1076.58 1243.76 L1077.54 1238.54 L1078.51 1233.3 L1079.47 1228.04 L1080.44 1222.75 L1081.4 1217.43 L1082.36 1212.09 L1083.33 1206.73 L1084.29 1201.34 L1085.26 1195.93 L1086.22 1190.5 L1087.18 1185.04 L1088.15 1179.56 L1089.11 1174.06 L1090.08 1168.53 L1091.04 1162.99 L1092 1157.42 L1092.97 1151.82 L1093.93 1146.21 L1094.9 1140.58 L1095.86 1134.92 L1096.82 1129.25 L1097.79 1123.55 L1098.75 1117.83 L1099.72 1112.1 L1100.68 1106.34 L1101.64 1100.56 L1102.02 1098.3" fill="none" stroke="#ff0000" stroke-width="6.8" stroke-linecap="butt" stroke-linejoin="round" stroke-dasharray="18.9 16.6"/>
<text x="103.91" y="1846.7" font-family="&quot;Liberation Serif&quot;, serif" font-size="44.8" fill="#262626" stroke="#262626" stroke-width="0.9" textLength="22.5" lengthAdjust="spacingAndGlyphs">0</text>
<text x="104.68" y="1733.21" font-family="&quot;Liberation Serif&quot;, serif" font-size="44.8" fill="#262626" stroke="#262626" stroke-width="0.9" textLength="22.5" lengthAdjust="spacingAndGlyphs">2</text>
<text x="102.9" y="1619.72" font-family="&quot;Liberation Serif&quot;, serif" font-size="44.8" fill="#262626" stroke="#262626" stroke-width="0.9" textLength="22.5" lengthAdjust="spacingAndGlyphs">4</text>
<text x="103.54" y="1506.22" font-family="&quot;Liberation Serif&quot;, serif" font-size="44.8" fill="#262626" stroke="#262626" stroke-width="0.9" textLength="22.5" lengthAdjust="spacingAndGlyphs">6</text>
<text x="103.91" y="1392.73" font-family="&quot;Liberation Serif&quot;, serif" font-size="44.8" fill="#262626" stroke="#262626" stroke-width="0.9" textLength="22.5" lengthAdjust="spacingAndGlyphs">8</text>
<text x="81.41" y="1279.24" font-family="&quot;Liberation Serif&quot;, serif" font-size="44.8" fill="#262626" stroke="#262626" stroke-width="0.9" textLength="45" lengthAdjust="spacingAndGlyphs">10</text>
<text x="82.18" y="1165.75" font-family="&quot;Liberation Serif&quot;, serif" font-size="44.8" fill="#262626" stroke="#262626" stroke-width="0.9" textLength="45" lengthAdjust="spacingAndGlyphs">12</text>
<text x="209.38" y="1893.52" font-family="&quot;Liberation Serif&quot;, serif" font-size="45.3" fill="#262626" stroke="#262626" stroke-width="0.4" textLength="33.82" lengthAdjust="spacingAndGlyphs">−</text>
<text x="243.41" y="1889.9" font-family="&quot;Liberation Serif&quot;, serif" font-size="45.3" fill="#262626" stroke="#262626" stroke-width="0.9" textLength="22.5" lengthAdjust="spacingAndGlyphs">2</text>
<text x="403.28" y="1893.52" font-family="&quot;Liberation Serif&quot;, serif" font-size="45.3" fill="#262626" stroke="#262626" stroke-width="0.4" textLength="33.82" lengthAdjust="spacingAndGlyphs">−</text>
<text x="435.34" y="1889.9" font-family="&quot;Liberation Serif&quot;, serif" font-size="45.3" fill="#262626" stroke="#262626" stroke-width="0.9" textLength="22.5" lengthAdjust="spacingAndGlyphs">1</text>
<text x="612.25" y="1889.9" font-family="&quot;Liberation Serif&quot;, serif" font-size="45.3" fill="#262626" stroke="#262626" stroke-width="0.9" textLength="22.5" lengthAdjust="spacingAndGlyphs">0</text>
<text x="804.42" y="1889.9" font-family="&quot;Liberation Serif&quot;, serif" font-size="45.3" fill="#262626" stroke="#262626" stroke-width="0.9" textLength="22.5" lengthAdjust="spacingAndGlyphs">1</text>
<text x="998.1" y="1889.9" font-family="&quot;Liberation Serif&quot;, serif" font-size="45.3" fill="#262626" stroke="#262626" stroke-width="0.9" textLength="22.5" lengthAdjust="spacingAndGlyphs">2</text>
<rect x="587.2" y="1098.6" width="454.4" height="230.4" fill="#fff" stroke="#262626" stroke-width="1.5"/>
<path d="M596 1139.5 L686 1139.5" fill="none" stroke="#4dbeee" stroke-width="6.8" stroke-linecap="butt" stroke-linejoin="round" stroke-dasharray="18.7 3.4 10 3.4"/>
<text font-family="&quot;Liberation Serif&quot;, serif" fill="#000"><tspan x="693.8" y="1147" font-size="43.5" textLength="22.38" lengthAdjust="spacingAndGlyphs">v</tspan><tspan x="716.18" y="1168.4" font-size="35.5" textLength="24.37" lengthAdjust="spacingAndGlyphs">R</tspan><tspan x="740.55" y="1147" font-size="43.5" font-weight="bold" textLength="25.51" lengthAdjust="spacingAndGlyphs">=</tspan><tspan x="766.05" y="1147" font-size="43.5" textLength="22.38" lengthAdjust="spacingAndGlyphs">v</tspan><tspan x="788.43" y="1168.4" font-size="35.5" textLength="42.63" lengthAdjust="spacingAndGlyphs">R0</tspan><tspan x="831.06" y="1147" font-size="43.5" textLength="31.06" lengthAdjust="spacingAndGlyphs">,a</tspan><tspan x="862.12" y="1168.4" font-size="35.5" textLength="24.37" lengthAdjust="spacingAndGlyphs">R</tspan><tspan x="886.49" y="1147" font-size="43.5" font-weight="bold" textLength="25.51" lengthAdjust="spacingAndGlyphs">=</tspan><tspan x="911.99" y="1147" font-size="43.5" textLength="19.87" lengthAdjust="spacingAndGlyphs">a</tspan><tspan x="931.86" y="1168.4" font-size="35.5" textLength="42.63" lengthAdjust="spacingAndGlyphs">R0</tspan></text>
<path d="M596 1213.2 L686 1213.2" fill="none" stroke="#7e2f8e" stroke-width="6.8" stroke-linecap="butt" stroke-linejoin="round"/>
<text font-family="&quot;Liberation Serif&quot;, serif" fill="#000"><tspan x="693.8" y="1220.7" font-size="43.5" textLength="22.38" lengthAdjust="spacingAndGlyphs">v</tspan><tspan x="716.18" y="1242.1" font-size="35.5" textLength="24.37" lengthAdjust="spacingAndGlyphs">R</tspan><tspan x="740.55" y="1220.7" font-size="43.5" font-weight="bold" textLength="25.51" lengthAdjust="spacingAndGlyphs">=</tspan><tspan x="766.06" y="1220.7" font-size="43.5" textLength="22.38" lengthAdjust="spacingAndGlyphs">v</tspan><tspan x="788.44" y="1242.1" font-size="35.5" textLength="42.63" lengthAdjust="spacingAndGlyphs">R0</tspan><tspan x="831.07" y="1220.7" font-size="43.5" textLength="31.06" lengthAdjust="spacingAndGlyphs">,a</tspan><tspan x="862.13" y="1242.1" font-size="35.5" textLength="24.37" lengthAdjust="spacingAndGlyphs">R</tspan><tspan x="886.5" y="1220.7" font-size="43.5" font-weight="bold" textLength="25.51" lengthAdjust="spacingAndGlyphs">=</tspan><tspan x="912" y="1220.7" font-size="43.5" textLength="19.87" lengthAdjust="spacingAndGlyphs">a</tspan><tspan x="931.87" y="1242.1" font-size="35.5" textLength="42.63" lengthAdjust="spacingAndGlyphs">R0</tspan><tspan x="974.5" y="1220.7" font-size="43.5" textLength="57.2" lengthAdjust="spacingAndGlyphs">/10</tspan></text>
<path d="M596 1288.2 L686 1288.2" fill="none" stroke="#ff0000" stroke-width="6.8" stroke-linecap="butt" stroke-linejoin="round" stroke-dasharray="18.9 16.6"/>
<text font-family="&quot;Liberation Serif&quot;, serif" fill="#000"><tspan x="693.8" y="1295.7" font-size="43.5" textLength="22.45" lengthAdjust="spacingAndGlyphs">v</tspan><tspan x="716.25" y="1317.1" font-size="35.5" textLength="24.44" lengthAdjust="spacingAndGlyphs">R</tspan><tspan x="740.69" y="1295.7" font-size="43.5" font-weight="bold" textLength="25.58" lengthAdjust="spacingAndGlyphs">=</tspan><tspan x="766.27" y="1295.7" font-size="43.5" textLength="22.45" lengthAdjust="spacingAndGlyphs">v</tspan><tspan x="788.72" y="1317.1" font-size="35.5" textLength="42.76" lengthAdjust="spacingAndGlyphs">R0</tspan><tspan x="831.47" y="1295.7" font-size="43.5" textLength="88.52" lengthAdjust="spacingAndGlyphs">/10,a</tspan><tspan x="919.99" y="1317.1" font-size="35.5" textLength="24.44" lengthAdjust="spacingAndGlyphs">R</tspan><tspan x="944.43" y="1295.7" font-size="43.5" font-weight="bold" textLength="25.58" lengthAdjust="spacingAndGlyphs">=</tspan><tspan x="970.01" y="1295.7" font-size="43.5" textLength="19.93" lengthAdjust="spacingAndGlyphs">a</tspan><tspan x="989.94" y="1317.1" font-size="35.5" textLength="42.76" lengthAdjust="spacingAndGlyphs">R0</tspan></text>
<rect x="144.6" y="1721.3" width="149.9" height="105.4" rx="4" ry="4" fill="#fafafe" stroke="#6e6e6e" stroke-width="1.3"/>
<text x="159" y="1767.3" font-family="&quot;Liberation Sans&quot;, sans-serif" font-size="31" fill="#404040">X</text>
<text x="187.35" y="1767.3" font-family="&quot;Liberation Sans&quot;, sans-serif" font-size="31" font-weight="bold" fill="#0a96fc" textLength="83.76" lengthAdjust="spacingAndGlyphs">-2.498</text>
<text x="159.02" y="1804.4" font-family="&quot;Liberation Sans&quot;, sans-serif" font-size="31" fill="#404040">Y</text>
<text x="187.32" y="1804.4" font-family="&quot;Liberation Sans&quot;, sans-serif" font-size="31" font-weight="bold" fill="#0a96fc" textLength="91.39" lengthAdjust="spacingAndGlyphs">0.1229</text>
<circle cx="141.6" cy="1829" r="7.2" fill="#262626" stroke="#fffbd8" stroke-width="4"/>
<text x="369.01" y="1952.3" font-family="&quot;Liberation Serif&quot;, serif" font-size="48.5" fill="#262626" textLength="506.78" lengthAdjust="spacingAndGlyphs">Synthetic aperture time (s)</text>
<text transform="translate(61.2,1625.7) rotate(-90)" font-family="&quot;Liberation Serif&quot;, serif" font-size="48" fill="#262626" textLength="318.75" lengthAdjust="spacingAndGlyphs">Phase error (rad)</text>
<text x="556.31" y="2062.3" font-family="&quot;Liberation Serif&quot;, serif" font-size="84" fill="#000" textLength="90.73" lengthAdjust="spacingAndGlyphs">(<tspan font-weight="bold">c</tspan>)</text>
<rect x="1485.5" y="1098.7" width="964" height="737" fill="#fff"/>
<path d="M1581.5 1098.7V1835.7 M1774.5 1098.7V1835.7 M1967.5 1098.7V1835.7 M2160.5 1098.7V1835.7 M2353.5 1098.7V1835.7 M1485.5 1835.5H2449.5 M1485.5 1730.5H2449.5 M1485.5 1625.5H2449.5 M1485.5 1519.5H2449.5 M1485.5 1414.5H2449.5 M1485.5 1309.5H2449.5 M1485.5 1203.5H2449.5 M1485.5 1098.5H2449.5" stroke="#dfdfdf" stroke-width="1.0" fill="none"/>
<path d="M1581.5 1835.5V1825.5 M1581.5 1098.5V1108.5 M1774.5 1835.5V1825.5 M1774.5 1098.5V1108.5 M1967.5 1835.5V1825.5 M1967.5 1098.5V1108.5 M2160.5 1835.5V1825.5 M2160.5 1098.5V1108.5 M2353.5 1835.5V1825.5 M2353.5 1098.5V1108.5 M1485.5 1835.5H1495.5 M2449.5 1835.5H2439.5 M1485.5 1730.5H1495.5 M2449.5 1730.5H2439.5 M1485.5 1625.5H1495.5 M2449.5 1625.5H2439.5 M1485.5 1519.5H1495.5 M2449.5 1519.5H2439.5 M1485.5 1414.5H1495.5 M2449.5 1414.5H2439.5 M1485.5 1309.5H1495.5 M2449.5 1309.5H2439.5 M1485.5 1203.5H1495.5 M2449.5 1203.5H2439.5 M1485.5 1098.5H1495.5 M2449.5 1098.5H2439.5" stroke="#262626" stroke-width="1.2" fill="none"/>
<rect x="1485.5" y="1098.5" width="964" height="737" fill="none" stroke="#262626" stroke-width="1.2"/>
<path d="M1485.5 1123.36 L1486.2 1128.86 L1486.89 1134.33 L1487.59 1139.77 L1488.29 1145.17 L1488.99 1150.55 L1489.68 1155.9 L1490.38 1161.22 L1491.08 1166.51 L1491.77 1171.77 L1492.47 1177.01 L1493.17 1182.21 L1493.86 1187.38 L1494.56 1192.53 L1495.26 1197.64 L1495.96 1202.73 L1496.65 1207.79 L1497.35 1212.81 L1498.05 1217.81 L1498.74 1222.79 L1499.44 1227.73 L1500.14 1232.65 L1500.84 1237.53 L1501.53 1242.39 L1502.23 1247.22 L1502.93 1252.02 L1503.62 1256.8 L1504.32 1261.55 L1505.02 1266.27 L1505.71 1270.96 L1506.41 1275.62 L1507.11 1280.26 L1507.81 1284.87 L1508.5 1289.45 L1509.2 1294.01 L1509.9 1298.54 L1510.59 1303.04 L1511.29 1307.52 L1511.99 1311.96 L1512.68 1316.38 L1513.38 1320.78 L1514.08 1325.15 L1514.78 1329.49 L1515.47 1333.81 L1516.17 1338.1 L1516.87 1342.36 L1517.56 1346.6 L1518.26 1350.81 L1518.96 1355 L1519.66 1359.16 L1520.35 1363.29 L1521.05 1367.4 L1521.75 1371.48 L1522.44 1375.54 L1523.14 1379.57 L1523.84 1383.58 L1524.53 1387.57 L1525.23 1391.52 L1525.93 1395.46 L1526.63 1399.36 L1527.32 1403.25 L1528.02 1407.11 L1528.72 1410.94 L1529.41 1414.75 L1530.11 1418.54 L1530.81 1422.3 L1531.51 1426.04 L1532.2 1429.75 L1532.9 1433.44 L1533.6 1437.1 L1534.29 1440.74 L1534.99 1444.36 L1535.69 1447.96 L1536.38 1451.53 L1537.08 1455.08 L1537.78 1458.6 L1538.48 1462.1 L1539.17 1465.58 L1539.87 1469.03 L1540.57 1472.46 L1541.26 1475.87 L1541.96 1479.26 L1542.66 1482.62 L1543.35 1485.96 L1544.05 1489.28 L1544.75 1492.58 L1545.45 1495.85 L1546.14 1499.1 L1546.84 1502.33 L1547.54 1505.54 L1548.23 1508.72 L1548.93 1511.89 L1549.63 1515.03 L1550.33 1518.15 L1551.02 1521.25 L1551.72 1524.33 L1552.42 1527.38 L1553.11 1530.42 L1553.81 1533.43 L1554.51 1536.42 L1555.2 1539.39 L1555.9 1542.34 L1556.6 1545.27 L1557.3 1548.18 L1557.99 1551.07 L1558.69 1553.94 L1559.39 1556.78 L1560.08 1559.61 L1560.78 1562.42 L1561.48 1565.2 L1562.18 1567.97 L1562.87 1570.72 L1563.57 1573.44 L1564.27 1576.15 L1564.96 1578.84 L1565.66 1581.5 L1566.36 1584.15 L1567.05 1586.78 L1567.75 1589.39 L1568.45 1591.98 L1569.15 1594.55 L1569.84 1597.1 L1570.54 1599.63 L1571.24 1602.14 L1571.93 1604.64 L1572.63 1607.11 L1573.33 1609.57 L1574.02 1612.01 L1574.72 1614.43 L1575.42 1616.83 L1576.12 1619.22 L1576.81 1621.58 L1577.51 1623.93 L1578.21 1626.26 L1578.9 1628.57 L1579.6 1630.87 L1580.3 1633.14 L1581 1635.4 L1581.69 1637.64 L1582.39 1639.87 L1583.09 1642.07 L1583.78 1644.26 L1584.48 1646.44 L1585.18 1648.59 L1585.87 1650.73 L1586.57 1652.85 L1587.27 1654.95 L1587.97 1657.04 L1588.66 1659.11 L1589.36 1661.17 L1590.06 1663.21 L1590.75 1665.23 L1591.45 1667.24 L1592.15 1669.23 L1592.85 1671.2 L1593.54 1673.16 L1594.24 1675.1 L1594.94 1677.03 L1595.63 1678.94 L1596.33 1680.83 L1597.03 1682.71 L1597.72 1684.58 L1598.42 1686.42 L1599.12 1688.26 L1599.82 1690.08 L1600.51 1691.88 L1601.21 1693.67 L1601.91 1695.44 L1602.6 1697.2 L1603.3 1698.95 L1604 1700.68 L1604.69 1702.39 L1605.39 1704.09 L1606.09 1705.78 L1606.79 1707.45 L1607.48 1709.11 L1608.18 1710.76 L1608.88 1712.39 L1609.57 1714.01 L1610.27 1715.61 L1610.97 1717.2 L1611.67 1718.77 L1612.36 1720.34 L1613.06 1721.89 L1613.76 1723.42 L1614.45 1724.95 L1615.15 1726.46 L1615.85 1727.95 L1616.54 1729.44 L1617.24 1730.91 L1617.94 1732.37 L1618.64 1733.81 L1619.33 1735.25 L1620.03 1736.67 L1620.73 1738.08 L1621.42 1739.47 L1622.12 1740.86 L1622.82 1742.23 L1623.52 1743.59 L1624.21 1744.94 L1624.91 1746.27 L1625.61 1747.6 L1626.3 1748.91 L1627 1750.21 L1627.7 1751.5 L1628.39 1752.78 L1629.09 1754.05 L1629.79 1755.31 L1630.49 1756.55 L1631.18 1757.79 L1631.88 1759.01 L1632.58 1760.23 L1633.27 1761.43 L1633.97 1762.62 L1634.67 1763.8 L1635.36 1764.97 L1636.06 1766.13 L1636.76 1767.28 L1637.46 1768.43 L1638.15 1769.56 L1638.85 1770.68 L1639.55 1771.79 L1640.24 1772.89 L1640.94 1773.98 L1641.64 1775.06 L1642.34 1776.13 L1643.03 1777.2 L1643.73 1778.25 L1644.43 1779.29 L1645.12 1780.33 L1645.82 1781.36 L1646.52 1782.37 L1647.21 1783.38 L1647.91 1784.38 L1648.61 1785.37 L1649.31 1786.36 L1650 1787.33 L1650.7 1788.3 L1651.4 1789.25 L1652.09 1790.2 L1652.79 1791.14 L1653.49 1792.08 L1654.19 1793 L1654.88 1793.92 L1655.58 1794.83 L1656.28 1795.73 L1656.97 1796.63 L1657.67 1797.51 L1658.37 1798.39 L1659.06 1799.27 L1659.76 1800.13 L1660.46 1800.99 L1661.16 1801.84 L1661.85 1802.69 L1662.55 1803.53 L1663.25 1804.36 L1663.94 1805.18 L1664.64 1806 L1665.34 1806.81 L1666.03 1807.62 L1666.73 1808.42 L1667.43 1809.21 L1668.13 1810 L1668.82 1810.78 L1669.52 1811.55 L1670.22 1812.32 L1670.91 1813.08 L1671.61 1813.84 L1672.31 1814.59 L1673.01 1815.34 L1673.7 1816.08 L1674.4 1816.82 L1675.1 1817.55 L1675.79 1818.28 L1676.49 1819 L1677.19 1819.72 L1677.88 1820.43 L1678.58 1821.14 L1679.28 1821.84 L1679.98 1822.54 L1680.67 1823.23 L1681.37 1823.92 L1682.07 1824.6 L1682.76 1825.29 L1683.46 1825.96 L1684.16 1826.64 L1684.86 1827.31 L1685.55 1827.97 L1686.25 1828.63 L1686.95 1829.29 L1687.64 1829.95 L1688.34 1830.6 L1689.04 1831.25 L1689.73 1831.89 L1690.43 1832.53 L1691.13 1833.17 L1691.83 1833.81 L1692.52 1834.44 L1693.22 1835.07 L1693.92 1835.7 L1701.87 1830.02 L1709.83 1824.85 L1717.79 1820.5 L1725.75 1816.47 L1733.7 1812.57 L1741.66 1809.15 L1749.62 1806.56 L1757.57 1805.15 L1765.53 1804.45 L1773.49 1803.84 L1781.44 1803.31 L1789.4 1802.86 L1797.36 1802.46 L1805.32 1802.12 L1813.27 1801.82 L1821.23 1801.55 L1829.19 1801.3 L1837.14 1801.06 L1845.1 1800.81 L1853.06 1800.56 L1861.02 1800.29 L1868.97 1799.99 L1876.93 1799.66 L1884.89 1799.35 L1892.84 1799.04 L1900.8 1798.75 L1908.76 1798.46 L1916.72 1798.17 L1924.67 1797.88 L1932.63 1797.59 L1940.59 1797.29 L1948.54 1796.99 L1956.5 1796.68 L1964.46 1796.35 L1972.41 1796 L1980.37 1795.65 L1988.33 1795.29 L1996.29 1794.93 L2004.24 1794.55 L2012.2 1794.17 L2020.16 1793.78 L2028.11 1793.38 L2036.07 1792.97 L2044.03 1792.55 L2051.99 1792.13 L2059.94 1791.7 L2067.9 1791.26 L2075.86 1790.81 L2083.81 1790.34 L2091.77 1789.87 L2099.73 1789.38 L2107.69 1788.89 L2115.64 1788.39 L2123.6 1787.87 L2131.56 1787.35 L2139.51 1786.81 L2147.47 1786.27 L2155.43 1785.72 L2163.38 1785.13 L2164.82 1784.85 L2166.26 1784.56 L2167.7 1784.26 L2169.14 1783.95 L2170.57 1783.62 L2172.01 1783.28 L2173.45 1782.92 L2174.89 1782.55 L2176.32 1782.17 L2177.76 1781.77 L2179.2 1781.35 L2180.64 1780.92 L2182.08 1780.48 L2183.51 1780.01 L2184.95 1779.53 L2186.39 1779.03 L2187.83 1778.51 L2189.26 1777.98 L2190.7 1777.43 L2192.14 1776.86 L2193.58 1776.27 L2195.02 1775.66 L2196.45 1775.03 L2197.89 1774.37 L2199.33 1773.7 L2200.77 1773.01 L2202.2 1772.3 L2203.64 1771.56 L2205.08 1770.81 L2206.52 1770.03 L2207.96 1769.23 L2209.39 1768.4 L2210.83 1767.55 L2212.27 1766.68 L2213.71 1765.78 L2215.14 1764.86 L2216.58 1763.92 L2218.02 1762.94 L2219.46 1761.95 L2220.9 1760.93 L2222.33 1759.88 L2223.77 1758.8 L2225.21 1757.7 L2226.65 1756.57 L2228.08 1755.41 L2229.52 1754.22 L2230.96 1753.01 L2232.4 1751.76 L2233.84 1750.49 L2235.27 1749.19 L2236.71 1747.86 L2238.15 1746.49 L2239.59 1745.1 L2241.02 1743.68 L2242.46 1742.22 L2243.9 1740.73 L2245.34 1739.21 L2246.78 1737.66 L2248.21 1736.08 L2249.65 1734.46 L2251.09 1732.81 L2252.53 1731.12 L2253.96 1729.4 L2255.4 1727.65 L2256.84 1725.86 L2258.28 1724.03 L2259.72 1722.17 L2261.15 1720.28 L2262.59 1718.34 L2264.03 1716.37 L2265.47 1714.37 L2266.9 1712.32 L2268.34 1710.24 L2269.78 1708.12 L2271.22 1705.96 L2272.65 1703.77 L2274.09 1701.53 L2275.53 1699.25 L2276.97 1696.94 L2278.41 1694.58 L2279.84 1692.18 L2281.28 1689.74 L2282.72 1687.26 L2284.16 1684.74 L2285.59 1682.18 L2287.03 1679.57 L2288.47 1676.92 L2289.91 1674.23 L2291.35 1671.49 L2292.78 1668.71 L2294.22 1665.89 L2295.66 1663.02 L2297.1 1660.1 L2298.53 1657.14 L2299.97 1654.14 L2301.41 1651.09 L2302.85 1647.99 L2304.29 1644.84 L2305.72 1641.65 L2307.16 1638.41 L2308.6 1635.12 L2310.04 1631.79 L2311.47 1628.4 L2312.91 1624.97 L2314.35 1621.49 L2315.79 1617.95 L2317.23 1614.37 L2318.66 1610.74 L2320.1 1607.05 L2321.54 1603.32 L2322.98 1599.53 L2324.41 1595.69 L2325.85 1591.8 L2327.29 1587.86 L2328.73 1583.86 L2330.17 1579.82 L2331.6 1575.71 L2333.04 1571.56 L2334.48 1567.34 L2335.92 1563.08 L2337.35 1558.76 L2338.79 1554.38 L2340.23 1549.95 L2341.67 1545.46 L2343.11 1540.91 L2344.54 1536.31 L2345.98 1531.65 L2347.42 1526.93 L2348.86 1522.16 L2350.29 1517.32 L2351.73 1512.43 L2353.17 1507.48 L2354.61 1502.47 L2356.05 1497.4 L2357.48 1492.27 L2358.92 1487.08 L2360.36 1481.83 L2361.8 1476.51 L2363.23 1471.14 L2364.67 1465.7 L2366.11 1460.2 L2367.55 1454.64 L2368.99 1449.02 L2370.42 1443.33 L2371.86 1437.58 L2373.3 1431.76 L2374.74 1425.88 L2376.17 1419.94 L2377.61 1413.93 L2379.05 1407.85 L2380.49 1401.71 L2381.93 1395.5 L2383.36 1389.23 L2384.8 1382.88 L2386.24 1376.48 L2387.68 1370 L2389.11 1363.45 L2390.55 1356.84 L2391.99 1350.16 L2393.43 1343.41 L2394.86 1336.59 L2396.3 1329.7 L2397.74 1322.74 L2399.18 1315.71 L2400.62 1308.6 L2402.05 1301.43 L2403.49 1294.19 L2404.93 1286.87 L2406.37 1279.48 L2407.8 1272.02 L2409.24 1264.48 L2410.68 1256.88 L2412.12 1249.19 L2413.56 1241.44 L2414.99 1233.61 L2416.43 1225.7 L2417.87 1217.72 L2419.31 1209.66 L2420.74 1201.53 L2422.18 1193.32 L2423.62 1185.03 L2425.06 1176.67 L2426.5 1168.23 L2427.93 1159.71 L2429.37 1151.12 L2430.81 1142.44 L2432.25 1133.69 L2433.68 1124.86 L2435.12 1115.95 L2436.56 1106.95 L2437.87 1098.7" fill="none" stroke="#4dbeee" stroke-width="6.3" stroke-linecap="butt" stroke-linejoin="miter"/>
<path d="M1485.5 1790.04 L1487.5 1790.87 L1489.5 1791.15 L1491.5 1790.86 L1493.5 1790.57 L1495.5 1791.09 L1497.5 1791.07 L1499.5 1789.81 L1501.5 1790.31 L1503.5 1790.57 L1505.5 1790.53 L1507.5 1790.82 L1509.5 1790.56 L1511.5 1790.71 L1513.5 1790.7 L1515.5 1789.82 L1517.5 1790.43 L1519.5 1790.71 L1521.5 1790.57 L1523.5 1789.67 L1525.5 1789.56 L1527.5 1790.58 L1529.5 1790.4 L1531.5 1789.22 L1533.5 1790.58 L1535.5 1789.58 L1537.5 1790.28 L1539.5 1788.94 L1541.5 1789.78 L1543.5 1790.2 L1545.5 1789.95 L1547.5 1789.69 L1549.5 1789.26 L1551.5 1790.02 L1553.5 1788.92 L1555.5 1789.88 L1557.5 1789.47 L1559.5 1789.27 L1561.5 1789.03 L1563.5 1790.01 L1565.5 1789.63 L1567.5 1790.06 L1569.5 1789.77 L1571.5 1789.61 L1573.5 1788.92 L1575.5 1788.83 L1577.5 1789.8 L1579.5 1788.46 L1581.5 1789.82 L1583.5 1789.62 L1585.5 1788.62 L1587.5 1789.77 L1589.5 1789.84 L1591.5 1789.71 L1593.5 1789.77 L1595.5 1789.62 L1597.5 1788.81 L1599.5 1789.44 L1601.5 1789.7 L1603.5 1788.9 L1605.5 1789.45 L1607.5 1788.35 L1609.5 1789.59 L1611.5 1788.45 L1613.5 1789.34 L1615.5 1788.96 L1617.5 1788.73 L1619.5 1788.8 L1621.5 1789.3 L1623.5 1788.66 L1625.5 1788.41 L1627.5 1789.24 L1629.5 1789.33 L1631.5 1788.38 L1633.5 1788.31 L1635.5 1789.19 L1637.5 1789.08 L1639.5 1788.77 L1641.5 1789.12 L1643.5 1787.99 L1645.5 1788.75 L1647.5 1788.56 L1649.5 1788.87 L1651.5 1788.49 L1653.5 1788.97 L1655.5 1788.67 L1657.5 1788.85 L1659.5 1788.13 L1661.5 1787.94 L1663.5 1788.51 L1665.5 1788.57 L1667.5 1788.46 L1669.5 1788.9 L1671.5 1788.83 L1673.5 1788.39 L1675.5 1788.79 L1677.5 1787.23 L1679.5 1788.17 L1681.5 1788.52 L1683.5 1788.4 L1685.5 1788.1 L1687.5 1788.42 L1689.5 1788.38 L1691.5 1787.62 L1693.5 1788.27 L1695.5 1788.18 L1697.5 1787.56 L1699.5 1788.42 L1701.5 1787.3 L1703.5 1788.16 L1705.5 1788.25 L1707.5 1788.22 L1709.5 1787.67 L1711.5 1787.98 L1713.5 1787.49 L1715.5 1788.2 L1717.5 1788.29 L1719.5 1787.98 L1721.5 1787.8 L1723.5 1787.01 L1725.5 1787.93 L1727.5 1787.59 L1729.5 1787.71 L1731.5 1788.04 L1733.5 1788.05 L1735.5 1787.53 L1737.5 1787.71 L1739.5 1787.78 L1741.5 1787.33 L1743.5 1787.78 L1745.5 1787.52 L1747.5 1787.67 L1749.5 1787.54 L1751.5 1787.73 L1753.5 1787.1 L1755.5 1786.55 L1757.5 1787.74 L1759.5 1786.84 L1761.5 1786.39 L1763.5 1787.47 L1765.5 1787.2 L1767.5 1787.33 L1769.5 1787.28 L1771.5 1786.84 L1773.5 1786.73 L1775.5 1787.22 L1777.5 1787.36 L1779.5 1786.95 L1781.5 1787.3 L1783.5 1786.4 L1785.5 1787.44 L1787.5 1786.17 L1789.5 1787.26 L1791.5 1786.89 L1793.5 1786.59 L1795.5 1786.13 L1797.5 1786.21 L1799.5 1786.74 L1801.5 1786.41 L1803.5 1786.54 L1805.5 1786.55 L1807.5 1786.89 L1809.5 1785.85 L1811.5 1786.08 L1813.5 1786.77 L1815.5 1786.3 L1817.5 1786.56 L1819.5 1786.62 L1821.5 1786.25 L1823.5 1786.41 L1825.5 1786.38 L1827.5 1786.79 L1829.5 1786.83 L1831.5 1786.21 L1833.5 1786.19 L1835.5 1786.73 L1837.5 1786.13 L1839.5 1786.38 L1841.5 1785.82 L1843.5 1786.26 L1845.5 1786.36 L1847.5 1786.4 L1849.5 1786.44 L1851.5 1785.77 L1853.5 1786.52 L1855.5 1785.27 L1857.5 1785.59 L1859.5 1786.01 L1861.5 1786.32 L1863.5 1785.67 L1865.5 1786.25 L1867.5 1785.9 L1869.5 1785.64 L1871.5 1785.81 L1873.5 1784.91 L1875.5 1784.88 L1877.5 1784.96 L1879.5 1785.82 L1881.5 1785.59 L1883.5 1786.12 L1885.5 1785.02 L1887.5 1785.46 L1889.5 1785.14 L1891.5 1785.18 L1893.5 1785.84 L1895.5 1785.52 L1897.5 1785.83 L1899.5 1785.45 L1901.5 1785.68 L1903.5 1785.85 L1905.5 1785.15 L1907.5 1785.7 L1909.5 1785.48 L1911.5 1785.66 L1913.5 1785.51 L1915.5 1785.42 L1917.5 1785.38 L1919.5 1785.74 L1921.5 1785.61 L1923.5 1785.3 L1925.5 1785.57 L1927.5 1784.45 L1929.5 1785.49 L1931.5 1785.46 L1933.5 1784.86 L1935.5 1785.55 L1937.5 1785.06 L1939.5 1785 L1941.5 1785.46 L1943.5 1784.96 L1945.5 1785.35 L1947.5 1785.05 L1949.5 1784.71 L1951.5 1785.3 L1953.5 1785.06 L1955.5 1784.5 L1957.5 1784.49 L1959.5 1785.02 L1961.5 1784.87 L1963.5 1785.02 L1965.5 1785.1 L1967.5 1783.84 L1969.5 1784.25 L1971.5 1785.1 L1973.5 1784.57 L1975.5 1784.24 L1977.5 1784.14 L1979.5 1784.6 L1981.5 1784.91 L1983.5 1783.98 L1985.5 1784.82 L1987.5 1784.75 L1989.5 1784.76 L1991.5 1784.56 L1993.5 1784.8 L1995.5 1784.13 L1997.5 1784.46 L1999.5 1784.07 L2001.5 1784.72 L2003.5 1784.27 L2005.5 1783.82 L2007.5 1784.09 L2009.5 1783.4 L2011.5 1784.35 L2013.5 1783.56 L2015.5 1784.52 L2017.5 1784.18 L2019.5 1784.3 L2021.5 1784.13 L2023.5 1784.01 L2025.5 1784.43 L2027.5 1783.44 L2029.5 1784.04 L2031.5 1783.85 L2033.5 1783.91 L2035.5 1783.66 L2037.5 1783.89 L2039.5 1783.96 L2041.5 1782.62 L2043.5 1783.58 L2045.5 1783.77 L2047.5 1782.67 L2049.5 1782.9 L2051.5 1783.95 L2053.5 1783.55 L2055.5 1784 L2057.5 1783.7 L2059.5 1783.24 L2061.5 1783.05 L2063.5 1783.34 L2065.5 1783.59 L2067.5 1783.89 L2069.5 1782.99 L2071.5 1783.19 L2073.5 1783.54 L2075.5 1783.09 L2077.5 1782.5 L2079.5 1783.75 L2081.5 1782.56 L2083.5 1783.29 L2085.5 1783.45 L2087.5 1783.54 L2089.5 1782.52 L2091.5 1783.43 L2093.5 1782.93 L2095.5 1783.45 L2097.5 1783.48 L2099.5 1782.53 L2101.5 1782.61 L2103.5 1782.41 L2105.5 1782.97 L2107.5 1782.57 L2109.5 1782.44 L2111.5 1783.14 L2113.5 1782.73 L2115.5 1782.88 L2117.5 1781.28 L2119.5 1782.83 L2121.5 1782.7 L2123.5 1782.99 L2125.5 1782.73 L2127.5 1783 L2129.5 1782.49 L2131.5 1782.29 L2133.5 1782.66 L2135.5 1783.02 L2137.5 1781.88 L2139.5 1782.18 L2141.5 1782.44 L2143.5 1782.79 L2145.5 1782.75 L2147.5 1782.74 L2149.5 1782.4 L2151.5 1781.91 L2153.5 1782.6 L2155.5 1781.8 L2157.5 1782.51 L2159.5 1781.74 L2161.5 1782.66 L2163.5 1782.61 L2165.5 1781.43 L2167.5 1781.91 L2169.5 1781.64 L2171.5 1782.15 L2173.5 1781.79 L2175.5 1782.14 L2177.5 1782.23 L2179.5 1781.96 L2181.5 1781.32 L2183.5 1781.94 L2185.5 1780.58 L2187.5 1781.01 L2189.5 1782.23 L2191.5 1780.75 L2193.5 1782.27 L2195.5 1782.25 L2197.5 1780.67 L2199.5 1782.2 L2201.5 1782.09 L2203.5 1781.65 L2205.5 1781.74 L2207.5 1781.45 L2209.5 1781.79 L2211.5 1781.94 L2213.5 1781.62 L2215.5 1781.5 L2217.5 1781.97 L2219.5 1781.63 L2221.5 1781.58 L2223.5 1780.4 L2225.5 1781.51 L2227.5 1780.78 L2229.5 1781.79 L2231.5 1780.6 L2233.5 1781.81 L2235.5 1780.97 L2237.5 1780.75 L2239.5 1780.93 L2241.5 1781.71 L2243.5 1781.32 L2245.5 1781.02 L2247.5 1781.61 L2249.5 1781.41 L2251.5 1780.93 L2253.5 1779.42 L2255.5 1780.49 L2257.5 1781.47 L2259.5 1781.37 L2261.5 1781.19 L2263.5 1781.36 L2265.5 1781.31 L2267.5 1780.85 L2269.5 1780.75 L2271.5 1781.15 L2273.5 1780.2 L2275.5 1780.62 L2277.5 1781.24 L2279.5 1780.9 L2281.5 1780.14 L2283.5 1780.44 L2285.5 1781.13 L2287.5 1780.59 L2289.5 1780.12 L2291.5 1780.79 L2293.5 1780.97 L2295.5 1779.91 L2297.5 1780.08 L2299.5 1780.5 L2301.5 1780.49 L2303.5 1780.65 L2305.5 1780.22 L2307.5 1779.98 L2309.5 1780.29 L2311.5 1779.77 L2313.5 1780.73 L2315.5 1780.2 L2317.5 1780.51 L2319.5 1780.31 L2321.5 1780.38 L2323.5 1778.76 L2325.5 1780.2 L2327.5 1779.67 L2329.5 1780.41 L2331.5 1780.08 L2333.5 1779.79 L2335.5 1780.3 L2337.5 1779.49 L2339.5 1780.48 L2341.5 1779.99 L2343.5 1780.18 L2345.5 1779.92 L2347.5 1779.75 L2349.5 1780.29 L2351.5 1779.97 L2353.5 1779.98 L2355.5 1779.73 L2357.5 1779.87 L2359.5 1780 L2361.5 1780 L2363.5 1779.91 L2365.5 1779.87 L2367.5 1779.59 L2369.5 1778.59 L2371.5 1779.51 L2373.5 1779.69 L2375.5 1779.78 L2377.5 1779.47 L2379.5 1779.68 L2381.5 1779.22 L2383.5 1777.98 L2385.5 1779.49 L2387.5 1779.2 L2389.5 1779.79 L2391.5 1779.33 L2393.5 1779.37 L2395.5 1779.31 L2397.5 1778.43 L2399.5 1777.76 L2401.5 1779.5 L2403.5 1779.47 L2405.5 1779.66 L2407.5 1779.4 L2409.5 1778.67 L2411.5 1778.93 L2413.5 1779.06 L2415.5 1778.79 L2417.5 1779.45 L2419.5 1778.9 L2421.5 1779.4 L2423.5 1779.27 L2425.5 1779.03 L2427.5 1779.3 L2429.5 1778.93 L2431.5 1779.2 L2433.5 1778.49 L2435.5 1778.71 L2437.5 1778.43 L2439.5 1778.41 L2441.5 1778.92 L2443.5 1778.49 L2445.5 1778.41 L2447.5 1778.5 L2449.5 1778.95 L2449.5 1798.23 L2447.5 1798.92 L2445.5 1798.97 L2443.5 1798.73 L2441.5 1798.48 L2439.5 1798.58 L2437.5 1798.66 L2435.5 1798.82 L2433.5 1798.75 L2431.5 1799.43 L2429.5 1798.7 L2427.5 1798.44 L2425.5 1799.12 L2423.5 1798.88 L2421.5 1798.84 L2419.5 1799.75 L2417.5 1798.6 L2415.5 1799.76 L2413.5 1798.65 L2411.5 1798.91 L2409.5 1799.13 L2407.5 1799.41 L2405.5 1799.43 L2403.5 1799.44 L2401.5 1799.42 L2399.5 1799.62 L2397.5 1798.79 L2395.5 1799.2 L2393.5 1799.45 L2391.5 1799.48 L2389.5 1799.6 L2387.5 1800.1 L2385.5 1799.43 L2383.5 1799.03 L2381.5 1799.08 L2379.5 1799.13 L2377.5 1799.14 L2375.5 1799.34 L2373.5 1799.09 L2371.5 1799.78 L2369.5 1799.57 L2367.5 1799.65 L2365.5 1799.38 L2363.5 1800.12 L2361.5 1800.53 L2359.5 1799.78 L2357.5 1799.38 L2355.5 1799.39 L2353.5 1799.54 L2351.5 1800.21 L2349.5 1799.41 L2347.5 1799.66 L2345.5 1799.98 L2343.5 1799.56 L2341.5 1800.22 L2339.5 1800.56 L2337.5 1799.72 L2335.5 1800.59 L2333.5 1799.76 L2331.5 1799.97 L2329.5 1800.15 L2327.5 1800.19 L2325.5 1799.76 L2323.5 1800.2 L2321.5 1800.1 L2319.5 1800 L2317.5 1801.59 L2315.5 1800.68 L2313.5 1800.55 L2311.5 1800.72 L2309.5 1800.24 L2307.5 1799.99 L2305.5 1800.4 L2303.5 1800.48 L2301.5 1800.44 L2299.5 1800.26 L2297.5 1800.37 L2295.5 1801.26 L2293.5 1800.59 L2291.5 1800.95 L2289.5 1801.23 L2287.5 1800.65 L2285.5 1800.38 L2283.5 1800.51 L2281.5 1801.06 L2279.5 1800.65 L2277.5 1800.84 L2275.5 1800.52 L2273.5 1801.29 L2271.5 1800.69 L2269.5 1800.6 L2267.5 1801.05 L2265.5 1800.82 L2263.5 1800.95 L2261.5 1800.92 L2259.5 1800.51 L2257.5 1800.95 L2255.5 1801.98 L2253.5 1801.39 L2251.5 1801.61 L2249.5 1801.34 L2247.5 1800.79 L2245.5 1800.99 L2243.5 1800.96 L2241.5 1801.2 L2239.5 1802.21 L2237.5 1801.42 L2235.5 1800.93 L2233.5 1801.07 L2231.5 1802.2 L2229.5 1800.92 L2227.5 1801.22 L2225.5 1801.27 L2223.5 1802 L2221.5 1801.16 L2219.5 1801.38 L2217.5 1802.39 L2215.5 1801.54 L2213.5 1802.27 L2211.5 1802.43 L2209.5 1802.21 L2207.5 1801.16 L2205.5 1801.7 L2203.5 1801.66 L2201.5 1801.55 L2199.5 1801.64 L2197.5 1802.41 L2195.5 1801.32 L2193.5 1802.1 L2191.5 1802.05 L2189.5 1801.52 L2187.5 1801.88 L2185.5 1801.57 L2183.5 1801.49 L2181.5 1801.55 L2179.5 1802.01 L2177.5 1802.53 L2175.5 1802.23 L2173.5 1801.58 L2171.5 1802.2 L2169.5 1801.87 L2167.5 1801.93 L2165.5 1803.17 L2163.5 1802.23 L2161.5 1802.54 L2159.5 1801.89 L2157.5 1801.87 L2155.5 1802.37 L2153.5 1802.38 L2151.5 1802.39 L2149.5 1802.41 L2147.5 1802.07 L2145.5 1802.17 L2143.5 1802.28 L2141.5 1802.08 L2139.5 1802.09 L2137.5 1802.19 L2135.5 1802.21 L2133.5 1802.66 L2131.5 1802.41 L2129.5 1802.17 L2127.5 1802.32 L2125.5 1802.49 L2123.5 1803.26 L2121.5 1802.56 L2119.5 1802.32 L2117.5 1802.87 L2115.5 1802.59 L2113.5 1802.35 L2111.5 1802.81 L2109.5 1802.74 L2107.5 1802.64 L2105.5 1802.71 L2103.5 1802.67 L2101.5 1803.19 L2099.5 1802.53 L2097.5 1802.85 L2095.5 1802.92 L2093.5 1803.32 L2091.5 1802.61 L2089.5 1803.73 L2087.5 1803.17 L2085.5 1802.99 L2083.5 1803.52 L2081.5 1803.33 L2079.5 1802.8 L2077.5 1803.43 L2075.5 1802.97 L2073.5 1802.89 L2071.5 1803.02 L2069.5 1803.43 L2067.5 1803.94 L2065.5 1802.94 L2063.5 1803.03 L2061.5 1803.17 L2059.5 1803.14 L2057.5 1803.94 L2055.5 1803.7 L2053.5 1803.12 L2051.5 1804.24 L2049.5 1803.6 L2047.5 1803.77 L2045.5 1803.35 L2043.5 1803.4 L2041.5 1803.68 L2039.5 1803.67 L2037.5 1804.38 L2035.5 1803.67 L2033.5 1803.71 L2031.5 1803.55 L2029.5 1804.42 L2027.5 1804.11 L2025.5 1804.19 L2023.5 1803.64 L2021.5 1803.6 L2019.5 1805 L2017.5 1804.47 L2015.5 1803.82 L2013.5 1805.06 L2011.5 1803.91 L2009.5 1804.07 L2007.5 1805.25 L2005.5 1804.3 L2003.5 1804.34 L2001.5 1804.89 L1999.5 1803.95 L1997.5 1803.89 L1995.5 1804.36 L1993.5 1804.21 L1991.5 1804.33 L1989.5 1804.5 L1987.5 1804.65 L1985.5 1804.46 L1983.5 1804.51 L1981.5 1805.4 L1979.5 1804.94 L1977.5 1804.91 L1975.5 1804.13 L1973.5 1805.02 L1971.5 1804.4 L1969.5 1805.01 L1967.5 1804.78 L1965.5 1804.27 L1963.5 1805.56 L1961.5 1804.59 L1959.5 1805.57 L1957.5 1805.34 L1955.5 1804.47 L1953.5 1805.27 L1951.5 1804.7 L1949.5 1805.01 L1947.5 1804.86 L1945.5 1805.96 L1943.5 1805.32 L1941.5 1805.1 L1939.5 1804.93 L1937.5 1805.45 L1935.5 1804.7 L1933.5 1805.57 L1931.5 1804.82 L1929.5 1805.03 L1927.5 1805.37 L1925.5 1805.88 L1923.5 1805.52 L1921.5 1805.11 L1919.5 1804.92 L1917.5 1805.14 L1915.5 1805.08 L1913.5 1805.93 L1911.5 1805.06 L1909.5 1805.54 L1907.5 1805 L1905.5 1805.77 L1903.5 1805.56 L1901.5 1805.3 L1899.5 1805.47 L1897.5 1805.52 L1895.5 1805.85 L1893.5 1805.53 L1891.5 1805.15 L1889.5 1807.24 L1887.5 1805.62 L1885.5 1805.44 L1883.5 1805.92 L1881.5 1805.96 L1879.5 1805.74 L1877.5 1805.62 L1875.5 1805.35 L1873.5 1806.07 L1871.5 1805.4 L1869.5 1806.63 L1867.5 1805.53 L1865.5 1805.5 L1863.5 1805.69 L1861.5 1805.65 L1859.5 1806.29 L1857.5 1806.59 L1855.5 1806.06 L1853.5 1805.68 L1851.5 1805.88 L1849.5 1806.54 L1847.5 1805.86 L1845.5 1805.94 L1843.5 1806.86 L1841.5 1806.49 L1839.5 1806.57 L1837.5 1807.37 L1835.5 1807.19 L1833.5 1806.27 L1831.5 1806.37 L1829.5 1805.97 L1827.5 1807.05 L1825.5 1806.08 L1823.5 1806.38 L1821.5 1806.91 L1819.5 1806.04 L1817.5 1806.15 L1815.5 1806.51 L1813.5 1806.11 L1811.5 1806.37 L1809.5 1806.55 L1807.5 1806.5 L1805.5 1806.82 L1803.5 1806.94 L1801.5 1806.87 L1799.5 1806.43 L1797.5 1807.02 L1795.5 1806.47 L1793.5 1807.33 L1791.5 1806.77 L1789.5 1807.13 L1787.5 1806.85 L1785.5 1806.55 L1783.5 1807.31 L1781.5 1806.56 L1779.5 1806.69 L1777.5 1807.56 L1775.5 1807.5 L1773.5 1806.87 L1771.5 1807.15 L1769.5 1807.12 L1767.5 1807.07 L1765.5 1807.67 L1763.5 1807.29 L1761.5 1807.26 L1759.5 1806.83 L1757.5 1806.92 L1755.5 1807.27 L1753.5 1806.94 L1751.5 1807.2 L1749.5 1807.34 L1747.5 1807.59 L1745.5 1807.62 L1743.5 1807.14 L1741.5 1807.79 L1739.5 1807.19 L1737.5 1808.21 L1735.5 1807.28 L1733.5 1808.1 L1731.5 1807.92 L1729.5 1807.98 L1727.5 1807.5 L1725.5 1808.45 L1723.5 1808.54 L1721.5 1808.05 L1719.5 1807.3 L1717.5 1807.5 L1715.5 1808.66 L1713.5 1807.59 L1711.5 1807.78 L1709.5 1808.08 L1707.5 1807.93 L1705.5 1807.99 L1703.5 1807.74 L1701.5 1808.26 L1699.5 1807.55 L1697.5 1807.96 L1695.5 1808.74 L1693.5 1808.43 L1691.5 1808.02 L1689.5 1807.87 L1687.5 1808.57 L1685.5 1808.34 L1683.5 1809.06 L1681.5 1808.11 L1679.5 1807.87 L1677.5 1808.31 L1675.5 1807.93 L1673.5 1808.75 L1671.5 1808.35 L1669.5 1808.29 L1667.5 1808.45 L1665.5 1808.87 L1663.5 1808.04 L1661.5 1808.53 L1659.5 1808.27 L1657.5 1808.48 L1655.5 1808.74 L1653.5 1808.57 L1651.5 1808.76 L1649.5 1808.49 L1647.5 1809.94 L1645.5 1809.2 L1643.5 1808.36 L1641.5 1808.73 L1639.5 1809.03 L1637.5 1808.51 L1635.5 1809.12 L1633.5 1809.72 L1631.5 1808.78 L1629.5 1808.84 L1627.5 1809.23 L1625.5 1809.04 L1623.5 1808.53 L1621.5 1809.14 L1619.5 1809.1 L1617.5 1808.69 L1615.5 1808.9 L1613.5 1808.73 L1611.5 1808.76 L1609.5 1808.9 L1607.5 1809.99 L1605.5 1809.72 L1603.5 1809.4 L1601.5 1808.85 L1599.5 1809.14 L1597.5 1809.04 L1595.5 1809.56 L1593.5 1808.89 L1591.5 1809.84 L1589.5 1809.74 L1587.5 1809.06 L1585.5 1809.85 L1583.5 1809.65 L1581.5 1809.19 L1579.5 1809.41 L1577.5 1809.17 L1575.5 1809.27 L1573.5 1809.46 L1571.5 1810.07 L1569.5 1810.18 L1567.5 1809.4 L1565.5 1809.76 L1563.5 1809.76 L1561.5 1810.44 L1559.5 1810.19 L1557.5 1809.55 L1555.5 1810.09 L1553.5 1810.27 L1551.5 1810.12 L1549.5 1809.59 L1547.5 1810.56 L1545.5 1810.75 L1543.5 1810.39 L1541.5 1810.76 L1539.5 1810.15 L1537.5 1809.69 L1535.5 1810.51 L1533.5 1809.82 L1531.5 1810.55 L1529.5 1810.02 L1527.5 1810.29 L1525.5 1809.94 L1523.5 1810.08 L1521.5 1811.08 L1519.5 1810.86 L1517.5 1810 L1515.5 1810.74 L1513.5 1809.98 L1511.5 1810.69 L1509.5 1810.42 L1507.5 1810.94 L1505.5 1810.31 L1503.5 1810.71 L1501.5 1810.55 L1499.5 1810.47 L1497.5 1810.18 L1495.5 1810.32 L1493.5 1810.22 L1491.5 1810.54 L1489.5 1810.62 L1487.5 1810.5 L1485.5 1810.92 Z" fill="#7e2f8e" stroke="#7e2f8e" stroke-width="1" clip-path="url(#cD)"/>
<path d="M1485.5 1739.85 L1486.3 1740.58 L1487.11 1741.31 L1487.91 1742.03 L1488.71 1742.75 L1489.52 1743.46 L1490.32 1744.18 L1491.12 1744.88 L1491.93 1745.58 L1492.73 1746.28 L1493.53 1746.98 L1494.34 1747.67 L1495.14 1748.35 L1495.94 1749.03 L1496.75 1749.71 L1497.55 1750.39 L1498.35 1751.06 L1499.16 1751.72 L1499.96 1752.38 L1500.76 1753.04 L1501.57 1753.7 L1502.37 1754.35 L1503.17 1754.99 L1503.98 1755.64 L1504.78 1756.28 L1505.58 1756.91 L1506.39 1757.54 L1507.19 1758.17 L1507.99 1758.79 L1508.8 1759.41 L1509.6 1760.03 L1510.4 1760.64 L1511.21 1761.25 L1512.01 1761.86 L1512.81 1762.46 L1513.62 1763.06 L1514.42 1763.65 L1515.22 1764.24 L1516.03 1764.83 L1516.83 1765.41 L1517.63 1765.99 L1518.44 1766.57 L1519.24 1767.14 L1520.04 1767.71 L1520.85 1768.27 L1521.65 1768.84 L1522.45 1769.39 L1523.26 1769.95 L1524.06 1770.5 L1524.86 1771.05 L1525.67 1771.59 L1526.47 1772.13 L1527.27 1772.67 L1528.08 1773.21 L1528.88 1773.74 L1529.68 1774.26 L1530.49 1774.79 L1531.29 1775.31 L1532.09 1775.83 L1532.9 1776.34 L1533.7 1776.85 L1534.5 1777.36 L1535.31 1777.86 L1536.11 1778.36 L1536.91 1778.86 L1537.72 1779.36 L1538.52 1779.85 L1539.32 1780.34 L1540.13 1780.82 L1540.93 1781.3 L1541.73 1781.78 L1542.54 1782.26 L1543.34 1782.73 L1544.14 1783.2 L1544.95 1783.67 L1545.75 1784.13 L1546.55 1784.59 L1547.36 1785.05 L1548.16 1785.5 L1548.96 1785.95 L1549.77 1786.4 L1550.57 1786.84 L1551.37 1787.29 L1552.18 1787.72 L1552.98 1788.16 L1553.78 1788.59 L1554.59 1789.02 L1555.39 1789.45 L1556.19 1789.87 L1557 1790.3 L1557.8 1790.71 L1558.6 1791.13 L1559.41 1791.54 L1560.21 1791.95 L1561.01 1792.36 L1561.82 1792.76 L1562.62 1793.16 L1563.42 1793.56 L1564.23 1793.96 L1565.03 1794.35 L1565.83 1794.74 L1566.64 1795.13 L1567.44 1795.51 L1568.24 1795.9 L1569.05 1796.28 L1569.85 1796.65 L1570.65 1797.03 L1571.46 1797.4 L1572.26 1797.77 L1573.06 1798.13 L1573.87 1798.5 L1574.67 1798.86 L1575.47 1799.21 L1576.28 1799.57 L1577.08 1799.92 L1577.88 1800.27 L1578.69 1800.62 L1579.49 1800.97 L1580.29 1801.31 L1581.1 1801.65 L1581.9 1801.99 L1582.7 1802.32 L1583.51 1802.66 L1584.31 1802.99 L1585.11 1803.31 L1585.92 1803.64 L1586.72 1803.96 L1587.52 1804.28 L1588.33 1804.6 L1589.13 1804.92 L1589.93 1805.23 L1590.74 1805.54 L1591.54 1805.85 L1592.34 1806.16 L1593.15 1806.46 L1593.95 1806.76 L1594.75 1807.06 L1595.56 1807.36 L1596.36 1807.65 L1597.16 1807.95 L1597.97 1808.24 L1598.77 1808.53 L1599.57 1808.81 L1600.38 1809.1 L1601.18 1809.38 L1601.98 1809.66 L1602.79 1809.93 L1603.59 1810.21 L1604.39 1810.48 L1605.2 1810.75 L1606 1811.02 L1606.8 1811.28 L1607.61 1811.55 L1608.41 1811.81 L1609.21 1812.07 L1610.02 1812.33 L1610.82 1812.58 L1611.62 1812.84 L1612.43 1813.09 L1613.23 1813.34 L1614.03 1813.59 L1614.84 1813.83 L1615.64 1814.07 L1616.44 1814.32 L1617.25 1814.55 L1618.05 1814.79 L1618.85 1815.03 L1619.66 1815.26 L1620.46 1815.49 L1621.26 1815.72 L1622.07 1815.95 L1622.87 1816.17 L1623.67 1816.4 L1624.48 1816.62 L1625.28 1816.84 L1626.08 1817.06 L1626.89 1817.27 L1627.69 1817.49 L1628.49 1817.7 L1629.3 1817.91 L1630.1 1818.12 L1630.9 1818.33 L1631.71 1818.53 L1632.51 1818.74 L1633.31 1818.94 L1634.12 1819.14 L1634.92 1819.34 L1635.72 1819.53 L1636.53 1819.73 L1637.33 1819.92 L1638.13 1820.11 L1638.94 1820.3 L1639.74 1820.49 L1640.54 1820.67 L1641.35 1820.86 L1642.15 1821.04 L1642.95 1821.22 L1643.76 1821.4 L1644.56 1821.58 L1645.36 1821.75 L1646.17 1821.93 L1646.97 1822.1 L1647.77 1822.27 L1648.58 1822.44 L1649.38 1822.61 L1650.18 1822.78 L1650.99 1822.94 L1651.79 1823.1 L1652.59 1823.27 L1653.4 1823.43 L1654.2 1823.59 L1655 1823.74 L1655.81 1823.9 L1656.61 1824.05 L1657.41 1824.2 L1658.22 1824.36 L1659.02 1824.51 L1659.82 1824.65 L1660.63 1824.8 L1661.43 1824.95 L1662.23 1825.09 L1663.04 1825.23 L1663.84 1825.37 L1664.64 1825.51 L1665.45 1825.65 L1666.25 1825.79 L1667.05 1825.92 L1667.86 1826.06 L1668.66 1826.19 L1669.46 1826.32 L1670.27 1826.45 L1671.07 1826.58 L1671.87 1826.71 L1672.68 1826.83 L1673.48 1826.96 L1674.28 1827.08 L1675.09 1827.2 L1675.89 1827.32 L1676.69 1827.44 L1677.5 1827.56 L1678.3 1827.68 L1679.1 1827.79 L1679.91 1827.91 L1680.71 1828.02 L1681.51 1828.13 L1682.32 1828.24 L1683.12 1828.35 L1683.92 1828.46 L1684.73 1828.57 L1685.53 1828.67 L1686.33 1828.78 L1687.14 1828.88 L1687.94 1828.98 L1688.74 1829.08 L1689.55 1829.18 L1690.35 1829.28 L1691.15 1829.38 L1691.96 1829.48 L1692.76 1829.57 L1693.56 1829.67 L1694.37 1829.76 L1695.17 1829.85 L1695.97 1829.94 L1696.78 1830.03 L1697.58 1830.12 L1698.38 1830.21 L1699.19 1830.3 L1699.99 1830.38 L1700.79 1830.47 L1701.6 1830.55 L1702.4 1830.63 L1703.2 1830.71 L1704.01 1830.79 L1704.81 1830.87 L1705.61 1830.95 L1706.42 1831.03 L1707.22 1831.11 L1708.02 1831.18 L1708.83 1831.26 L1709.63 1831.33 L1710.43 1831.4 L1711.24 1831.48 L1712.04 1831.55 L1712.84 1831.62 L1713.65 1831.69 L1714.45 1831.75 L1715.25 1831.82 L1716.06 1831.89 L1716.86 1831.95 L1717.66 1832.02 L1718.47 1832.08 L1719.27 1832.14 L1720.07 1832.21 L1720.88 1832.27 L1721.68 1832.33 L1722.48 1832.39 L1723.29 1832.44 L1724.09 1832.5 L1724.89 1832.56 L1725.7 1832.62 L1726.5 1832.67 L1727.3 1832.73 L1728.11 1832.78 L1728.91 1832.83 L1729.71 1832.88 L1730.52 1832.93 L1731.32 1832.99 L1732.12 1833.04 L1732.93 1833.08 L1733.73 1833.13 L1734.53 1833.18 L1735.34 1833.23 L1736.14 1833.27 L1736.94 1833.32 L1737.75 1833.36 L1738.55 1833.41 L1739.35 1833.45 L1740.16 1833.49 L1740.96 1833.53 L1741.76 1833.57 L1742.57 1833.62 L1743.37 1833.65 L1744.17 1833.69 L1744.98 1833.73 L1745.78 1833.77 L1746.58 1833.81 L1747.39 1833.84 L1748.19 1833.88 L1748.99 1833.91 L1749.8 1833.95 L1750.6 1833.98 L1751.4 1834.02 L1752.21 1834.05 L1753.01 1834.08 L1753.81 1834.11 L1754.62 1834.14 L1755.42 1834.17 L1756.22 1834.2 L1757.03 1834.23 L1757.83 1834.26 L1758.63 1834.29 L1759.44 1834.32 L1760.24 1834.34 L1761.04 1834.37 L1761.85 1834.4 L1762.65 1834.42 L1763.45 1834.45 L1764.26 1834.47 L1765.06 1834.49 L1765.86 1834.52 L1766.67 1834.54 L1767.47 1834.56 L1768.27 1834.58 L1769.08 1834.6 L1769.88 1834.62 L1770.68 1834.64 L1771.49 1834.66 L1772.29 1834.68 L1773.09 1834.7 L1773.9 1834.72 L1774.7 1834.74 L1775.5 1834.76 L1776.31 1834.77 L1777.11 1834.79 L1777.91 1834.81 L1778.72 1834.82 L1779.52 1834.84 L1780.32 1834.85 L1781.13 1834.87 L1781.93 1834.88 L1782.73 1834.89 L1783.54 1834.91 L1784.34 1834.92 L1785.14 1834.93 L1785.95 1834.94 L1786.75 1834.95 L1787.55 1834.97 L1788.36 1834.98 L1789.16 1834.99 L1789.96 1835 L1790.77 1835.01 L1791.57 1835.02 L1792.37 1835.03 L1793.18 1835.03 L1793.98 1835.04 L1794.78 1835.05 L1795.59 1835.06 L1796.39 1835.07 L1797.19 1835.07 L1798 1835.08 L1798.8 1835.09 L1799.6 1835.09 L1800.41 1835.1 L1801.21 1835.1 L1802.01 1835.11 L1802.82 1835.11 L1803.62 1835.12 L1804.42 1835.12 L1805.23 1835.13 L1806.03 1835.13 L1806.83 1835.13 L1807.64 1835.14 L1808.44 1835.14 L1809.24 1835.14 L1810.05 1835.14 L1810.85 1835.15 L1811.65 1835.15 L1812.46 1835.15 L1813.26 1835.15 L1814.06 1835.15 L1814.87 1835.15 L1815.67 1835.16 L1816.47 1835.16 L1817.28 1835.16 L1818.08 1835.16 L1818.88 1835.16 L1819.69 1835.16 L1820.49 1835.16 L1821.29 1835.15 L1822.1 1835.15 L1822.9 1835.15 L1823.7 1835.15 L1824.51 1835.15 L1825.31 1835.15 L1826.11 1835.15 L1826.92 1835.14 L1827.72 1835.14 L1828.52 1835.14 L1829.33 1835.14 L1830.13 1835.13 L1830.93 1835.13 L1831.74 1835.13 L1832.54 1835.12 L1833.34 1835.12 L1834.15 1835.12 L1834.95 1835.11 L1835.75 1835.11 L1836.56 1835.11 L1837.36 1835.1 L1838.16 1835.1 L1838.97 1835.09 L1839.77 1835.09 L1840.57 1835.08 L1841.38 1835.08 L1842.18 1835.08 L1842.98 1835.07 L1843.79 1835.07 L1844.59 1835.06 L1845.39 1835.05 L1846.2 1835.05 L1847 1835.04 L1847.8 1835.04 L1848.61 1835.03 L1849.41 1835.03 L1850.21 1835.02 L1851.02 1835.02 L1851.82 1835.01 L1852.62 1835 L1853.43 1835 L1854.23 1834.99 L1855.03 1834.98 L1855.84 1834.98 L1856.64 1834.97 L1857.44 1834.97 L1858.25 1834.96 L1859.05 1834.95 L1859.85 1834.95 L1860.66 1834.94 L1861.46 1834.93 L1862.26 1834.93 L1863.07 1834.92 L1863.87 1834.91 L1864.67 1834.91 L1865.48 1834.9 L1866.28 1834.89 L1867.08 1834.88 L1867.89 1834.88 L1868.69 1834.87 L1869.49 1834.86 L1870.3 1834.86 L1871.1 1834.85 L1871.9 1834.84 L1872.71 1834.83 L1873.51 1834.83 L1874.31 1834.82 L1875.12 1834.81 L1875.92 1834.81 L1876.72 1834.8 L1877.53 1834.79 L1878.33 1834.78 L1879.13 1834.78 L1879.94 1834.77 L1880.74 1834.76 L1881.54 1834.76 L1882.35 1834.75 L1883.15 1834.74 L1883.95 1834.73 L1884.76 1834.73 L1885.56 1834.72 L1886.36 1834.71 L1887.17 1834.71 L1887.97 1834.7 L1888.77 1834.69 L1889.58 1834.68 L1890.38 1834.68 L1891.18 1834.67 L1891.99 1834.66 L1892.79 1834.66 L1893.59 1834.65 L1894.4 1834.64 L1895.2 1834.64 L1896 1834.63 L1896.81 1834.62 L1897.61 1834.62 L1898.41 1834.61 L1899.22 1834.6 L1900.02 1834.6 L1900.82 1834.59 L1901.63 1834.58 L1902.43 1834.58 L1903.23 1834.57 L1904.04 1834.56 L1904.84 1834.56 L1905.64 1834.55 L1906.45 1834.54 L1907.25 1834.54 L1908.05 1834.53 L1908.86 1834.53 L1909.66 1834.52 L1910.46 1834.51 L1911.27 1834.51 L1912.07 1834.5 L1912.87 1834.5 L1913.68 1834.49 L1914.48 1834.49 L1915.28 1834.48 L1916.09 1834.48 L1916.89 1834.47 L1917.69 1834.47 L1918.5 1834.46 L1919.3 1834.45 L1920.1 1834.45 L1920.91 1834.44 L1921.71 1834.44 L1922.51 1834.44 L1923.32 1834.43 L1924.12 1834.43 L1924.92 1834.42 L1925.73 1834.42 L1926.53 1834.41 L1927.33 1834.41 L1928.14 1834.4 L1928.94 1834.4 L1929.74 1834.4 L1930.55 1834.39 L1931.35 1834.39 L1932.15 1834.38 L1932.96 1834.38 L1933.76 1834.38 L1934.56 1834.37 L1935.37 1834.37 L1936.17 1834.37 L1936.97 1834.36 L1937.78 1834.36 L1938.58 1834.36 L1939.38 1834.35 L1940.19 1834.35 L1940.99 1834.35 L1941.79 1834.35 L1942.6 1834.34 L1943.4 1834.34 L1944.2 1834.34 L1945.01 1834.34 L1945.81 1834.33 L1946.61 1834.33 L1947.42 1834.33 L1948.22 1834.33 L1949.02 1834.33 L1949.83 1834.32 L1950.63 1834.32 L1951.43 1834.32 L1952.24 1834.32 L1953.04 1834.32 L1953.84 1834.32 L1954.65 1834.32 L1955.45 1834.31 L1956.25 1834.31 L1957.06 1834.31 L1957.86 1834.31 L1958.66 1834.31 L1959.47 1834.31 L1960.27 1834.31 L1961.07 1834.31 L1961.88 1834.31 L1962.68 1834.31 L1963.48 1834.31 L1964.29 1834.31 L1965.09 1834.31 L1965.89 1834.31 L1966.7 1834.31 L1967.5 1834.31 L1968.3 1834.31 L1969.11 1834.31 L1969.91 1834.31 L1970.71 1834.31 L1971.52 1834.31 L1972.32 1834.31 L1973.12 1834.31 L1973.93 1834.32 L1974.73 1834.32 L1975.53 1834.32 L1976.34 1834.32 L1977.14 1834.32 L1977.94 1834.32 L1978.75 1834.32 L1979.55 1834.33 L1980.35 1834.33 L1981.16 1834.33 L1981.96 1834.33 L1982.76 1834.33 L1983.57 1834.34 L1984.37 1834.34 L1985.17 1834.34 L1985.98 1834.34 L1986.78 1834.35 L1987.58 1834.35 L1988.39 1834.35 L1989.19 1834.35 L1989.99 1834.36 L1990.8 1834.36 L1991.6 1834.36 L1992.4 1834.37 L1993.21 1834.37 L1994.01 1834.37 L1994.81 1834.38 L1995.62 1834.38 L1996.42 1834.38 L1997.22 1834.39 L1998.03 1834.39 L1998.83 1834.39 L1999.63 1834.4 L2000.44 1834.4 L2001.24 1834.41 L2002.04 1834.41 L2002.85 1834.41 L2003.65 1834.42 L2004.45 1834.42 L2005.26 1834.43 L2006.06 1834.43 L2006.86 1834.44 L2007.67 1834.44 L2008.47 1834.45 L2009.27 1834.45 L2010.08 1834.46 L2010.88 1834.46 L2011.68 1834.46 L2012.49 1834.47 L2013.29 1834.47 L2014.09 1834.48 L2014.9 1834.48 L2015.7 1834.49 L2016.5 1834.49 L2017.31 1834.5 L2018.11 1834.51 L2018.91 1834.51 L2019.72 1834.52 L2020.52 1834.52 L2021.32 1834.53 L2022.13 1834.53 L2022.93 1834.54 L2023.73 1834.54 L2024.54 1834.55 L2025.34 1834.55 L2026.14 1834.56 L2026.95 1834.57 L2027.75 1834.57 L2028.55 1834.58 L2029.36 1834.58 L2030.16 1834.59 L2030.96 1834.59 L2031.77 1834.6 L2032.57 1834.61 L2033.37 1834.61 L2034.18 1834.62 L2034.98 1834.62 L2035.78 1834.63 L2036.59 1834.64 L2037.39 1834.64 L2038.19 1834.65 L2039 1834.65 L2039.8 1834.66 L2040.6 1834.67 L2041.41 1834.67 L2042.21 1834.68 L2043.01 1834.68 L2043.82 1834.69 L2044.62 1834.7 L2045.42 1834.7 L2046.23 1834.71 L2047.03 1834.71 L2047.83 1834.72 L2048.64 1834.73 L2049.44 1834.73 L2050.24 1834.74 L2051.05 1834.74 L2051.85 1834.75 L2052.65 1834.76 L2053.46 1834.76 L2054.26 1834.77 L2055.06 1834.77 L2055.87 1834.78 L2056.67 1834.79 L2057.47 1834.79 L2058.28 1834.8 L2059.08 1834.8 L2059.88 1834.81 L2060.69 1834.81 L2061.49 1834.82 L2062.29 1834.82 L2063.1 1834.83 L2063.9 1834.84 L2064.7 1834.84 L2065.51 1834.85 L2066.31 1834.85 L2067.11 1834.86 L2067.92 1834.86 L2068.72 1834.87 L2069.52 1834.87 L2070.33 1834.88 L2071.13 1834.88 L2071.93 1834.89 L2072.74 1834.89 L2073.54 1834.89 L2074.34 1834.9 L2075.15 1834.9 L2075.95 1834.91 L2076.75 1834.91 L2077.56 1834.92 L2078.36 1834.92 L2079.16 1834.92 L2079.97 1834.93 L2080.77 1834.93 L2081.57 1834.94 L2082.38 1834.94 L2083.18 1834.94 L2083.98 1834.95 L2084.79 1834.95 L2085.59 1834.95 L2086.39 1834.96 L2087.2 1834.96 L2088 1834.96 L2088.8 1834.96 L2089.61 1834.97 L2090.41 1834.97 L2091.21 1834.97 L2092.02 1834.97 L2092.82 1834.97 L2093.62 1834.98 L2094.43 1834.98 L2095.23 1834.98 L2096.03 1834.98 L2096.84 1834.98 L2097.64 1834.98 L2098.44 1834.98 L2099.25 1834.98 L2100.05 1834.99 L2100.85 1834.99 L2101.66 1834.99 L2102.46 1834.99 L2103.26 1834.99 L2104.07 1834.99 L2104.87 1834.99 L2105.67 1834.98 L2106.48 1834.98 L2107.28 1834.98 L2108.08 1834.98 L2108.89 1834.98 L2109.69 1834.98 L2110.49 1834.98 L2111.3 1834.97 L2112.1 1834.97 L2112.9 1834.97 L2113.71 1834.97 L2114.51 1834.96 L2115.31 1834.96 L2116.12 1834.96 L2116.92 1834.95 L2117.72 1834.95 L2118.53 1834.95 L2119.33 1834.94 L2120.13 1834.94 L2120.94 1834.93 L2121.74 1834.93 L2122.54 1834.92 L2123.35 1834.92 L2124.15 1834.91 L2124.95 1834.91 L2125.76 1834.9 L2126.56 1834.89 L2127.36 1834.89 L2128.17 1834.88 L2128.97 1834.87 L2129.77 1834.86 L2130.58 1834.86 L2131.38 1834.85 L2132.18 1834.84 L2132.99 1834.83 L2133.79 1834.82 L2134.59 1834.81 L2135.4 1834.8 L2136.2 1834.79 L2137 1834.78 L2137.81 1834.77 L2138.61 1834.76 L2139.41 1834.75 L2140.22 1834.74 L2141.02 1834.73 L2141.82 1834.72 L2142.63 1834.7 L2143.43 1834.69 L2144.23 1834.68 L2145.04 1834.66 L2145.84 1834.65 L2146.64 1834.64 L2147.45 1834.62 L2148.25 1834.61 L2149.05 1834.59 L2149.86 1834.58 L2150.66 1834.56 L2151.46 1834.54 L2152.27 1834.53 L2153.07 1834.51 L2153.87 1834.49 L2154.68 1834.47 L2155.48 1834.46 L2156.28 1834.44 L2157.09 1834.42 L2157.89 1834.4 L2158.69 1834.38 L2159.5 1834.36 L2160.3 1834.34 L2161.1 1834.32 L2161.91 1834.3 L2162.71 1834.27 L2163.51 1834.25 L2164.32 1834.23 L2165.12 1834.21 L2165.92 1834.18 L2166.73 1834.16 L2167.53 1834.13 L2168.33 1834.11 L2169.14 1834.08 L2169.94 1834.06 L2170.74 1834.03 L2171.55 1834.01 L2172.35 1833.98 L2173.15 1833.95 L2173.96 1833.92 L2174.76 1833.89 L2175.56 1833.86 L2176.37 1833.84 L2177.17 1833.8 L2177.97 1833.77 L2178.78 1833.74 L2179.58 1833.71 L2180.38 1833.68 L2181.19 1833.65 L2181.99 1833.61 L2182.79 1833.58 L2183.6 1833.55 L2184.4 1833.51 L2185.2 1833.48 L2186.01 1833.44 L2186.81 1833.4 L2187.61 1833.37 L2188.42 1833.33 L2189.22 1833.29 L2190.02 1833.25 L2190.83 1833.22 L2191.63 1833.18 L2192.43 1833.14 L2193.24 1833.09 L2194.04 1833.05 L2194.84 1833.01 L2195.65 1832.97 L2196.45 1832.93 L2197.25 1832.88 L2198.06 1832.84 L2198.86 1832.79 L2199.66 1832.75 L2200.47 1832.7 L2201.27 1832.66 L2202.07 1832.61 L2202.88 1832.56 L2203.68 1832.51 L2204.48 1832.46 L2205.29 1832.41 L2206.09 1832.36 L2206.89 1832.31 L2207.7 1832.26 L2208.5 1832.21 L2209.3 1832.15 L2210.11 1832.1 L2210.91 1832.05 L2211.71 1831.99 L2212.52 1831.94 L2213.32 1831.88 L2214.12 1831.82 L2214.93 1831.77 L2215.73 1831.71 L2216.53 1831.65 L2217.34 1831.59 L2218.14 1831.53 L2218.94 1831.47 L2219.75 1831.4 L2220.55 1831.34 L2221.35 1831.28 L2222.16 1831.21 L2222.96 1831.15 L2223.76 1831.08 L2224.57 1831.02 L2225.37 1830.95 L2226.17 1830.88 L2226.98 1830.82 L2227.78 1830.75 L2228.58 1830.68 L2229.39 1830.61 L2230.19 1830.53 L2230.99 1830.46 L2231.8 1830.39 L2232.6 1830.31 L2233.4 1830.24 L2234.21 1830.16 L2235.01 1830.09 L2235.81 1830.01 L2236.62 1829.93 L2237.42 1829.85 L2238.22 1829.78 L2239.03 1829.69 L2239.83 1829.61 L2240.63 1829.53 L2241.44 1829.45 L2242.24 1829.37 L2243.04 1829.28 L2243.85 1829.2 L2244.65 1829.11 L2245.45 1829.02 L2246.26 1828.93 L2247.06 1828.85 L2247.86 1828.76 L2248.67 1828.67 L2249.47 1828.57 L2250.27 1828.48 L2251.08 1828.39 L2251.88 1828.3 L2252.68 1828.2 L2253.49 1828.1 L2254.29 1828.01 L2255.09 1827.91 L2255.9 1827.81 L2256.7 1827.71 L2257.5 1827.61 L2258.31 1827.51 L2259.11 1827.41 L2259.91 1827.3 L2260.72 1827.2 L2261.52 1827.1 L2262.32 1826.99 L2263.13 1826.88 L2263.93 1826.77 L2264.73 1826.67 L2265.54 1826.56 L2266.34 1826.44 L2267.14 1826.33 L2267.95 1826.22 L2268.75 1826.11 L2269.55 1825.99 L2270.36 1825.88 L2271.16 1825.76 L2271.96 1825.64 L2272.77 1825.52 L2273.57 1825.4 L2274.37 1825.28 L2275.18 1825.16 L2275.98 1825.04 L2276.78 1824.91 L2277.59 1824.79 L2278.39 1824.66 L2279.19 1824.53 L2280 1824.4 L2280.8 1824.27 L2281.6 1824.14 L2282.41 1824.01 L2283.21 1823.88 L2284.01 1823.75 L2284.82 1823.61 L2285.62 1823.48 L2286.42 1823.34 L2287.23 1823.2 L2288.03 1823.06 L2288.83 1822.92 L2289.64 1822.78 L2290.44 1822.64 L2291.24 1822.49 L2292.05 1822.35 L2292.85 1822.2 L2293.65 1822.05 L2294.46 1821.91 L2295.26 1821.76 L2296.06 1821.61 L2296.87 1821.45 L2297.67 1821.3 L2298.47 1821.15 L2299.28 1820.99 L2300.08 1820.84 L2300.88 1820.68 L2301.69 1820.52 L2302.49 1820.36 L2303.29 1820.2 L2304.1 1820.03 L2304.9 1819.87 L2305.7 1819.71 L2306.51 1819.54 L2307.31 1819.37 L2308.11 1819.2 L2308.92 1819.03 L2309.72 1818.86 L2310.52 1818.69 L2311.33 1818.52 L2312.13 1818.34 L2312.93 1818.16 L2313.74 1817.99 L2314.54 1817.81 L2315.34 1817.63 L2316.15 1817.45 L2316.95 1817.26 L2317.75 1817.08 L2318.56 1816.89 L2319.36 1816.71 L2320.16 1816.52 L2320.97 1816.33 L2321.77 1816.14 L2322.57 1815.95 L2323.38 1815.75 L2324.18 1815.56 L2324.98 1815.36 L2325.79 1815.17 L2326.59 1814.97 L2327.39 1814.77 L2328.2 1814.57 L2329 1814.36 L2329.8 1814.16 L2330.61 1813.95 L2331.41 1813.75 L2332.21 1813.54 L2333.02 1813.33 L2333.82 1813.12 L2334.62 1812.9 L2335.43 1812.69 L2336.23 1812.47 L2337.03 1812.26 L2337.84 1812.04 L2338.64 1811.82 L2339.44 1811.6 L2340.25 1811.38 L2341.05 1811.15 L2341.85 1810.93 L2342.66 1810.7 L2343.46 1810.47 L2344.26 1810.24 L2345.07 1810.01 L2345.87 1809.78 L2346.67 1809.54 L2347.48 1809.31 L2348.28 1809.07 L2349.08 1808.83 L2349.89 1808.59 L2350.69 1808.35 L2351.49 1808.1 L2352.3 1807.86 L2353.1 1807.61 L2353.9 1807.36 L2354.71 1807.11 L2355.51 1806.86 L2356.31 1806.61 L2357.12 1806.35 L2357.92 1806.1 L2358.72 1805.84 L2359.53 1805.58 L2360.33 1805.32 L2361.13 1805.06 L2361.94 1804.79 L2362.74 1804.53 L2363.54 1804.26 L2364.35 1803.99 L2365.15 1803.72 L2365.95 1803.45 L2366.76 1803.18 L2367.56 1802.9 L2368.36 1802.63 L2369.17 1802.35 L2369.97 1802.07 L2370.77 1801.78 L2371.58 1801.5 L2372.38 1801.22 L2373.18 1800.93 L2373.99 1800.64 L2374.79 1800.35 L2375.59 1800.06 L2376.4 1799.76 L2377.2 1799.47 L2378 1799.17 L2378.81 1798.87 L2379.61 1798.57 L2380.41 1798.27 L2381.22 1797.97 L2382.02 1797.66 L2382.82 1797.35 L2383.63 1797.05 L2384.43 1796.73 L2385.23 1796.42 L2386.04 1796.11 L2386.84 1795.79 L2387.64 1795.47 L2388.45 1795.15 L2389.25 1794.83 L2390.05 1794.51 L2390.86 1794.18 L2391.66 1793.86 L2392.46 1793.53 L2393.27 1793.2 L2394.07 1792.87 L2394.87 1792.53 L2395.68 1792.2 L2396.48 1791.86 L2397.28 1791.52 L2398.09 1791.18 L2398.89 1790.83 L2399.69 1790.49 L2400.5 1790.14 L2401.3 1789.79 L2402.1 1789.44 L2402.91 1789.09 L2403.71 1788.73 L2404.51 1788.38 L2405.32 1788.02 L2406.12 1787.66 L2406.92 1787.3 L2407.73 1786.93 L2408.53 1786.57 L2409.33 1786.2 L2410.14 1785.83 L2410.94 1785.46 L2411.74 1785.09 L2412.55 1784.71 L2413.35 1784.33 L2414.15 1783.95 L2414.96 1783.57 L2415.76 1783.19 L2416.56 1782.8 L2417.37 1782.42 L2418.17 1782.03 L2418.97 1781.63 L2419.78 1781.24 L2420.58 1780.85 L2421.38 1780.45 L2422.19 1780.05 L2422.99 1779.65 L2423.79 1779.24 L2424.6 1778.84 L2425.4 1778.43 L2426.2 1778.02 L2427.01 1777.61 L2427.81 1777.2 L2428.61 1776.78 L2429.42 1776.36 L2430.22 1775.94 L2431.02 1775.52 L2431.83 1775.1 L2432.63 1774.67 L2433.43 1774.24 L2434.24 1773.81 L2435.04 1773.38 L2435.84 1772.95 L2436.65 1772.51 L2437.45 1772.07 L2438.25 1771.63 L2439.06 1771.19 L2439.86 1770.74 L2440.66 1770.3 L2441.47 1769.85 L2442.27 1769.4 L2443.07 1768.94 L2443.88 1768.49 L2444.68 1768.03 L2445.48 1767.57 L2446.29 1767.11 L2447.09 1766.64 L2447.89 1766.18 L2448.7 1765.71 L2449.5 1765.24" fill="none" stroke="#ff0000" stroke-width="6.5" stroke-linecap="butt" stroke-linejoin="round" stroke-dasharray="18 11.5"/>
<text x="1447.21" y="1846.4" font-family="&quot;Liberation Serif&quot;, serif" font-size="45.3" fill="#262626" stroke="#262626" stroke-width="0.9" textLength="22.5" lengthAdjust="spacingAndGlyphs">0</text>
<text x="1391.73" y="1741.11" font-family="&quot;Liberation Serif&quot;, serif" font-size="45.3" fill="#262626" stroke="#262626" stroke-width="0.9" textLength="78.75" lengthAdjust="spacingAndGlyphs">0.02</text>
<text x="1389.95" y="1635.83" font-family="&quot;Liberation Serif&quot;, serif" font-size="45.3" fill="#262626" stroke="#262626" stroke-width="0.9" textLength="78.75" lengthAdjust="spacingAndGlyphs">0.04</text>
<text x="1390.59" y="1530.54" font-family="&quot;Liberation Serif&quot;, serif" font-size="45.3" fill="#262626" stroke="#262626" stroke-width="0.9" textLength="78.75" lengthAdjust="spacingAndGlyphs">0.06</text>
<text x="1390.96" y="1425.26" font-family="&quot;Liberation Serif&quot;, serif" font-size="45.3" fill="#262626" stroke="#262626" stroke-width="0.9" textLength="78.75" lengthAdjust="spacingAndGlyphs">0.08</text>
<text x="1414.45" y="1319.97" font-family="&quot;Liberation Serif&quot;, serif" font-size="45.3" fill="#262626" stroke="#262626" stroke-width="0.9" textLength="56.25" lengthAdjust="spacingAndGlyphs">0.1</text>
<text x="1391.73" y="1214.69" font-family="&quot;Liberation Serif&quot;, serif" font-size="45.3" fill="#262626" stroke="#262626" stroke-width="0.9" textLength="78.75" lengthAdjust="spacingAndGlyphs">0.12</text>
<text x="1389.95" y="1109.4" font-family="&quot;Liberation Serif&quot;, serif" font-size="45.3" fill="#262626" stroke="#262626" stroke-width="0.9" textLength="78.75" lengthAdjust="spacingAndGlyphs">0.14</text>
<text x="1553.38" y="1893.12" font-family="&quot;Liberation Serif&quot;, serif" font-size="45.3" fill="#262626" stroke="#262626" stroke-width="0.4" textLength="33.82" lengthAdjust="spacingAndGlyphs">−</text>
<text x="1587.41" y="1889.5" font-family="&quot;Liberation Serif&quot;, serif" font-size="45.3" fill="#262626" stroke="#262626" stroke-width="0.9" textLength="22.5" lengthAdjust="spacingAndGlyphs">2</text>
<text x="1747.28" y="1893.12" font-family="&quot;Liberation Serif&quot;, serif" font-size="45.3" fill="#262626" stroke="#262626" stroke-width="0.4" textLength="33.82" lengthAdjust="spacingAndGlyphs">−</text>
<text x="1779.34" y="1889.5" font-family="&quot;Liberation Serif&quot;, serif" font-size="45.3" fill="#262626" stroke="#262626" stroke-width="0.9" textLength="22.5" lengthAdjust="spacingAndGlyphs">1</text>
<text x="1956.25" y="1889.5" font-family="&quot;Liberation Serif&quot;, serif" font-size="45.3" fill="#262626" stroke="#262626" stroke-width="0.9" textLength="22.5" lengthAdjust="spacingAndGlyphs">0</text>
<text x="2148.42" y="1889.5" font-family="&quot;Liberation Serif&quot;, serif" font-size="45.3" fill="#262626" stroke="#262626" stroke-width="0.9" textLength="22.5" lengthAdjust="spacingAndGlyphs">1</text>
<text x="2342.1" y="1889.5" font-family="&quot;Liberation Serif&quot;, serif" font-size="45.3" fill="#262626" stroke="#262626" stroke-width="0.9" textLength="22.5" lengthAdjust="spacingAndGlyphs">2</text>
<rect x="1951.5" y="1096.4" width="498" height="230.8" fill="#fff" stroke="#262626" stroke-width="1.5"/>
<path d="M1959.9 1137.5 L2049.9 1137.5" fill="none" stroke="#4dbeee" stroke-width="6.8" stroke-linecap="butt" stroke-linejoin="round" stroke-dasharray="18.7 3.4 10 3.4"/>
<text font-family="&quot;Liberation Serif&quot;, serif" fill="#000"><tspan x="2056.69" y="1145.2" font-size="44.5" textLength="32.67" lengthAdjust="spacingAndGlyphs">V</tspan><tspan x="2089.36" y="1166.6" font-size="35.5" textLength="24.07" lengthAdjust="spacingAndGlyphs">R</tspan><tspan x="2113.43" y="1145.2" font-size="44.5" font-weight="bold" textLength="25.78" lengthAdjust="spacingAndGlyphs">=</tspan><tspan x="2139.2" y="1145.2" font-size="44.5" textLength="32.67" lengthAdjust="spacingAndGlyphs">V</tspan><tspan x="2171.87" y="1166.6" font-size="35.5" textLength="42.11" lengthAdjust="spacingAndGlyphs">R0</tspan><tspan x="2213.98" y="1145.2" font-size="44.5" textLength="43.97" lengthAdjust="spacingAndGlyphs">,A</tspan><tspan x="2257.95" y="1166.6" font-size="35.5" textLength="24.07" lengthAdjust="spacingAndGlyphs">R</tspan><tspan x="2282.02" y="1145.2" font-size="44.5" font-weight="bold" textLength="25.78" lengthAdjust="spacingAndGlyphs">=</tspan><tspan x="2307.8" y="1145.2" font-size="44.5" textLength="32.67" lengthAdjust="spacingAndGlyphs">A</tspan><tspan x="2340.46" y="1166.6" font-size="35.5" textLength="42.11" lengthAdjust="spacingAndGlyphs">R0</tspan></text>
<path d="M1959.9 1211.4 L2049.9 1211.4" fill="none" stroke="#7e2f8e" stroke-width="6.8" stroke-linecap="butt" stroke-linejoin="round"/>
<text font-family="&quot;Liberation Serif&quot;, serif" fill="#000"><tspan x="2056.69" y="1219.1" font-size="44.5" textLength="32.58" lengthAdjust="spacingAndGlyphs">V</tspan><tspan x="2089.27" y="1240.5" font-size="35.5" textLength="24" lengthAdjust="spacingAndGlyphs">R</tspan><tspan x="2113.27" y="1219.1" font-size="44.5" font-weight="bold" textLength="25.7" lengthAdjust="spacingAndGlyphs">=</tspan><tspan x="2138.98" y="1219.1" font-size="44.5" textLength="32.58" lengthAdjust="spacingAndGlyphs">V</tspan><tspan x="2171.55" y="1240.5" font-size="35.5" textLength="41.99" lengthAdjust="spacingAndGlyphs">R0</tspan><tspan x="2213.55" y="1219.1" font-size="44.5" textLength="43.85" lengthAdjust="spacingAndGlyphs">,A</tspan><tspan x="2257.4" y="1240.5" font-size="35.5" textLength="24" lengthAdjust="spacingAndGlyphs">R</tspan><tspan x="2281.4" y="1219.1" font-size="44.5" font-weight="bold" textLength="25.7" lengthAdjust="spacingAndGlyphs">=</tspan><tspan x="2307.11" y="1219.1" font-size="44.5" textLength="32.58" lengthAdjust="spacingAndGlyphs">A</tspan><tspan x="2339.68" y="1240.5" font-size="35.5" textLength="41.99" lengthAdjust="spacingAndGlyphs">R0</tspan><tspan x="2381.68" y="1219.1" font-size="44.5" textLength="57.64" lengthAdjust="spacingAndGlyphs">/10</tspan></text>
<path d="M1959.9 1286.5 L2049.9 1286.5" fill="none" stroke="#ff0000" stroke-width="6.8" stroke-linecap="butt" stroke-linejoin="round" stroke-dasharray="18.9 16.6"/>
<text font-family="&quot;Liberation Serif&quot;, serif" fill="#000"><tspan x="2056.69" y="1294.2" font-size="44.5" textLength="32.55" lengthAdjust="spacingAndGlyphs">V</tspan><tspan x="2089.24" y="1315.6" font-size="35.5" textLength="23.98" lengthAdjust="spacingAndGlyphs">R</tspan><tspan x="2113.22" y="1294.2" font-size="44.5" font-weight="bold" textLength="25.68" lengthAdjust="spacingAndGlyphs">=</tspan><tspan x="2138.9" y="1294.2" font-size="44.5" textLength="32.55" lengthAdjust="spacingAndGlyphs">V</tspan><tspan x="2171.45" y="1315.6" font-size="35.5" textLength="41.96" lengthAdjust="spacingAndGlyphs">R0</tspan><tspan x="2213.4" y="1294.2" font-size="44.5" textLength="101.4" lengthAdjust="spacingAndGlyphs">/10,A</tspan><tspan x="2314.81" y="1315.6" font-size="35.5" textLength="23.98" lengthAdjust="spacingAndGlyphs">R</tspan><tspan x="2338.79" y="1294.2" font-size="44.5" font-weight="bold" textLength="25.68" lengthAdjust="spacingAndGlyphs">=</tspan><tspan x="2364.47" y="1294.2" font-size="44.5" textLength="32.55" lengthAdjust="spacingAndGlyphs">A</tspan><tspan x="2397.01" y="1315.6" font-size="35.5" textLength="41.96" lengthAdjust="spacingAndGlyphs">R0</tspan></text>
<rect x="1620.4" y="1324.9" width="371" height="280.5" fill="#fff"/>
<path d="M1666.5 1324.9V1605.4 M1799.5 1324.9V1605.4 M1932.5 1324.9V1605.4 M1620.4 1569.5H1991.4 M1620.4 1494.5H1991.4 M1620.4 1419.5H1991.4 M1620.4 1344.5H1991.4" stroke="#dfdfdf" stroke-width="1.0" fill="none"/>
<path d="M1666.5 1605.5V1598.5 M1666.5 1324.5V1331.5 M1799.5 1605.5V1598.5 M1799.5 1324.5V1331.5 M1932.5 1605.5V1598.5 M1932.5 1324.5V1331.5 M1620.5 1569.5H1627.5 M1991.5 1569.5H1984.5 M1620.5 1494.5H1627.5 M1991.5 1494.5H1984.5 M1620.5 1419.5H1627.5 M1991.5 1419.5H1984.5 M1620.5 1344.5H1627.5 M1991.5 1344.5H1984.5" stroke="#262626" stroke-width="1.2" fill="none"/>
<rect x="1620.5" y="1324.5" width="371" height="281" fill="none" stroke="#262626" stroke-width="1.2"/>
<path d="M1620.4 1496.64 L1621.8 1560.05 L1623.19 1497.37 L1624.59 1581.39 L1625.98 1501.63 L1627.38 1570.41 L1628.77 1507.16 L1630.17 1567.75 L1631.57 1502.35 L1632.96 1555.06 L1634.36 1492.06 L1635.75 1555.59 L1637.15 1490 L1638.54 1575.97 L1639.94 1490.92 L1641.34 1559.4 L1642.73 1502.23 L1644.13 1581.12 L1645.52 1497.89 L1646.92 1557.54 L1648.31 1484.14 L1649.71 1559.74 L1651.11 1485.03 L1652.5 1577.03 L1653.9 1504.38 L1655.29 1555.05 L1656.69 1486.64 L1658.08 1557.72 L1659.48 1496.48 L1660.88 1579.23 L1662.27 1498.24 L1663.67 1560.26 L1665.06 1496.99 L1666.46 1559.19 L1667.86 1492.62 L1669.25 1574.84 L1670.65 1488.35 L1672.04 1563.82 L1673.44 1494.78 L1674.83 1557.21 L1676.23 1496.14 L1677.63 1577.91 L1679.02 1500.18 L1680.42 1552.1 L1681.81 1495.02 L1683.21 1571.33 L1684.6 1504.65 L1686 1555.97 L1687.4 1500.81 L1688.79 1569.43 L1690.19 1484.55 L1691.58 1558.72 L1692.98 1485.17 L1694.37 1572.29 L1695.77 1488.86 L1697.17 1556.46 L1698.56 1500.06 L1699.96 1579.03 L1701.35 1504.75 L1702.75 1571.71 L1704.14 1500.74 L1705.54 1574.12 L1706.94 1498.97 L1708.33 1576.57 L1709.73 1477.3 L1711.12 1565.28 L1712.52 1502.82 L1713.91 1583.33 L1715.31 1466.95 L1716.71 1568.71 L1718.1 1499.61 L1719.5 1552.79 L1720.89 1493.66 L1722.29 1556.05 L1723.68 1499.02 L1725.08 1551.72 L1726.48 1497.95 L1727.87 1556.08 L1729.27 1481.43 L1730.66 1559.93 L1732.06 1505.27 L1733.45 1567.67 L1734.85 1485.51 L1736.25 1551.94 L1737.64 1482.87 L1739.04 1573.96 L1740.43 1489.77 L1741.83 1553.49 L1743.22 1490.87 L1744.62 1555.57 L1746.02 1505.68 L1747.41 1576.04 L1748.81 1487.22 L1750.2 1577.84 L1751.6 1502.23 L1752.99 1557.11 L1754.39 1489 L1755.79 1561.15 L1757.18 1499.37 L1758.58 1573.48 L1759.97 1486.34 L1761.37 1562.36 L1762.77 1484.6 L1764.16 1575.71 L1765.56 1480.28 L1766.95 1555.19 L1768.35 1492.04 L1769.74 1568.21 L1771.14 1486.3 L1772.54 1559.77 L1773.93 1466.25 L1775.33 1558.92 L1776.72 1478.8 L1778.12 1573.54 L1779.51 1486.29 L1780.91 1555.08 L1782.31 1484.71 L1783.7 1566.71 L1785.1 1495.46 L1786.49 1573.16 L1787.89 1500.09 L1789.28 1549.97 L1790.68 1502.62 L1792.08 1565.35 L1793.47 1489.64 L1794.87 1562.1 L1796.26 1495.15 L1797.66 1568.53 L1799.05 1482.58 L1800.45 1556.68 L1801.85 1500.11 L1803.24 1574.78 L1804.64 1480.62 L1806.03 1569.58 L1807.43 1479.43 L1808.82 1560.92 L1810.22 1501.68 L1811.62 1554.31 L1813.01 1493.03 L1814.41 1552.51 L1815.8 1504.42 L1817.2 1551.93 L1818.59 1483.27 L1819.99 1560.41 L1821.39 1487.78 L1822.78 1553.93 L1824.18 1499.15 L1825.57 1552.03 L1826.97 1503.27 L1828.36 1577.72 L1829.76 1493 L1831.16 1553.4 L1832.55 1502.62 L1833.95 1581.37 L1835.34 1489.84 L1836.74 1559.63 L1838.13 1502.57 L1839.53 1553.93 L1840.93 1489.65 L1842.32 1550.71 L1843.72 1490.65 L1845.11 1583.19 L1846.51 1500.7 L1847.91 1559.2 L1849.3 1499.37 L1850.7 1567.23 L1852.09 1496.25 L1853.49 1559.67 L1854.88 1484.36 L1856.28 1553.1 L1857.68 1485.2 L1859.07 1566.34 L1860.47 1493.89 L1861.86 1573.92 L1863.26 1483.28 L1864.65 1561.45 L1866.05 1488.36 L1867.45 1568.26 L1868.84 1481.15 L1870.24 1551.78 L1871.63 1496.62 L1873.03 1561.82 L1874.42 1501.72 L1875.82 1566.96 L1877.22 1499.92 L1878.61 1548.47 L1880.01 1500.64 L1881.4 1570.17 L1882.8 1480.73 L1884.19 1551.98 L1885.59 1481.09 L1886.99 1579.76 L1888.38 1492.61 L1889.78 1566.77 L1891.17 1494.82 L1892.57 1561.84 L1893.96 1499.83 L1895.36 1550.5 L1896.76 1501.43 L1898.15 1588.55 L1899.55 1498.46 L1900.94 1564.75 L1902.34 1493.03 L1903.73 1575.25 L1905.13 1482.86 L1906.53 1552.95 L1907.92 1493.88 L1909.32 1561.05 L1910.71 1490.53 L1912.11 1571.89 L1913.5 1473.07 L1914.9 1560.15 L1916.3 1469.54 L1917.69 1549.39 L1919.09 1503.21 L1920.48 1550.22 L1921.88 1466.69 L1923.27 1557.25 L1924.67 1465.96 L1926.07 1548.85 L1927.46 1499.69 L1928.86 1554.06 L1930.25 1490.73 L1931.65 1555.99 L1933.04 1500.46 L1934.44 1561.52 L1935.84 1492.54 L1937.23 1579.35 L1938.63 1486.2 L1940.02 1569.71 L1941.42 1494.16 L1942.82 1550.21 L1944.21 1470.9 L1945.61 1557.74 L1947 1484.96 L1948.4 1560.79 L1949.79 1490.28 L1951.19 1553.78 L1952.59 1500.49 L1953.98 1550.55 L1955.38 1501.77 L1956.77 1552.12 L1958.17 1495.56 L1959.56 1547.56 L1960.96 1492.63 L1962.36 1555.87 L1963.75 1502.03 L1965.15 1547.88 L1966.54 1484.8 L1967.94 1555.69 L1969.33 1501.75 L1970.73 1575.13 L1972.13 1486.63 L1973.52 1558.82 L1974.92 1492.25 L1976.31 1549.85 L1977.71 1497.6 L1979.1 1572.38 L1980.5 1496.1 L1981.9 1557.21 L1983.29 1495.6 L1984.69 1559.86 L1986.08 1490.64 L1987.48 1562.02 L1988.87 1488.44 L1990.27 1556.06" fill="none" stroke="#7e2f8e" stroke-width="6.5" stroke-linecap="butt" stroke-linejoin="round"/>
<path d="M1638.05 1324.9 L1639.2 1325.79 L1642.27 1328.17 L1645.34 1330.54 L1648.4 1332.9 L1651.47 1335.27 L1654.54 1337.62 L1657.61 1339.97 L1660.67 1342.31 L1663.74 1344.65 L1666.81 1346.99 L1669.87 1349.31 L1672.94 1351.64 L1676.01 1353.95 L1679.08 1356.26 L1682.14 1358.56 L1685.21 1360.86 L1688.28 1363.15 L1691.34 1365.44 L1694.41 1367.72 L1697.48 1369.99 L1700.55 1372.25 L1703.61 1374.51 L1706.68 1376.77 L1709.75 1379.01 L1712.82 1381.25 L1715.88 1383.48 L1718.95 1385.71 L1722.02 1387.93 L1725.08 1390.14 L1728.15 1392.34 L1731.22 1394.54 L1734.29 1396.73 L1737.35 1398.91 L1740.42 1401.08 L1743.49 1403.25 L1746.55 1405.41 L1749.62 1407.56 L1752.69 1409.7 L1755.76 1411.84 L1758.82 1413.97 L1761.89 1416.08 L1764.96 1418.2 L1768.03 1420.3 L1771.09 1422.4 L1774.16 1424.48 L1777.23 1426.56 L1780.29 1428.63 L1783.36 1430.69 L1786.43 1432.75 L1789.5 1434.79 L1792.56 1436.83 L1795.63 1438.85 L1798.7 1440.87 L1801.76 1442.88 L1804.83 1444.88 L1807.9 1446.87 L1810.97 1448.85 L1814.03 1450.83 L1817.1 1452.79 L1820.17 1454.74 L1823.24 1456.69 L1826.3 1458.62 L1829.37 1460.55 L1832.44 1462.46 L1835.5 1464.37 L1838.57 1466.26 L1841.64 1468.15 L1844.71 1470.02 L1847.77 1471.89 L1850.84 1473.75 L1853.91 1475.59 L1856.97 1477.43 L1860.04 1479.25 L1863.11 1481.06 L1866.18 1482.87 L1869.24 1484.66 L1872.31 1486.44 L1875.38 1488.21 L1878.45 1489.97 L1881.51 1491.72 L1884.58 1493.46 L1887.65 1495.19 L1890.71 1496.91 L1893.78 1498.61 L1896.85 1500.31 L1899.92 1501.99 L1902.98 1503.66 L1906.05 1505.32 L1909.12 1506.97 L1912.18 1508.61 L1915.25 1510.23 L1918.32 1511.84 L1921.39 1513.45 L1924.45 1515.04 L1927.52 1516.61 L1930.59 1518.18 L1933.66 1519.73 L1936.72 1521.27 L1939.79 1522.8 L1942.86 1524.32 L1945.92 1525.82 L1948.99 1527.31 L1952.06 1528.79 L1955.13 1530.25 L1958.19 1531.71 L1961.26 1533.15 L1964.33 1534.58 L1967.39 1535.99 L1970.46 1537.39 L1973.53 1538.78 L1976.6 1540.15 L1979.66 1541.51 L1982.73 1542.86 L1985.8 1544.2 L1988.87 1545.52 L1991.4 1546.6" fill="none" stroke="#ff0000" stroke-width="5.5" stroke-linecap="butt" stroke-linejoin="round" stroke-dasharray="16 14" stroke-dashoffset="-2"/>
<text x="1582.74" y="1579.73" font-family="&quot;Liberation Serif&quot;, serif" font-size="45.3" fill="#262626" stroke="#262626" stroke-width="0.9" textLength="22.5" lengthAdjust="spacingAndGlyphs">6</text>
<text x="1583.11" y="1504.73" font-family="&quot;Liberation Serif&quot;, serif" font-size="45.3" fill="#262626" stroke="#262626" stroke-width="0.9" textLength="22.5" lengthAdjust="spacingAndGlyphs">8</text>
<text x="1560.61" y="1429.73" font-family="&quot;Liberation Serif&quot;, serif" font-size="45.3" fill="#262626" stroke="#262626" stroke-width="0.9" textLength="45" lengthAdjust="spacingAndGlyphs">10</text>
<text x="1561.38" y="1354.73" font-family="&quot;Liberation Serif&quot;, serif" font-size="45.3" fill="#262626" stroke="#262626" stroke-width="0.9" textLength="45" lengthAdjust="spacingAndGlyphs">12</text>
<text x="1620.77" y="1661.22" font-family="&quot;Liberation Serif&quot;, serif" font-size="45.3" fill="#262626" stroke="#262626" stroke-width="0.4" textLength="33.82" lengthAdjust="spacingAndGlyphs">−</text>
<text x="1654.8" y="1657.6" font-family="&quot;Liberation Serif&quot;, serif" font-size="45.3" fill="#262626" stroke="#262626" stroke-width="0.9" textLength="56.25" lengthAdjust="spacingAndGlyphs">2.3</text>
<text x="1754.06" y="1661.22" font-family="&quot;Liberation Serif&quot;, serif" font-size="45.3" fill="#262626" stroke="#262626" stroke-width="0.4" textLength="33.82" lengthAdjust="spacingAndGlyphs">−</text>
<text x="1788.09" y="1657.6" font-family="&quot;Liberation Serif&quot;, serif" font-size="45.3" fill="#262626" stroke="#262626" stroke-width="0.9" textLength="56.25" lengthAdjust="spacingAndGlyphs">2.2</text>
<text x="1887.1" y="1661.22" font-family="&quot;Liberation Serif&quot;, serif" font-size="45.3" fill="#262626" stroke="#262626" stroke-width="0.4" textLength="33.82" lengthAdjust="spacingAndGlyphs">−</text>
<text x="1921.13" y="1657.6" font-family="&quot;Liberation Serif&quot;, serif" font-size="45.3" fill="#262626" stroke="#262626" stroke-width="0.9" textLength="56.25" lengthAdjust="spacingAndGlyphs">2.1</text>
<text x="1622.9" y="1309.3" font-family="&quot;Liberation Serif&quot;, serif" font-size="45.3" fill="#262626" textLength="77.18" lengthAdjust="spacingAndGlyphs">×10</text>
<text x="1700.12" y="1294" font-family="&quot;Liberation Serif&quot;, serif" font-size="31.8" fill="#262626" textLength="40.26" lengthAdjust="spacingAndGlyphs">−3</text>
<path d="M1558.6 1682.4 H2004.9 V1318.4 H1558.6 Z" fill="none" stroke="#ff17a9" stroke-width="6" stroke-dasharray="18.5 17" stroke-linejoin="miter"/>
<path d="M1447.4 1871.4 H1620.4 V1789.6 H1447.4 Z" fill="none" stroke="#ff17a9" stroke-width="6" stroke-dasharray="18.5 17" stroke-linejoin="miter"/>
<path d="M1562.6 1782 L1642.22 1679.99" fill="none" stroke="#ff17a9" stroke-width="7" stroke-linecap="butt" stroke-linejoin="round"/>
<path d="M1653.3 1665.8 L1644.5 1694.96 L1641.61 1680.78 L1627.15 1681.42 Z" fill="#ff17a9"/>
<text x="1713.42" y="1952.2" font-family="&quot;Liberation Serif&quot;, serif" font-size="48.5" fill="#262626" textLength="506.28" lengthAdjust="spacingAndGlyphs">Synthetic aperture time (s)</text>
<text transform="translate(1370.6,1625.7) rotate(-90)" font-family="&quot;Liberation Serif&quot;, serif" font-size="48" fill="#262626" textLength="318.75" lengthAdjust="spacingAndGlyphs">Phase error (rad)</text>
<text x="1893.42" y="2063" font-family="&quot;Liberation Serif&quot;, serif" font-size="84" fill="#000" textLength="102.38" lengthAdjust="spacingAndGlyphs">(<tspan font-weight="bold">d</tspan>)</text>
</svg></body></html>
